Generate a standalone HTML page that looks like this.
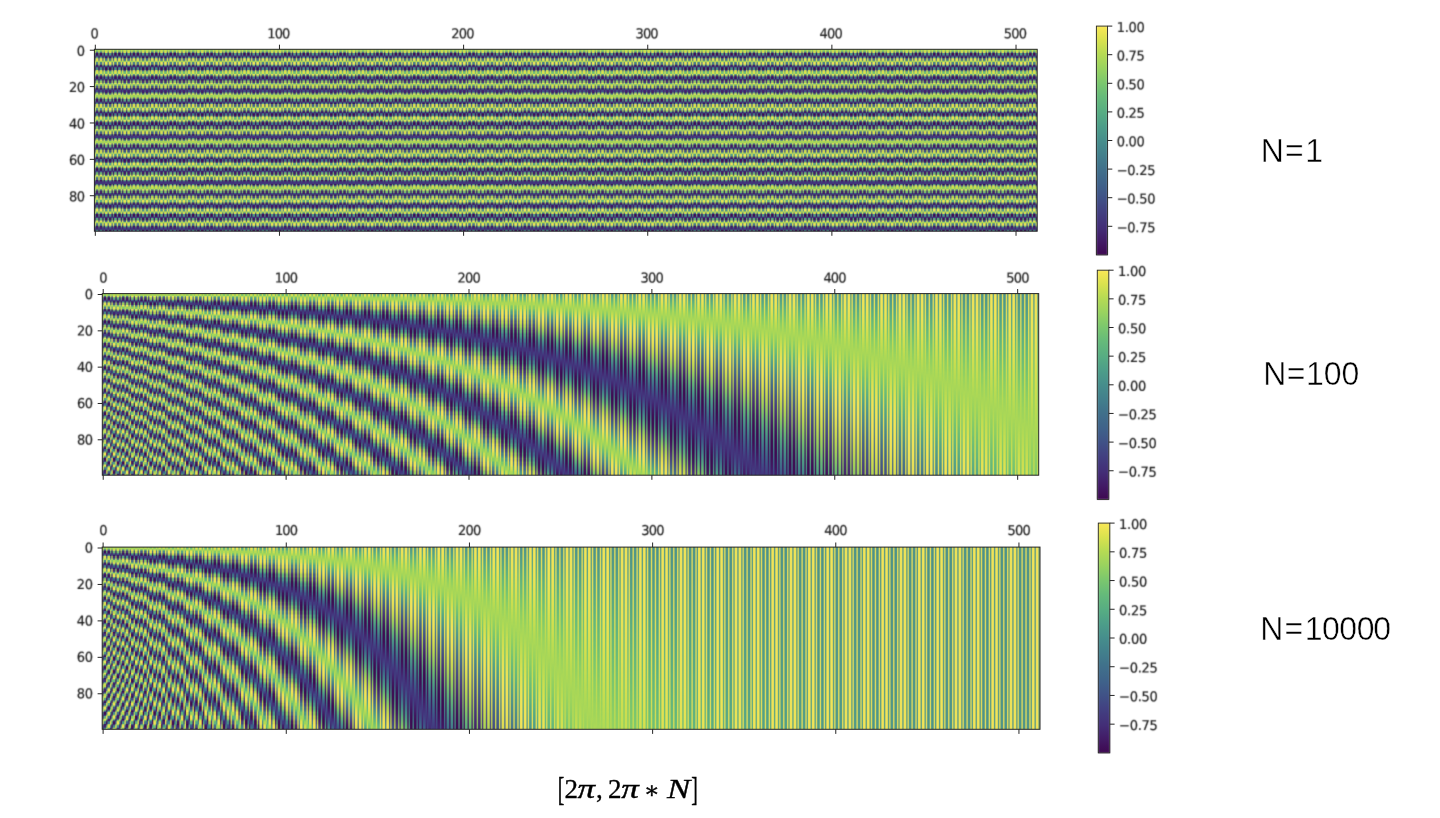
<!DOCTYPE html>
<html lang="en"><head><meta charset="utf-8"><title>Positional encoding wavelengths</title>
<style>
html,body{margin:0;padding:0;background:#fff;}
body{width:1440px;height:818px;position:relative;overflow:hidden;font-family:"Liberation Sans",sans-serif;}
svg{position:absolute;left:0;top:0;}
svg svg{position:static;}
.tk{font-family:"DejaVu Sans","Liberation Sans",sans-serif;font-size:13px;fill:#1c1c1c;stroke:#1c1c1c;stroke-width:.2px;}
.nl{font-family:"Liberation Sans",sans-serif;font-size:32px;fill:#000;stroke:#fff;stroke-width:.45px;}
.mt{font-family:"Liberation Serif","DejaVu Serif",serif;fill:#000;stroke:#000;stroke-width:.35px;}
</style></head><body>
<svg id="fig" width="1440" height="818" viewBox="0 0 1440 818">
<defs>
<filter id="soft" filterUnits="userSpaceOnUse" x="0" y="0" width="1200" height="818" color-interpolation-filters="sRGB"><feConvolveMatrix order="3" kernelMatrix="1 4 1 4 16 4 1 4 1"/></filter>
<filter id="vm0" filterUnits="userSpaceOnUse" x="93" y="48" width="946" height="185" color-interpolation-filters="sRGB"><feComponentTransfer><feFuncR type="table" tableValues=".978 .978 .978 .970 .962 .954 .938 .921 .904 .879 .853 .827 .801 .767 .733 .699 .666 .627 .596 .559 .525 .486 .457 .425 .396 .375 .353 .334 .316 .304 .293 .284 .276 .269 .263 .258 .254 .250 .247 .246 .246 .246 .248 .250 .253 .256 .259 .261 .263 .264 .264 .264 .263 .261 .259 .257 .254 .252 .249 .246 .245 .244 .242 .242 .242"/><feFuncG type="table" tableValues=".909 .909 .909 .908 .906 .905 .901 .898 .895 .891 .886 .881 .876 .870 .862 .855 .846 .835 .826 .813 .800 .782 .767 .749 .729 .712 .692 .670 .646 .624 .602 .580 .559 .533 .512 .490 .468 .443 .421 .398 .379 .356 .332 .312 .286 .265 .243 .225 .203 .185 .166 .148 .130 .116 .102 .088 .074 .065 .055 .045 .040 .034 .030 .030 .030"/><feFuncB type="table" tableValues=".334 .334 .334 .331 .328 .325 .319 .315 .311 .307 .305 .306 .308 .313 .321 .330 .342 .358 .371 .388 .406 .426 .443 .461 .478 .491 .504 .516 .527 .535 .541 .545 .548 .550 .550 .550 .549 .547 .545 .543 .540 .537 .532 .528 .521 .513 .504 .495 .482 .470 .456 .441 .424 .411 .397 .382 .367 .356 .345 .334 .328 .322 .317 .317 .317"/></feComponentTransfer></filter>
<filter id="bl0" filterUnits="userSpaceOnUse" x="93" y="48" width="946" height="185" color-interpolation-filters="sRGB"><feConvolveMatrix order="3" kernelMatrix="1 8 1 8 64 8 1 8 1" edgeMode="duplicate" preserveAlpha="true"/></filter>
<filter id="nf0" filterUnits="userSpaceOnUse" x="93" y="48" width="946" height="185" color-interpolation-filters="sRGB"><feOffset dx="0" dy="0"/></filter>
<clipPath id="cp0"><rect x="94.4" y="49.3" width="942.8" height="181.9"/></clipPath>
<filter id="vm1" filterUnits="userSpaceOnUse" x="101" y="292" width="939" height="185" color-interpolation-filters="sRGB"><feComponentTransfer><feFuncR type="table" tableValues=".978 .978 .978 .970 .962 .954 .938 .921 .904 .879 .853 .827 .801 .767 .733 .699 .666 .627 .596 .559 .525 .486 .457 .425 .396 .375 .353 .334 .316 .304 .293 .284 .276 .269 .263 .258 .254 .250 .247 .246 .246 .246 .248 .250 .253 .256 .259 .261 .263 .264 .264 .264 .263 .261 .259 .257 .254 .252 .249 .246 .245 .244 .242 .242 .242"/><feFuncG type="table" tableValues=".909 .909 .909 .908 .906 .905 .901 .898 .895 .891 .886 .881 .876 .870 .862 .855 .846 .835 .826 .813 .800 .782 .767 .749 .729 .712 .692 .670 .646 .624 .602 .580 .559 .533 .512 .490 .468 .443 .421 .398 .379 .356 .332 .312 .286 .265 .243 .225 .203 .185 .166 .148 .130 .116 .102 .088 .074 .065 .055 .045 .040 .034 .030 .030 .030"/><feFuncB type="table" tableValues=".334 .334 .334 .331 .328 .325 .319 .315 .311 .307 .305 .306 .308 .313 .321 .330 .342 .358 .371 .388 .406 .426 .443 .461 .478 .491 .504 .516 .527 .535 .541 .545 .548 .550 .550 .550 .549 .547 .545 .543 .540 .537 .532 .528 .521 .513 .504 .495 .482 .470 .456 .441 .424 .411 .397 .382 .367 .356 .345 .334 .328 .322 .317 .317 .317"/></feComponentTransfer></filter>
<filter id="bl1" filterUnits="userSpaceOnUse" x="101" y="292" width="939" height="185" color-interpolation-filters="sRGB"><feConvolveMatrix order="3" kernelMatrix="1 8 1 8 64 8 1 8 1" edgeMode="duplicate" preserveAlpha="true"/></filter>
<filter id="nf1" filterUnits="userSpaceOnUse" x="101" y="292" width="939" height="185" color-interpolation-filters="sRGB"><feOffset dx="0" dy="0"/></filter>
<clipPath id="cp1"><rect x="102.3" y="293.6" width="936.4" height="181.6"/></clipPath>
<filter id="vm2" filterUnits="userSpaceOnUse" x="101" y="546" width="940" height="185" color-interpolation-filters="sRGB"><feComponentTransfer><feFuncR type="table" tableValues=".978 .978 .978 .970 .962 .954 .938 .921 .904 .879 .853 .827 .801 .767 .733 .699 .666 .627 .596 .559 .525 .486 .457 .425 .396 .375 .353 .334 .316 .304 .293 .284 .276 .269 .263 .258 .254 .250 .247 .246 .246 .246 .248 .250 .253 .256 .259 .261 .263 .264 .264 .264 .263 .261 .259 .257 .254 .252 .249 .246 .245 .244 .242 .242 .242"/><feFuncG type="table" tableValues=".909 .909 .909 .908 .906 .905 .901 .898 .895 .891 .886 .881 .876 .870 .862 .855 .846 .835 .826 .813 .800 .782 .767 .749 .729 .712 .692 .670 .646 .624 .602 .580 .559 .533 .512 .490 .468 .443 .421 .398 .379 .356 .332 .312 .286 .265 .243 .225 .203 .185 .166 .148 .130 .116 .102 .088 .074 .065 .055 .045 .040 .034 .030 .030 .030"/><feFuncB type="table" tableValues=".334 .334 .334 .331 .328 .325 .319 .315 .311 .307 .305 .306 .308 .313 .321 .330 .342 .358 .371 .388 .406 .426 .443 .461 .478 .491 .504 .516 .527 .535 .541 .545 .548 .550 .550 .550 .549 .547 .545 .543 .540 .537 .532 .528 .521 .513 .504 .495 .482 .470 .456 .441 .424 .411 .397 .382 .367 .356 .345 .334 .328 .322 .317 .317 .317"/></feComponentTransfer></filter>
<filter id="bl2" filterUnits="userSpaceOnUse" x="101" y="546" width="940" height="185" color-interpolation-filters="sRGB"><feConvolveMatrix order="3" kernelMatrix="1 8 1 8 64 8 1 8 1" edgeMode="duplicate" preserveAlpha="true"/></filter>
<filter id="nf2" filterUnits="userSpaceOnUse" x="101" y="546" width="940" height="185" color-interpolation-filters="sRGB"><feOffset dx="0" dy="0"/></filter>
<clipPath id="cp2"><rect x="102.2" y="547.1" width="937.8" height="182.2"/></clipPath>
<linearGradient id="b" gradientUnits="userSpaceOnUse" spreadMethod="reflect" x1="0" x2="0"><stop offset="0" stop-color="#000"/><stop offset="1" stop-color="#fff"/></linearGradient>
<linearGradient id="cb" x1="0" y1="0" x2="0" y2="1"><stop offset="0" stop-color="#fae855"/><stop offset="0.06" stop-color="#dae24e"/><stop offset="0.12" stop-color="#b7db53"/><stop offset="0.19" stop-color="#96d260"/><stop offset="0.25" stop-color="#7ac76e"/><stop offset="0.31" stop-color="#65ba7a"/><stop offset="0.38" stop-color="#56ac83"/><stop offset="0.44" stop-color="#4c9d89"/><stop offset="0.5" stop-color="#468e8c"/><stop offset="0.56" stop-color="#42808c"/><stop offset="0.62" stop-color="#40718b"/><stop offset="0.69" stop-color="#3f628a"/><stop offset="0.75" stop-color="#405287"/><stop offset="0.81" stop-color="#424081"/><stop offset="0.88" stop-color="#432e77"/><stop offset="0.94" stop-color="#421b66"/><stop offset="1" stop-color="#3e0851"/></linearGradient>
<clipPath id="ce0"><path d="M94.4 43h1.32v195h-1.32zM98.35 43h1.32v195h-1.32zM102.3 43h1.32v195h-1.32zM104.93 43h2.63v195h-2.63zM108.88 43h2.63v195h-2.63zM112.83 43h1.32v195h-1.32zM116.78 43h1.32v195h-1.32zM120.73 43h1.32v195h-1.32zM123.36 43h2.63v195h-2.63zM127.31 43h2.63v195h-2.63zM131.26 43h1.32v195h-1.32zM135.21 43h1.32v195h-1.32zM139.16 43h1.32v195h-1.32zM141.79 43h2.63v195h-2.63zM145.74 43h2.63v195h-2.63zM149.69 43h1.32v195h-1.32zM153.64 43h1.32v195h-1.32zM157.59 43h1.32v195h-1.32zM160.22 43h2.63v195h-2.63zM164.17 43h2.63v195h-2.63zM168.12 43h1.32v195h-1.32zM172.07 43h1.32v195h-1.32zM176.02 43h1.32v195h-1.32zM178.65 43h2.63v195h-2.63zM182.6 43h2.63v195h-2.63zM186.55 43h1.32v195h-1.32zM190.5 43h1.32v195h-1.32zM194.45 43h1.32v195h-1.32zM197.08 43h2.63v195h-2.63zM201.03 43h2.63v195h-2.63zM204.98 43h1.32v195h-1.32zM208.93 43h1.32v195h-1.32zM212.88 43h1.32v195h-1.32zM215.51 43h2.63v195h-2.63zM219.46 43h2.63v195h-2.63zM223.41 43h1.32v195h-1.32zM227.36 43h1.32v195h-1.32zM231.31 43h1.32v195h-1.32zM233.94 43h2.63v195h-2.63zM237.89 43h2.63v195h-2.63zM241.84 43h1.32v195h-1.32zM245.79 43h1.32v195h-1.32zM249.74 43h1.32v195h-1.32zM252.37 43h2.63v195h-2.63zM256.32 43h2.63v195h-2.63zM260.27 43h1.32v195h-1.32zM264.22 43h1.32v195h-1.32zM268.17 43h1.32v195h-1.32zM270.8 43h2.63v195h-2.63zM274.75 43h2.63v195h-2.63zM278.7 43h2.63v195h-2.63zM282.65 43h1.32v195h-1.32zM286.6 43h1.32v195h-1.32zM290.55 43h1.32v195h-1.32zM293.18 43h2.63v195h-2.63zM297.13 43h2.63v195h-2.63zM301.08 43h1.32v195h-1.32zM305.03 43h1.32v195h-1.32zM308.98 43h1.32v195h-1.32zM311.61 43h2.63v195h-2.63zM315.56 43h2.63v195h-2.63zM319.51 43h1.32v195h-1.32zM323.46 43h1.32v195h-1.32zM327.41 43h1.32v195h-1.32zM330.04 43h2.63v195h-2.63zM333.99 43h2.63v195h-2.63zM337.94 43h1.32v195h-1.32zM341.89 43h1.32v195h-1.32zM345.84 43h1.32v195h-1.32zM348.47 43h2.63v195h-2.63zM352.42 43h2.63v195h-2.63zM356.37 43h1.32v195h-1.32zM360.32 43h1.32v195h-1.32zM364.27 43h1.32v195h-1.32zM366.9 43h2.63v195h-2.63zM370.85 43h2.63v195h-2.63zM374.8 43h1.32v195h-1.32zM378.75 43h1.32v195h-1.32zM382.7 43h1.32v195h-1.32zM385.33 43h2.63v195h-2.63zM389.28 43h2.63v195h-2.63zM393.23 43h1.32v195h-1.32zM397.18 43h1.32v195h-1.32zM401.13 43h1.32v195h-1.32zM403.76 43h2.63v195h-2.63zM407.71 43h2.63v195h-2.63zM411.66 43h1.32v195h-1.32zM415.61 43h1.32v195h-1.32zM419.56 43h1.32v195h-1.32zM422.19 43h2.63v195h-2.63zM426.14 43h2.63v195h-2.63zM430.09 43h1.32v195h-1.32zM434.04 43h1.32v195h-1.32zM437.99 43h1.32v195h-1.32zM440.62 43h2.63v195h-2.63zM444.57 43h2.63v195h-2.63zM448.52 43h1.32v195h-1.32zM452.47 43h1.32v195h-1.32zM456.42 43h1.32v195h-1.32zM459.05 43h2.63v195h-2.63zM463 43h2.63v195h-2.63zM466.95 43h1.32v195h-1.32zM470.9 43h1.32v195h-1.32zM474.85 43h1.32v195h-1.32zM477.48 43h2.63v195h-2.63zM481.43 43h2.63v195h-2.63zM485.38 43h1.32v195h-1.32zM489.33 43h1.32v195h-1.32zM493.28 43h1.32v195h-1.32zM495.91 43h2.63v195h-2.63zM499.86 43h2.63v195h-2.63zM503.81 43h1.32v195h-1.32zM507.76 43h1.32v195h-1.32zM511.71 43h1.32v195h-1.32zM514.35 43h2.63v195h-2.63zM518.29 43h2.63v195h-2.63zM522.24 43h1.32v195h-1.32zM526.19 43h1.32v195h-1.32zM530.14 43h1.32v195h-1.32zM532.78 43h2.63v195h-2.63zM536.72 43h2.63v195h-2.63zM540.67 43h1.32v195h-1.32zM544.62 43h1.32v195h-1.32zM548.57 43h1.32v195h-1.32zM551.21 43h2.63v195h-2.63zM555.15 43h2.63v195h-2.63zM559.1 43h1.32v195h-1.32zM563.05 43h1.32v195h-1.32zM567 43h1.32v195h-1.32zM569.64 43h2.63v195h-2.63zM573.59 43h2.63v195h-2.63zM577.53 43h1.32v195h-1.32zM581.48 43h1.32v195h-1.32zM585.43 43h1.32v195h-1.32zM588.07 43h2.63v195h-2.63zM592.02 43h2.63v195h-2.63zM595.96 43h1.32v195h-1.32zM599.91 43h1.32v195h-1.32zM603.86 43h1.32v195h-1.32zM606.5 43h2.63v195h-2.63zM610.45 43h2.63v195h-2.63zM614.39 43h1.32v195h-1.32zM618.34 43h1.32v195h-1.32zM622.29 43h1.32v195h-1.32zM624.93 43h2.63v195h-2.63zM628.88 43h2.63v195h-2.63zM632.82 43h1.32v195h-1.32zM636.77 43h1.32v195h-1.32zM640.72 43h1.32v195h-1.32zM643.36 43h2.63v195h-2.63zM647.31 43h2.63v195h-2.63zM651.26 43h2.63v195h-2.63zM655.2 43h1.32v195h-1.32zM659.15 43h1.32v195h-1.32zM663.1 43h1.32v195h-1.32zM665.74 43h2.63v195h-2.63zM669.69 43h2.63v195h-2.63zM673.63 43h1.32v195h-1.32zM677.58 43h1.32v195h-1.32zM681.53 43h1.32v195h-1.32zM684.17 43h2.63v195h-2.63zM688.12 43h2.63v195h-2.63zM692.06 43h1.32v195h-1.32zM696.01 43h1.32v195h-1.32zM699.96 43h1.32v195h-1.32zM702.6 43h2.63v195h-2.63zM706.55 43h2.63v195h-2.63zM710.5 43h1.32v195h-1.32zM714.44 43h1.32v195h-1.32zM718.39 43h1.32v195h-1.32zM721.03 43h2.63v195h-2.63zM724.98 43h2.63v195h-2.63zM728.93 43h1.32v195h-1.32zM732.87 43h1.32v195h-1.32zM736.82 43h1.32v195h-1.32zM739.46 43h2.63v195h-2.63zM743.41 43h2.63v195h-2.63zM747.36 43h1.32v195h-1.32zM751.3 43h1.32v195h-1.32zM755.25 43h1.32v195h-1.32zM757.89 43h2.63v195h-2.63zM761.84 43h2.63v195h-2.63zM765.79 43h1.32v195h-1.32zM769.74 43h1.32v195h-1.32zM773.68 43h1.32v195h-1.32zM776.32 43h2.63v195h-2.63zM780.27 43h2.63v195h-2.63zM784.22 43h1.32v195h-1.32zM788.17 43h1.32v195h-1.32zM792.11 43h1.32v195h-1.32zM794.75 43h2.63v195h-2.63zM798.7 43h2.63v195h-2.63zM802.65 43h1.32v195h-1.32zM806.6 43h1.32v195h-1.32zM810.54 43h1.32v195h-1.32zM813.18 43h2.63v195h-2.63zM817.13 43h2.63v195h-2.63zM821.08 43h1.32v195h-1.32zM825.03 43h1.32v195h-1.32zM828.97 43h1.32v195h-1.32zM831.61 43h2.63v195h-2.63zM835.56 43h2.63v195h-2.63zM839.51 43h1.32v195h-1.32zM843.46 43h1.32v195h-1.32zM847.41 43h1.32v195h-1.32zM850.04 43h2.63v195h-2.63zM853.99 43h2.63v195h-2.63zM857.94 43h1.32v195h-1.32zM861.89 43h1.32v195h-1.32zM865.84 43h1.32v195h-1.32zM868.47 43h2.63v195h-2.63zM872.42 43h2.63v195h-2.63zM876.37 43h1.32v195h-1.32zM880.32 43h1.32v195h-1.32zM884.27 43h1.32v195h-1.32zM886.9 43h2.63v195h-2.63zM890.85 43h2.63v195h-2.63zM894.8 43h1.32v195h-1.32zM898.75 43h1.32v195h-1.32zM902.7 43h1.32v195h-1.32zM905.33 43h2.63v195h-2.63zM909.28 43h2.63v195h-2.63zM913.23 43h1.32v195h-1.32zM917.18 43h1.32v195h-1.32zM921.13 43h1.32v195h-1.32zM923.76 43h2.63v195h-2.63zM927.71 43h2.63v195h-2.63zM931.66 43h1.32v195h-1.32zM935.61 43h1.32v195h-1.32zM939.56 43h1.32v195h-1.32zM942.19 43h2.63v195h-2.63zM946.14 43h2.63v195h-2.63zM950.09 43h1.32v195h-1.32zM954.04 43h1.32v195h-1.32zM957.99 43h1.32v195h-1.32zM960.62 43h2.63v195h-2.63zM964.57 43h2.63v195h-2.63zM968.52 43h1.32v195h-1.32zM972.47 43h1.32v195h-1.32zM976.42 43h1.32v195h-1.32zM979.05 43h2.63v195h-2.63zM983 43h2.63v195h-2.63zM986.95 43h1.32v195h-1.32zM990.9 43h1.32v195h-1.32zM994.85 43h1.32v195h-1.32zM997.48 43h2.63v195h-2.63zM1001.43 43h2.63v195h-2.63zM1005.38 43h1.32v195h-1.32zM1009.33 43h1.32v195h-1.32zM1013.28 43h1.32v195h-1.32zM1015.91 43h2.63v195h-2.63zM1019.86 43h2.63v195h-2.63zM1023.81 43h2.63v195h-2.63zM1027.76 43h1.32v195h-1.32zM1031.71 43h1.32v195h-1.32zM1035.66 43h1.32v195h-1.32z"/></clipPath>
<clipPath id="cr0"><path d="M93 47.7h946v1.31h-946zM93 51.63h946v1.31h-946zM93 55.56h946v1.31h-946zM93 58.18h946v2.62h-946zM93 62.11h946v2.62h-946zM93 66.04h946v1.31h-946zM93 69.97h946v1.31h-946zM93 73.9h946v1.31h-946zM93 76.52h946v2.62h-946zM93 80.44h946v2.62h-946zM93 84.37h946v1.31h-946zM93 88.3h946v1.31h-946zM93 92.23h946v1.31h-946zM93 94.85h946v2.62h-946zM93 98.78h946v2.62h-946zM93 102.71h946v1.31h-946zM93 106.64h946v1.31h-946zM93 110.57h946v1.31h-946zM93 113.19h946v2.62h-946zM93 117.12h946v2.62h-946zM93 121.05h946v1.31h-946zM93 124.98h946v1.31h-946zM93 128.91h946v1.31h-946zM93 131.53h946v2.62h-946zM93 135.46h946v2.62h-946zM93 139.38h946v1.31h-946zM93 143.31h946v1.31h-946zM93 147.24h946v1.31h-946zM93 149.86h946v2.62h-946zM93 153.79h946v2.62h-946zM93 157.72h946v1.31h-946zM93 161.65h946v1.31h-946zM93 165.58h946v1.31h-946zM93 168.2h946v2.62h-946zM93 172.13h946v2.62h-946zM93 176.06h946v1.31h-946zM93 179.99h946v1.31h-946zM93 183.92h946v1.31h-946zM93 186.54h946v2.62h-946zM93 190.47h946v2.62h-946zM93 194.4h946v1.31h-946zM93 198.32h946v1.31h-946zM93 202.25h946v1.31h-946zM93 204.87h946v2.62h-946zM93 208.8h946v2.62h-946zM93 212.73h946v1.31h-946zM93 216.66h946v1.31h-946zM93 220.59h946v1.31h-946zM93 223.21h946v2.62h-946zM93 227.14h946v2.62h-946z"/></clipPath>
<linearGradient id="p0s" href="#b" y1="51.5" y2="57.265"/>
<linearGradient id="p0c" href="#b" y1="48.617" y2="54.382"/>
<g id="c00" shape-rendering="crispEdges"><rect x="93" y="43" width="946" height="195" fill="url(#p0s)"/></g>
<g id="c01" shape-rendering="crispEdges"><rect x="93" y="43" width="946" height="195" fill="url(#p0c)"/></g>
<clipPath id="ce1"><path d="M102.3 287h1.31v195h-1.31zM106.22 287h1.31v195h-1.31zM110.15 287h1.31v195h-1.31zM112.76 287h2.62v195h-2.62zM116.68 287h2.62v195h-2.62zM120.61 287h1.31v195h-1.31zM124.53 287h1.31v195h-1.31zM128.45 287h1.31v195h-1.31zM131.07 287h2.62v195h-2.62zM134.99 287h2.62v195h-2.62zM138.91 287h1.31v195h-1.31zM142.83 287h1.31v195h-1.31zM146.76 287h1.31v195h-1.31zM149.37 287h2.62v195h-2.62zM153.29 287h2.62v195h-2.62zM157.22 287h1.31v195h-1.31zM161.14 287h1.31v195h-1.31zM165.06 287h1.31v195h-1.31zM167.68 287h2.62v195h-2.62zM171.6 287h2.62v195h-2.62zM175.52 287h1.31v195h-1.31zM179.44 287h1.31v195h-1.31zM183.37 287h1.31v195h-1.31zM185.98 287h2.62v195h-2.62zM189.9 287h2.62v195h-2.62zM193.83 287h1.31v195h-1.31zM197.75 287h1.31v195h-1.31zM201.67 287h1.31v195h-1.31zM204.29 287h2.62v195h-2.62zM208.21 287h2.62v195h-2.62zM212.13 287h1.31v195h-1.31zM216.05 287h1.31v195h-1.31zM219.98 287h1.31v195h-1.31zM222.59 287h2.62v195h-2.62zM226.51 287h2.62v195h-2.62zM230.44 287h1.31v195h-1.31zM234.36 287h1.31v195h-1.31zM238.28 287h1.31v195h-1.31zM240.9 287h2.62v195h-2.62zM244.82 287h2.62v195h-2.62zM248.74 287h1.31v195h-1.31zM252.66 287h1.31v195h-1.31zM256.59 287h1.31v195h-1.31zM259.2 287h2.62v195h-2.62zM263.12 287h2.62v195h-2.62zM267.05 287h1.31v195h-1.31zM270.97 287h1.31v195h-1.31zM274.89 287h1.31v195h-1.31zM277.51 287h2.62v195h-2.62zM281.43 287h2.62v195h-2.62zM285.35 287h2.62v195h-2.62zM289.28 287h1.31v195h-1.31zM293.2 287h1.31v195h-1.31zM297.12 287h1.31v195h-1.31zM299.74 287h2.62v195h-2.62zM303.66 287h2.62v195h-2.62zM307.58 287h1.31v195h-1.31zM311.5 287h1.31v195h-1.31zM315.43 287h1.31v195h-1.31zM318.04 287h2.62v195h-2.62zM321.96 287h2.62v195h-2.62zM325.89 287h1.31v195h-1.31zM329.81 287h1.31v195h-1.31zM333.73 287h1.31v195h-1.31zM336.35 287h2.62v195h-2.62zM340.27 287h2.62v195h-2.62zM344.19 287h1.31v195h-1.31zM348.11 287h1.31v195h-1.31zM352.04 287h1.31v195h-1.31zM354.65 287h2.62v195h-2.62zM358.57 287h2.62v195h-2.62zM362.5 287h1.31v195h-1.31zM366.42 287h1.31v195h-1.31zM370.34 287h1.31v195h-1.31zM372.96 287h2.62v195h-2.62zM376.88 287h2.62v195h-2.62zM380.8 287h1.31v195h-1.31zM384.72 287h1.31v195h-1.31zM388.65 287h1.31v195h-1.31zM391.26 287h2.62v195h-2.62zM395.18 287h2.62v195h-2.62zM399.11 287h1.31v195h-1.31zM403.03 287h1.31v195h-1.31zM406.95 287h1.31v195h-1.31zM409.57 287h2.62v195h-2.62zM413.49 287h2.62v195h-2.62zM417.41 287h1.31v195h-1.31zM421.33 287h1.31v195h-1.31zM425.26 287h1.31v195h-1.31zM427.87 287h2.62v195h-2.62zM431.8 287h2.62v195h-2.62zM435.72 287h1.31v195h-1.31zM439.64 287h1.31v195h-1.31zM443.56 287h1.31v195h-1.31zM446.18 287h2.62v195h-2.62zM450.1 287h2.62v195h-2.62zM454.02 287h1.31v195h-1.31zM457.95 287h1.31v195h-1.31zM461.87 287h1.31v195h-1.31zM464.48 287h2.62v195h-2.62zM468.41 287h2.62v195h-2.62zM472.33 287h1.31v195h-1.31zM476.25 287h1.31v195h-1.31zM480.17 287h1.31v195h-1.31zM482.79 287h2.62v195h-2.62zM486.71 287h2.62v195h-2.62zM490.63 287h1.31v195h-1.31zM494.56 287h1.31v195h-1.31zM498.48 287h1.31v195h-1.31zM501.09 287h2.62v195h-2.62zM505.02 287h2.62v195h-2.62zM508.94 287h1.31v195h-1.31zM512.86 287h1.31v195h-1.31zM516.78 287h1.31v195h-1.31zM519.4 287h2.62v195h-2.62zM523.32 287h2.62v195h-2.62zM527.24 287h1.31v195h-1.31zM531.17 287h1.31v195h-1.31zM535.09 287h1.31v195h-1.31zM537.7 287h2.62v195h-2.62zM541.63 287h2.62v195h-2.62zM545.55 287h1.31v195h-1.31zM549.47 287h1.31v195h-1.31zM553.39 287h1.31v195h-1.31zM556.01 287h2.62v195h-2.62zM559.93 287h2.62v195h-2.62zM563.85 287h1.31v195h-1.31zM567.78 287h1.31v195h-1.31zM571.7 287h1.31v195h-1.31zM574.31 287h2.62v195h-2.62zM578.24 287h2.62v195h-2.62zM582.16 287h1.31v195h-1.31zM586.08 287h1.31v195h-1.31zM590.01 287h1.31v195h-1.31zM592.62 287h2.62v195h-2.62zM596.54 287h2.62v195h-2.62zM600.47 287h1.31v195h-1.31zM604.39 287h1.31v195h-1.31zM608.31 287h1.31v195h-1.31zM610.93 287h2.62v195h-2.62zM614.85 287h2.62v195h-2.62zM618.77 287h1.31v195h-1.31zM622.69 287h1.31v195h-1.31zM626.62 287h1.31v195h-1.31zM629.23 287h2.62v195h-2.62zM633.15 287h2.62v195h-2.62zM637.08 287h1.31v195h-1.31zM641 287h1.31v195h-1.31zM644.92 287h1.31v195h-1.31zM647.54 287h2.62v195h-2.62zM651.46 287h2.62v195h-2.62zM655.38 287h2.62v195h-2.62zM659.3 287h1.31v195h-1.31zM663.23 287h1.31v195h-1.31zM667.15 287h1.31v195h-1.31zM669.76 287h2.62v195h-2.62zM673.69 287h2.62v195h-2.62zM677.61 287h1.31v195h-1.31zM681.53 287h1.31v195h-1.31zM685.45 287h1.31v195h-1.31zM688.07 287h2.62v195h-2.62zM691.99 287h2.62v195h-2.62zM695.91 287h1.31v195h-1.31zM699.84 287h1.31v195h-1.31zM703.76 287h1.31v195h-1.31zM706.37 287h2.62v195h-2.62zM710.3 287h2.62v195h-2.62zM714.22 287h1.31v195h-1.31zM718.14 287h1.31v195h-1.31zM722.06 287h1.31v195h-1.31zM724.68 287h2.62v195h-2.62zM728.6 287h2.62v195h-2.62zM732.52 287h1.31v195h-1.31zM736.45 287h1.31v195h-1.31zM740.37 287h1.31v195h-1.31zM742.98 287h2.62v195h-2.62zM746.91 287h2.62v195h-2.62zM750.83 287h1.31v195h-1.31zM754.75 287h1.31v195h-1.31zM758.68 287h1.31v195h-1.31zM761.29 287h2.62v195h-2.62zM765.21 287h2.62v195h-2.62zM769.14 287h1.31v195h-1.31zM773.06 287h1.31v195h-1.31zM776.98 287h1.31v195h-1.31zM779.6 287h2.62v195h-2.62zM783.52 287h2.62v195h-2.62zM787.44 287h1.31v195h-1.31zM791.36 287h1.31v195h-1.31zM795.29 287h1.31v195h-1.31zM797.9 287h2.62v195h-2.62zM801.82 287h2.62v195h-2.62zM805.75 287h1.31v195h-1.31zM809.67 287h1.31v195h-1.31zM813.59 287h1.31v195h-1.31zM816.21 287h2.62v195h-2.62zM820.13 287h2.62v195h-2.62zM824.05 287h1.31v195h-1.31zM827.97 287h1.31v195h-1.31zM831.9 287h1.31v195h-1.31zM834.51 287h2.62v195h-2.62zM838.43 287h2.62v195h-2.62zM842.36 287h1.31v195h-1.31zM846.28 287h1.31v195h-1.31zM850.2 287h1.31v195h-1.31zM852.82 287h2.62v195h-2.62zM856.74 287h2.62v195h-2.62zM860.66 287h1.31v195h-1.31zM864.58 287h1.31v195h-1.31zM868.51 287h1.31v195h-1.31zM871.12 287h2.62v195h-2.62zM875.04 287h2.62v195h-2.62zM878.97 287h1.31v195h-1.31zM882.89 287h1.31v195h-1.31zM886.81 287h1.31v195h-1.31zM889.43 287h2.62v195h-2.62zM893.35 287h2.62v195h-2.62zM897.27 287h1.31v195h-1.31zM901.19 287h1.31v195h-1.31zM905.12 287h1.31v195h-1.31zM907.73 287h2.62v195h-2.62zM911.66 287h2.62v195h-2.62zM915.58 287h1.31v195h-1.31zM919.5 287h1.31v195h-1.31zM923.42 287h1.31v195h-1.31zM926.04 287h2.62v195h-2.62zM929.96 287h2.62v195h-2.62zM933.88 287h1.31v195h-1.31zM937.81 287h1.31v195h-1.31zM941.73 287h1.31v195h-1.31zM944.34 287h2.62v195h-2.62zM948.27 287h2.62v195h-2.62zM952.19 287h1.31v195h-1.31zM956.11 287h1.31v195h-1.31zM960.03 287h1.31v195h-1.31zM962.65 287h2.62v195h-2.62zM966.57 287h2.62v195h-2.62zM970.49 287h1.31v195h-1.31zM974.42 287h1.31v195h-1.31zM978.34 287h1.31v195h-1.31zM980.95 287h2.62v195h-2.62zM984.88 287h2.62v195h-2.62zM988.8 287h1.31v195h-1.31zM992.72 287h1.31v195h-1.31zM996.64 287h1.31v195h-1.31zM999.26 287h2.62v195h-2.62zM1003.18 287h2.62v195h-2.62zM1007.1 287h1.31v195h-1.31zM1011.03 287h1.31v195h-1.31zM1014.95 287h1.31v195h-1.31zM1017.56 287h2.62v195h-2.62zM1021.49 287h2.62v195h-2.62zM1025.41 287h2.62v195h-2.62zM1029.33 287h1.31v195h-1.31zM1033.25 287h1.31v195h-1.31zM1037.18 287h1.31v195h-1.31z"/></clipPath>
<clipPath id="cr1"><path d="M101 292h939v1.31h-939zM101 295.92h939v1.31h-939zM101 299.85h939v1.31h-939zM101 302.46h939v2.62h-939zM101 306.38h939v2.62h-939zM101 310.31h939v1.31h-939zM101 314.23h939v1.31h-939zM101 318.15h939v1.31h-939zM101 320.77h939v2.62h-939zM101 324.69h939v2.62h-939zM101 328.61h939v1.31h-939zM101 332.54h939v1.31h-939zM101 336.46h939v1.31h-939zM101 339.07h939v2.62h-939zM101 343h939v2.62h-939zM101 346.92h939v1.31h-939zM101 350.84h939v1.31h-939zM101 354.77h939v1.31h-939zM101 357.38h939v2.62h-939zM101 361.3h939v2.62h-939zM101 365.23h939v1.31h-939zM101 369.15h939v1.31h-939zM101 373.07h939v1.31h-939zM101 375.69h939v2.62h-939zM101 379.61h939v2.62h-939zM101 383.53h939v1.31h-939zM101 387.46h939v1.31h-939zM101 391.38h939v1.31h-939zM101 394h939v2.62h-939zM101 397.92h939v2.62h-939zM101 401.84h939v1.31h-939zM101 405.76h939v1.31h-939zM101 409.69h939v1.31h-939zM101 412.3h939v2.62h-939zM101 416.23h939v2.62h-939zM101 420.15h939v1.31h-939zM101 424.07h939v1.31h-939zM101 427.99h939v1.31h-939zM101 430.61h939v2.62h-939zM101 434.53h939v2.62h-939zM101 438.46h939v1.31h-939zM101 442.38h939v1.31h-939zM101 446.3h939v1.31h-939zM101 448.92h939v2.62h-939zM101 452.84h939v2.62h-939zM101 456.76h939v1.31h-939zM101 460.69h939v1.31h-939zM101 464.61h939v1.31h-939zM101 467.22h939v2.62h-939zM101 471.15h939v2.62h-939z"/></clipPath>
<linearGradient id="g1_0" href="#b" y1="295.794" y2="301.549"/>
<linearGradient id="g1_1" href="#b" y1="292.916" y2="298.671"/>
<linearGradient id="g1_2" href="#b" y1="295.846" y2="301.706"/>
<linearGradient id="g1_3" href="#b" y1="292.916" y2="298.776"/>
<linearGradient id="g1_4" href="#b" y1="295.899" y2="301.865"/>
<linearGradient id="g1_5" href="#b" y1="292.916" y2="298.882"/>
<linearGradient id="g1_6" href="#b" y1="295.953" y2="302.028"/>
<linearGradient id="g1_7" href="#b" y1="292.916" y2="298.991"/>
<linearGradient id="g1_8" href="#b" y1="296.008" y2="302.193"/>
<linearGradient id="g1_9" href="#b" y1="292.916" y2="299.101"/>
<linearGradient id="g1_10" href="#b" y1="296.065" y2="302.362"/>
<linearGradient id="g1_11" href="#b" y1="292.916" y2="299.213"/>
<linearGradient id="g1_12" href="#b" y1="296.122" y2="302.533"/>
<linearGradient id="g1_13" href="#b" y1="292.916" y2="299.327"/>
<linearGradient id="g1_14" href="#b" y1="296.18" y2="302.708"/>
<linearGradient id="g1_15" href="#b" y1="292.916" y2="299.444"/>
<linearGradient id="g1_16" href="#b" y1="296.239" y2="302.885"/>
<linearGradient id="g1_17" href="#b" y1="292.916" y2="299.562"/>
<linearGradient id="g1_18" href="#b" y1="296.299" y2="303.066"/>
<linearGradient id="g1_19" href="#b" y1="292.916" y2="299.683"/>
<linearGradient id="g1_20" href="#b" y1="296.361" y2="303.251"/>
<linearGradient id="g1_21" href="#b" y1="292.916" y2="299.806"/>
<linearGradient id="g1_22" href="#b" y1="296.423" y2="303.438"/>
<linearGradient id="g1_23" href="#b" y1="292.916" y2="299.931"/>
<linearGradient id="g1_24" href="#b" y1="296.487" y2="303.629"/>
<linearGradient id="g1_25" href="#b" y1="292.916" y2="300.058"/>
<linearGradient id="g1_26" href="#b" y1="296.552" y2="303.824"/>
<linearGradient id="g1_27" href="#b" y1="292.916" y2="300.188"/>
<linearGradient id="g1_28" href="#b" y1="296.618" y2="304.022"/>
<linearGradient id="g1_29" href="#b" y1="292.916" y2="300.32"/>
<linearGradient id="g1_30" href="#b" y1="296.685" y2="304.223"/>
<linearGradient id="g1_31" href="#b" y1="292.916" y2="300.454"/>
<linearGradient id="g1_32" href="#b" y1="296.753" y2="304.428"/>
<linearGradient id="g1_33" href="#b" y1="292.916" y2="300.591"/>
<linearGradient id="g1_34" href="#b" y1="296.823" y2="304.637"/>
<linearGradient id="g1_35" href="#b" y1="292.916" y2="300.73"/>
<linearGradient id="g1_36" href="#b" y1="296.894" y2="304.85"/>
<linearGradient id="g1_37" href="#b" y1="292.916" y2="300.872"/>
<linearGradient id="g1_38" href="#b" y1="296.966" y2="305.067"/>
<linearGradient id="g1_39" href="#b" y1="292.916" y2="301.017"/>
<linearGradient id="g1_40" href="#b" y1="297.04" y2="305.287"/>
<linearGradient id="g1_41" href="#b" y1="292.916" y2="301.164"/>
<linearGradient id="g1_42" href="#b" y1="297.115" y2="305.512"/>
<linearGradient id="g1_43" href="#b" y1="292.916" y2="301.313"/>
<linearGradient id="g1_44" href="#b" y1="297.191" y2="305.741"/>
<linearGradient id="g1_45" href="#b" y1="292.916" y2="301.466"/>
<linearGradient id="g1_46" href="#b" y1="297.268" y2="305.973"/>
<linearGradient id="g1_47" href="#b" y1="292.916" y2="301.621"/>
<linearGradient id="g1_48" href="#b" y1="297.347" y2="306.21"/>
<linearGradient id="g1_49" href="#b" y1="292.916" y2="301.779"/>
<linearGradient id="g1_50" href="#b" y1="297.428" y2="306.452"/>
<linearGradient id="g1_51" href="#b" y1="292.916" y2="301.94"/>
<linearGradient id="g1_52" href="#b" y1="297.51" y2="306.697"/>
<linearGradient id="g1_53" href="#b" y1="292.916" y2="302.104"/>
<linearGradient id="g1_54" href="#b" y1="297.593" y2="306.948"/>
<linearGradient id="g1_55" href="#b" y1="292.916" y2="302.27"/>
<linearGradient id="g1_56" href="#b" y1="297.678" y2="307.202"/>
<linearGradient id="g1_57" href="#b" y1="292.916" y2="302.44"/>
<linearGradient id="g1_58" href="#b" y1="297.765" y2="307.462"/>
<linearGradient id="g1_59" href="#b" y1="292.916" y2="302.613"/>
<linearGradient id="g1_60" href="#b" y1="297.853" y2="307.726"/>
<linearGradient id="g1_61" href="#b" y1="292.916" y2="302.789"/>
<linearGradient id="g1_62" href="#b" y1="297.942" y2="307.994"/>
<linearGradient id="g1_63" href="#b" y1="292.916" y2="302.968"/>
<linearGradient id="g1_64" href="#b" y1="298.033" y2="308.268"/>
<linearGradient id="g1_65" href="#b" y1="292.916" y2="303.151"/>
<linearGradient id="g1_66" href="#b" y1="298.126" y2="308.547"/>
<linearGradient id="g1_67" href="#b" y1="292.916" y2="303.336"/>
<linearGradient id="g1_68" href="#b" y1="298.221" y2="308.83"/>
<linearGradient id="g1_69" href="#b" y1="292.916" y2="303.526"/>
<linearGradient id="g1_70" href="#b" y1="298.317" y2="309.119"/>
<linearGradient id="g1_71" href="#b" y1="292.916" y2="303.718"/>
<linearGradient id="g1_72" href="#b" y1="298.415" y2="309.413"/>
<linearGradient id="g1_73" href="#b" y1="292.916" y2="303.914"/>
<linearGradient id="g1_74" href="#b" y1="298.515" y2="309.713"/>
<linearGradient id="g1_75" href="#b" y1="292.916" y2="304.114"/>
<linearGradient id="g1_76" href="#b" y1="298.617" y2="310.018"/>
<linearGradient id="g1_77" href="#b" y1="292.916" y2="304.317"/>
<linearGradient id="g1_78" href="#b" y1="298.72" y2="310.328"/>
<linearGradient id="g1_79" href="#b" y1="292.916" y2="304.524"/>
<linearGradient id="g1_80" href="#b" y1="298.825" y2="310.644"/>
<linearGradient id="g1_81" href="#b" y1="292.916" y2="304.735"/>
<linearGradient id="g1_82" href="#b" y1="298.933" y2="310.966"/>
<linearGradient id="g1_83" href="#b" y1="292.916" y2="304.949"/>
<linearGradient id="g1_84" href="#b" y1="299.042" y2="311.294"/>
<linearGradient id="g1_85" href="#b" y1="292.916" y2="305.168"/>
<linearGradient id="g1_86" href="#b" y1="299.153" y2="311.627"/>
<linearGradient id="g1_87" href="#b" y1="292.916" y2="305.39"/>
<linearGradient id="g1_88" href="#b" y1="299.266" y2="311.967"/>
<linearGradient id="g1_89" href="#b" y1="292.916" y2="305.617"/>
<linearGradient id="g1_90" href="#b" y1="299.382" y2="312.313"/>
<linearGradient id="g1_91" href="#b" y1="292.916" y2="305.847"/>
<linearGradient id="g1_92" href="#b" y1="299.499" y2="312.665"/>
<linearGradient id="g1_93" href="#b" y1="292.916" y2="306.082"/>
<linearGradient id="g1_94" href="#b" y1="299.618" y2="313.023"/>
<linearGradient id="g1_95" href="#b" y1="292.916" y2="306.321"/>
<linearGradient id="g1_96" href="#b" y1="299.74" y2="313.388"/>
<linearGradient id="g1_97" href="#b" y1="292.916" y2="306.564"/>
<linearGradient id="g1_98" href="#b" y1="299.864" y2="313.76"/>
<linearGradient id="g1_99" href="#b" y1="292.916" y2="306.812"/>
<linearGradient id="g1_100" href="#b" y1="299.99" y2="314.138"/>
<linearGradient id="g1_101" href="#b" y1="292.916" y2="307.064"/>
<linearGradient id="g1_102" href="#b" y1="300.118" y2="314.523"/>
<linearGradient id="g1_103" href="#b" y1="292.916" y2="307.321"/>
<linearGradient id="g1_104" href="#b" y1="300.249" y2="314.916"/>
<linearGradient id="g1_105" href="#b" y1="292.916" y2="307.582"/>
<linearGradient id="g1_106" href="#b" y1="300.382" y2="315.315"/>
<linearGradient id="g1_107" href="#b" y1="292.916" y2="307.849"/>
<linearGradient id="g1_108" href="#b" y1="300.518" y2="315.722"/>
<linearGradient id="g1_109" href="#b" y1="292.916" y2="308.12"/>
<linearGradient id="g1_110" href="#b" y1="300.656" y2="316.136"/>
<linearGradient id="g1_111" href="#b" y1="292.916" y2="308.396"/>
<linearGradient id="g1_112" href="#b" y1="300.796" y2="316.557"/>
<linearGradient id="g1_113" href="#b" y1="292.916" y2="308.677"/>
<linearGradient id="g1_114" href="#b" y1="300.939" y2="316.986"/>
<linearGradient id="g1_115" href="#b" y1="292.916" y2="308.963"/>
<linearGradient id="g1_116" href="#b" y1="301.085" y2="317.423"/>
<linearGradient id="g1_117" href="#b" y1="292.916" y2="309.254"/>
<linearGradient id="g1_118" href="#b" y1="301.233" y2="317.868"/>
<linearGradient id="g1_119" href="#b" y1="292.916" y2="309.551"/>
<linearGradient id="g1_120" href="#b" y1="301.384" y2="318.321"/>
<linearGradient id="g1_121" href="#b" y1="292.916" y2="309.853"/>
<linearGradient id="g1_122" href="#b" y1="301.538" y2="318.782"/>
<linearGradient id="g1_123" href="#b" y1="292.916" y2="310.16"/>
<linearGradient id="g1_124" href="#b" y1="301.695" y2="319.252"/>
<linearGradient id="g1_125" href="#b" y1="292.916" y2="310.473"/>
<linearGradient id="g1_126" href="#b" y1="301.854" y2="319.73"/>
<linearGradient id="g1_127" href="#b" y1="292.916" y2="310.792"/>
<linearGradient id="g1_128" href="#b" y1="302.016" y2="320.216"/>
<linearGradient id="g1_129" href="#b" y1="292.916" y2="311.116"/>
<linearGradient id="g1_130" href="#b" y1="302.181" y2="320.712"/>
<linearGradient id="g1_131" href="#b" y1="292.916" y2="311.447"/>
<linearGradient id="g1_132" href="#b" y1="302.349" y2="321.216"/>
<linearGradient id="g1_133" href="#b" y1="292.916" y2="311.783"/>
<linearGradient id="g1_134" href="#b" y1="302.521" y2="321.73"/>
<linearGradient id="g1_135" href="#b" y1="292.916" y2="312.125"/>
<linearGradient id="g1_136" href="#b" y1="302.695" y2="322.253"/>
<linearGradient id="g1_137" href="#b" y1="292.916" y2="312.474"/>
<linearGradient id="g1_138" href="#b" y1="302.873" y2="322.786"/>
<linearGradient id="g1_139" href="#b" y1="292.916" y2="312.829"/>
<linearGradient id="g1_140" href="#b" y1="303.053" y2="323.328"/>
<linearGradient id="g1_141" href="#b" y1="292.916" y2="313.191"/>
<linearGradient id="g1_142" href="#b" y1="303.237" y2="323.88"/>
<linearGradient id="g1_143" href="#b" y1="292.916" y2="313.559"/>
<linearGradient id="g1_144" href="#b" y1="303.425" y2="324.442"/>
<linearGradient id="g1_145" href="#b" y1="292.916" y2="313.933"/>
<linearGradient id="g1_146" href="#b" y1="303.615" y2="325.014"/>
<linearGradient id="g1_147" href="#b" y1="292.916" y2="314.315"/>
<linearGradient id="g1_148" href="#b" y1="303.81" y2="325.597"/>
<linearGradient id="g1_149" href="#b" y1="292.916" y2="314.703"/>
<linearGradient id="g1_150" href="#b" y1="304.007" y2="326.19"/>
<linearGradient id="g1_151" href="#b" y1="292.916" y2="315.099"/>
<linearGradient id="g1_152" href="#b" y1="304.209" y2="326.794"/>
<linearGradient id="g1_153" href="#b" y1="292.916" y2="315.501"/>
<linearGradient id="g1_154" href="#b" y1="304.414" y2="327.409"/>
<linearGradient id="g1_155" href="#b" y1="292.916" y2="315.911"/>
<linearGradient id="g1_156" href="#b" y1="304.622" y2="328.035"/>
<linearGradient id="g1_157" href="#b" y1="292.916" y2="316.329"/>
<linearGradient id="g1_158" href="#b" y1="304.835" y2="328.672"/>
<linearGradient id="g1_159" href="#b" y1="292.916" y2="316.754"/>
<linearGradient id="g1_160" href="#b" y1="305.051" y2="329.321"/>
<linearGradient id="g1_161" href="#b" y1="292.916" y2="317.186"/>
<linearGradient id="g1_162" href="#b" y1="305.271" y2="329.982"/>
<linearGradient id="g1_163" href="#b" y1="292.916" y2="317.627"/>
<linearGradient id="g1_164" href="#b" y1="305.496" y2="330.655"/>
<linearGradient id="g1_165" href="#b" y1="292.916" y2="318.075"/>
<linearGradient id="g1_166" href="#b" y1="305.724" y2="331.34"/>
<linearGradient id="g1_167" href="#b" y1="292.916" y2="318.532"/>
<linearGradient id="g1_168" href="#b" y1="305.957" y2="332.038"/>
<linearGradient id="g1_169" href="#b" y1="292.916" y2="318.997"/>
<linearGradient id="g1_170" href="#b" y1="306.193" y2="332.748"/>
<linearGradient id="g1_171" href="#b" y1="292.916" y2="319.47"/>
<linearGradient id="g1_172" href="#b" y1="306.434" y2="333.471"/>
<linearGradient id="g1_173" href="#b" y1="292.916" y2="319.952"/>
<linearGradient id="g1_174" href="#b" y1="306.68" y2="334.207"/>
<linearGradient id="g1_175" href="#b" y1="292.916" y2="320.443"/>
<linearGradient id="g1_176" href="#b" y1="306.929" y2="334.956"/>
<linearGradient id="g1_177" href="#b" y1="292.916" y2="320.943"/>
<linearGradient id="g1_178" href="#b" y1="307.184" y2="335.719"/>
<linearGradient id="g1_179" href="#b" y1="292.916" y2="321.452"/>
<linearGradient id="g1_180" href="#b" y1="307.443" y2="336.496"/>
<linearGradient id="g1_181" href="#b" y1="292.916" y2="321.97"/>
<linearGradient id="g1_182" href="#b" y1="307.706" y2="337.287"/>
<linearGradient id="g1_183" href="#b" y1="292.916" y2="322.497"/>
<linearGradient id="g1_184" href="#b" y1="307.975" y2="338.093"/>
<linearGradient id="g1_185" href="#b" y1="292.916" y2="323.034"/>
<linearGradient id="g1_186" href="#b" y1="308.248" y2="338.913"/>
<linearGradient id="g1_187" href="#b" y1="292.916" y2="323.581"/>
<linearGradient id="g1_188" href="#b" y1="308.527" y2="339.748"/>
<linearGradient id="g1_189" href="#b" y1="292.916" y2="324.137"/>
<linearGradient id="g1_190" href="#b" y1="308.81" y2="340.598"/>
<linearGradient id="g1_191" href="#b" y1="292.916" y2="324.704"/>
<linearGradient id="g1_192" href="#b" y1="309.098" y2="341.463"/>
<linearGradient id="g1_193" href="#b" y1="292.916" y2="325.281"/>
<linearGradient id="g1_194" href="#b" y1="309.392" y2="342.345"/>
<linearGradient id="g1_195" href="#b" y1="292.916" y2="325.868"/>
<linearGradient id="g1_196" href="#b" y1="309.691" y2="343.242"/>
<linearGradient id="g1_197" href="#b" y1="292.916" y2="326.467"/>
<linearGradient id="g1_198" href="#b" y1="309.996" y2="344.155"/>
<linearGradient id="g1_199" href="#b" y1="292.916" y2="327.076"/>
<linearGradient id="g1_200" href="#b" y1="310.306" y2="345.085"/>
<linearGradient id="g1_201" href="#b" y1="292.916" y2="327.696"/>
<linearGradient id="g1_202" href="#b" y1="310.621" y2="346.032"/>
<linearGradient id="g1_203" href="#b" y1="292.916" y2="328.327"/>
<linearGradient id="g1_204" href="#b" y1="310.943" y2="346.997"/>
<linearGradient id="g1_205" href="#b" y1="292.916" y2="328.97"/>
<linearGradient id="g1_206" href="#b" y1="311.27" y2="347.978"/>
<linearGradient id="g1_207" href="#b" y1="292.916" y2="329.624"/>
<linearGradient id="g1_208" href="#b" y1="311.603" y2="348.978"/>
<linearGradient id="g1_209" href="#b" y1="292.916" y2="330.29"/>
<linearGradient id="g1_210" href="#b" y1="311.942" y2="349.995"/>
<linearGradient id="g1_211" href="#b" y1="292.916" y2="330.969"/>
<linearGradient id="g1_212" href="#b" y1="312.288" y2="351.031"/>
<linearGradient id="g1_213" href="#b" y1="292.916" y2="331.66"/>
<linearGradient id="g1_214" href="#b" y1="312.639" y2="352.086"/>
<linearGradient id="g1_215" href="#b" y1="292.916" y2="332.363"/>
<linearGradient id="g1_216" href="#b" y1="312.997" y2="353.16"/>
<linearGradient id="g1_217" href="#b" y1="292.916" y2="333.079"/>
<linearGradient id="g1_218" href="#b" y1="313.362" y2="354.254"/>
<linearGradient id="g1_219" href="#b" y1="292.916" y2="333.808"/>
<linearGradient id="g1_220" href="#b" y1="313.733" y2="355.367"/>
<linearGradient id="g1_221" href="#b" y1="292.916" y2="334.55"/>
<linearGradient id="g1_222" href="#b" y1="314.111" y2="356.501"/>
<linearGradient id="g1_223" href="#b" y1="292.916" y2="335.306"/>
<linearGradient id="g1_224" href="#b" y1="314.496" y2="357.655"/>
<linearGradient id="g1_225" href="#b" y1="292.916" y2="336.075"/>
<linearGradient id="g1_226" href="#b" y1="314.887" y2="358.83"/>
<linearGradient id="g1_227" href="#b" y1="292.916" y2="336.859"/>
<linearGradient id="g1_228" href="#b" y1="315.286" y2="360.027"/>
<linearGradient id="g1_229" href="#b" y1="292.916" y2="337.656"/>
<linearGradient id="g1_230" href="#b" y1="315.692" y2="361.245"/>
<linearGradient id="g1_231" href="#b" y1="292.916" y2="338.469"/>
<linearGradient id="g1_232" href="#b" y1="316.106" y2="362.485"/>
<linearGradient id="g1_233" href="#b" y1="292.916" y2="339.295"/>
<linearGradient id="g1_234" href="#b" y1="316.527" y2="363.748"/>
<linearGradient id="g1_235" href="#b" y1="292.916" y2="340.137"/>
<linearGradient id="g1_236" href="#b" y1="316.955" y2="365.034"/>
<linearGradient id="g1_237" href="#b" y1="292.916" y2="340.994"/>
<linearGradient id="g1_238" href="#b" y1="317.392" y2="366.343"/>
<linearGradient id="g1_239" href="#b" y1="292.916" y2="341.867"/>
<linearGradient id="g1_240" href="#b" y1="317.836" y2="367.676"/>
<linearGradient id="g1_241" href="#b" y1="292.916" y2="342.756"/>
<linearGradient id="g1_242" href="#b" y1="318.288" y2="369.033"/>
<linearGradient id="g1_243" href="#b" y1="292.916" y2="343.66"/>
<linearGradient id="g1_244" href="#b" y1="318.749" y2="370.414"/>
<linearGradient id="g1_245" href="#b" y1="292.916" y2="344.581"/>
<linearGradient id="g1_246" href="#b" y1="319.218" y2="371.821"/>
<linearGradient id="g1_247" href="#b" y1="292.916" y2="345.519"/>
<linearGradient id="g1_248" href="#b" y1="319.695" y2="373.253"/>
<linearGradient id="g1_249" href="#b" y1="292.916" y2="346.474"/>
<linearGradient id="g1_250" href="#b" y1="320.181" y2="374.711"/>
<linearGradient id="g1_251" href="#b" y1="292.916" y2="347.446"/>
<linearGradient id="g1_252" href="#b" y1="320.676" y2="376.196"/>
<linearGradient id="g1_253" href="#b" y1="292.916" y2="348.436"/>
<linearGradient id="g1_254" href="#b" y1="321.18" y2="377.708"/>
<linearGradient id="g1_255" href="#b" y1="292.916" y2="349.444"/>
<linearGradient id="g1_256" href="#b" y1="321.693" y2="379.247"/>
<linearGradient id="g1_257" href="#b" y1="292.916" y2="350.47"/>
<linearGradient id="g1_258" href="#b" y1="322.215" y2="380.814"/>
<linearGradient id="g1_259" href="#b" y1="292.916" y2="351.515"/>
<linearGradient id="g1_260" href="#b" y1="322.747" y2="382.41"/>
<linearGradient id="g1_261" href="#b" y1="292.916" y2="352.578"/>
<linearGradient id="g1_262" href="#b" y1="323.289" y2="384.034"/>
<linearGradient id="g1_263" href="#b" y1="292.916" y2="353.661"/>
<linearGradient id="g1_264" href="#b" y1="323.84" y2="385.688"/>
<linearGradient id="g1_265" href="#b" y1="292.916" y2="354.764"/>
<linearGradient id="g1_266" href="#b" y1="324.401" y2="387.372"/>
<linearGradient id="g1_267" href="#b" y1="292.916" y2="355.887"/>
<linearGradient id="g1_268" href="#b" y1="324.973" y2="389.086"/>
<linearGradient id="g1_269" href="#b" y1="292.916" y2="357.03"/>
<linearGradient id="g1_270" href="#b" y1="325.555" y2="390.832"/>
<linearGradient id="g1_271" href="#b" y1="292.916" y2="358.193"/>
<linearGradient id="g1_272" href="#b" y1="326.147" y2="392.609"/>
<linearGradient id="g1_273" href="#b" y1="292.916" y2="359.378"/>
<linearGradient id="g1_274" href="#b" y1="326.75" y2="394.419"/>
<linearGradient id="g1_275" href="#b" y1="292.916" y2="360.585"/>
<linearGradient id="g1_276" href="#b" y1="327.365" y2="396.262"/>
<linearGradient id="g1_277" href="#b" y1="292.916" y2="361.813"/>
<linearGradient id="g1_278" href="#b" y1="327.99" y2="398.137"/>
<linearGradient id="g1_279" href="#b" y1="292.916" y2="363.064"/>
<linearGradient id="g1_280" href="#b" y1="328.626" y2="400.047"/>
<linearGradient id="g1_281" href="#b" y1="292.916" y2="364.337"/>
<linearGradient id="g1_282" href="#b" y1="329.275" y2="401.992"/>
<linearGradient id="g1_283" href="#b" y1="292.916" y2="365.633"/>
<linearGradient id="g1_284" href="#b" y1="329.935" y2="403.972"/>
<linearGradient id="g1_285" href="#b" y1="292.916" y2="366.953"/>
<linearGradient id="g1_286" href="#b" y1="330.607" y2="405.988"/>
<linearGradient id="g1_287" href="#b" y1="292.916" y2="368.297"/>
<linearGradient id="g1_288" href="#b" y1="331.291" y2="408.04"/>
<linearGradient id="g1_289" href="#b" y1="292.916" y2="369.665"/>
<linearGradient id="g1_290" href="#b" y1="331.987" y2="410.13"/>
<linearGradient id="g1_291" href="#b" y1="292.916" y2="371.059"/>
<linearGradient id="g1_292" href="#b" y1="332.697" y2="412.258"/>
<linearGradient id="g1_293" href="#b" y1="292.916" y2="372.477"/>
<linearGradient id="g1_294" href="#b" y1="333.419" y2="414.424"/>
<linearGradient id="g1_295" href="#b" y1="292.916" y2="373.921"/>
<linearGradient id="g1_296" href="#b" y1="334.154" y2="416.629"/>
<linearGradient id="g1_297" href="#b" y1="292.916" y2="375.392"/>
<linearGradient id="g1_298" href="#b" y1="334.902" y2="418.875"/>
<linearGradient id="g1_299" href="#b" y1="292.916" y2="376.889"/>
<linearGradient id="g1_300" href="#b" y1="335.664" y2="421.161"/>
<linearGradient id="g1_301" href="#b" y1="292.916" y2="378.413"/>
<linearGradient id="g1_302" href="#b" y1="336.44" y2="423.489"/>
<linearGradient id="g1_303" href="#b" y1="292.916" y2="379.965"/>
<linearGradient id="g1_304" href="#b" y1="337.23" y2="425.859"/>
<linearGradient id="g1_305" href="#b" y1="292.916" y2="381.545"/>
<linearGradient id="g1_306" href="#b" y1="338.035" y2="428.272"/>
<linearGradient id="g1_307" href="#b" y1="292.916" y2="383.154"/>
<linearGradient id="g1_308" href="#b" y1="338.854" y2="430.729"/>
<linearGradient id="g1_309" href="#b" y1="292.916" y2="384.792"/>
<linearGradient id="g1_310" href="#b" y1="339.688" y2="433.231"/>
<linearGradient id="g1_311" href="#b" y1="292.916" y2="386.459"/>
<linearGradient id="g1_312" href="#b" y1="340.537" y2="435.778"/>
<linearGradient id="g1_313" href="#b" y1="292.916" y2="388.157"/>
<linearGradient id="g1_314" href="#b" y1="341.401" y2="438.371"/>
<linearGradient id="g1_315" href="#b" y1="292.916" y2="389.886"/>
<linearGradient id="g1_316" href="#b" y1="342.281" y2="441.011"/>
<linearGradient id="g1_317" href="#b" y1="292.916" y2="391.646"/>
<linearGradient id="g1_318" href="#b" y1="343.177" y2="443.7"/>
<linearGradient id="g1_319" href="#b" y1="292.916" y2="393.438"/>
<linearGradient id="g1_320" href="#b" y1="344.09" y2="446.437"/>
<linearGradient id="g1_321" href="#b" y1="292.916" y2="395.263"/>
<linearGradient id="g1_322" href="#b" y1="345.018" y2="449.223"/>
<linearGradient id="g1_323" href="#b" y1="292.916" y2="397.121"/>
<linearGradient id="g1_324" href="#b" y1="345.964" y2="452.06"/>
<linearGradient id="g1_325" href="#b" y1="292.916" y2="399.012"/>
<linearGradient id="g1_326" href="#b" y1="346.927" y2="454.949"/>
<linearGradient id="g1_327" href="#b" y1="292.916" y2="400.938"/>
<linearGradient id="g1_328" href="#b" y1="347.907" y2="457.89"/>
<linearGradient id="g1_329" href="#b" y1="292.916" y2="402.899"/>
<linearGradient id="g1_330" href="#b" y1="348.906" y2="460.885"/>
<linearGradient id="g1_331" href="#b" y1="292.916" y2="404.895"/>
<linearGradient id="g1_332" href="#b" y1="349.922" y2="463.934"/>
<linearGradient id="g1_333" href="#b" y1="292.916" y2="406.928"/>
<linearGradient id="g1_334" href="#b" y1="350.957" y2="467.038"/>
<linearGradient id="g1_335" href="#b" y1="292.916" y2="408.997"/>
<linearGradient id="g1_336" href="#b" y1="352.01" y2="470.199"/>
<linearGradient id="g1_337" href="#b" y1="292.916" y2="411.105"/>
<linearGradient id="g1_338" href="#b" y1="353.083" y2="473.417"/>
<linearGradient id="g1_339" href="#b" y1="292.916" y2="413.25"/>
<linearGradient id="g1_340" href="#b" y1="354.175" y2="476.693"/>
<linearGradient id="g1_341" href="#b" y1="292.916" y2="415.434"/>
<linearGradient id="g1_342" href="#b" y1="355.287" y2="480.029"/>
<linearGradient id="g1_343" href="#b" y1="292.916" y2="417.658"/>
<linearGradient id="g1_344" href="#b" y1="356.419" y2="483.425"/>
<linearGradient id="g1_345" href="#b" y1="292.916" y2="419.922"/>
<linearGradient id="g1_346" href="#b" y1="357.572" y2="486.884"/>
<linearGradient id="g1_347" href="#b" y1="292.916" y2="422.228"/>
<linearGradient id="g1_348" href="#b" y1="358.745" y2="490.404"/>
<linearGradient id="g1_349" href="#b" y1="292.916" y2="424.575"/>
<linearGradient id="g1_350" href="#b" y1="359.94" y2="493.989"/>
<linearGradient id="g1_351" href="#b" y1="292.916" y2="426.965"/>
<linearGradient id="g1_352" href="#b" y1="361.157" y2="497.639"/>
<linearGradient id="g1_353" href="#b" y1="292.916" y2="429.398"/>
<linearGradient id="g1_354" href="#b" y1="362.396" y2="501.355"/>
<linearGradient id="g1_355" href="#b" y1="292.916" y2="431.875"/>
<linearGradient id="g1_356" href="#b" y1="363.657" y2="505.139"/>
<linearGradient id="g1_357" href="#b" y1="292.916" y2="434.398"/>
<linearGradient id="g1_358" href="#b" y1="364.941" y2="508.991"/>
<linearGradient id="g1_359" href="#b" y1="292.916" y2="436.966"/>
<linearGradient id="g1_360" href="#b" y1="366.248" y2="512.913"/>
<linearGradient id="g1_361" href="#b" y1="292.916" y2="439.581"/>
<linearGradient id="g1_362" href="#b" y1="367.579" y2="516.906"/>
<linearGradient id="g1_363" href="#b" y1="292.916" y2="442.243"/>
<linearGradient id="g1_364" href="#b" y1="368.935" y2="520.972"/>
<linearGradient id="g1_365" href="#b" y1="292.916" y2="444.953"/>
<linearGradient id="g1_366" href="#b" y1="370.315" y2="525.112"/>
<linearGradient id="g1_367" href="#b" y1="292.916" y2="447.713"/>
<linearGradient id="g1_368" href="#b" y1="371.719" y2="529.326"/>
<linearGradient id="g1_369" href="#b" y1="292.916" y2="450.523"/>
<linearGradient id="g1_370" href="#b" y1="373.15" y2="533.618"/>
<linearGradient id="g1_371" href="#b" y1="292.916" y2="453.384"/>
<linearGradient id="g1_372" href="#b" y1="374.606" y2="537.987"/>
<linearGradient id="g1_373" href="#b" y1="292.916" y2="456.297"/>
<linearGradient id="g1_374" href="#b" y1="376.089" y2="542.435"/>
<linearGradient id="g1_375" href="#b" y1="292.916" y2="459.262"/>
<linearGradient id="g1_376" href="#b" y1="377.599" y2="546.964"/>
<linearGradient id="g1_377" href="#b" y1="292.916" y2="462.282"/>
<linearGradient id="g1_378" href="#b" y1="379.136" y2="551.576"/>
<linearGradient id="g1_379" href="#b" y1="292.916" y2="465.356"/>
<linearGradient id="g1_380" href="#b" y1="380.701" y2="556.271"/>
<linearGradient id="g1_381" href="#b" y1="292.916" y2="468.486"/>
<linearGradient id="g1_382" href="#b" y1="382.294" y2="561.051"/>
<linearGradient id="g1_383" href="#b" y1="292.916" y2="471.673"/>
<linearGradient id="g1_384" href="#b" y1="383.917" y2="565.918"/>
<linearGradient id="g1_385" href="#b" y1="292.916" y2="474.918"/>
<linearGradient id="g1_386" href="#b" y1="385.569" y2="570.874"/>
<linearGradient id="g1_387" href="#b" y1="292.916" y2="478.221"/>
<linearGradient id="g1_388" href="#b" y1="387.25" y2="575.919"/>
<linearGradient id="g1_389" href="#b" y1="292.916" y2="481.585"/>
<linearGradient id="g1_390" href="#b" y1="388.963" y2="581.056"/>
<linearGradient id="g1_391" href="#b" y1="292.916" y2="485.01"/>
<linearGradient id="g1_392" href="#b" y1="390.706" y2="586.287"/>
<linearGradient id="g1_393" href="#b" y1="292.916" y2="488.496"/>
<linearGradient id="g1_394" href="#b" y1="392.481" y2="591.612"/>
<linearGradient id="g1_395" href="#b" y1="292.916" y2="492.047"/>
<linearGradient id="g1_396" href="#b" y1="394.289" y2="597.034"/>
<linearGradient id="g1_397" href="#b" y1="292.916" y2="495.661"/>
<linearGradient id="g1_398" href="#b" y1="396.129" y2="602.554"/>
<linearGradient id="g1_399" href="#b" y1="292.916" y2="499.341"/>
<linearGradient id="g1_400" href="#b" y1="398.002" y2="608.174"/>
<linearGradient id="g1_401" href="#b" y1="292.916" y2="503.088"/>
<linearGradient id="g1_402" href="#b" y1="399.91" y2="613.897"/>
<linearGradient id="g1_403" href="#b" y1="292.916" y2="506.903"/>
<linearGradient id="g1_404" href="#b" y1="401.852" y2="619.723"/>
<linearGradient id="g1_405" href="#b" y1="292.916" y2="510.787"/>
<linearGradient id="g1_406" href="#b" y1="403.829" y2="625.655"/>
<linearGradient id="g1_407" href="#b" y1="292.916" y2="514.742"/>
<linearGradient id="g1_408" href="#b" y1="405.842" y2="631.695"/>
<linearGradient id="g1_409" href="#b" y1="292.916" y2="518.769"/>
<linearGradient id="g1_410" href="#b" y1="407.892" y2="637.845"/>
<linearGradient id="g1_411" href="#b" y1="292.916" y2="522.868"/>
<linearGradient id="g1_412" href="#b" y1="409.979" y2="644.106"/>
<linearGradient id="g1_413" href="#b" y1="292.916" y2="527.042"/>
<linearGradient id="g1_414" href="#b" y1="412.104" y2="650.48"/>
<linearGradient id="g1_415" href="#b" y1="292.916" y2="531.292"/>
<linearGradient id="g1_416" href="#b" y1="414.268" y2="656.971"/>
<linearGradient id="g1_417" href="#b" y1="292.916" y2="535.619"/>
<linearGradient id="g1_418" href="#b" y1="416.47" y2="663.579"/>
<linearGradient id="g1_419" href="#b" y1="292.916" y2="540.025"/>
<linearGradient id="g1_420" href="#b" y1="418.713" y2="670.307"/>
<linearGradient id="g1_421" href="#b" y1="292.916" y2="544.51"/>
<linearGradient id="g1_422" href="#b" y1="420.996" y2="677.157"/>
<linearGradient id="g1_423" href="#b" y1="292.916" y2="549.077"/>
<linearGradient id="g1_424" href="#b" y1="423.321" y2="684.132"/>
<linearGradient id="g1_425" href="#b" y1="292.916" y2="553.727"/>
<linearGradient id="g1_426" href="#b" y1="425.688" y2="691.233"/>
<linearGradient id="g1_427" href="#b" y1="292.916" y2="558.461"/>
<linearGradient id="g1_428" href="#b" y1="428.098" y2="698.463"/>
<linearGradient id="g1_429" href="#b" y1="292.916" y2="563.281"/>
<linearGradient id="g1_430" href="#b" y1="430.552" y2="705.825"/>
<linearGradient id="g1_431" href="#b" y1="292.916" y2="568.189"/>
<linearGradient id="g1_432" href="#b" y1="433.051" y2="713.32"/>
<linearGradient id="g1_433" href="#b" y1="292.916" y2="573.185"/>
<linearGradient id="g1_434" href="#b" y1="435.594" y2="720.951"/>
<linearGradient id="g1_435" href="#b" y1="292.916" y2="578.273"/>
<linearGradient id="g1_436" href="#b" y1="438.184" y2="728.72"/>
<linearGradient id="g1_437" href="#b" y1="292.916" y2="583.452"/>
<linearGradient id="g1_438" href="#b" y1="440.821" y2="736.631"/>
<linearGradient id="g1_439" href="#b" y1="292.916" y2="588.726"/>
<linearGradient id="g1_440" href="#b" y1="443.506" y2="744.685"/>
<linearGradient id="g1_441" href="#b" y1="292.916" y2="594.095"/>
<linearGradient id="g1_442" href="#b" y1="446.239" y2="752.886"/>
<linearGradient id="g1_443" href="#b" y1="292.916" y2="599.562"/>
<linearGradient id="g1_444" href="#b" y1="449.022" y2="761.235"/>
<linearGradient id="g1_445" href="#b" y1="292.916" y2="605.129"/>
<linearGradient id="g1_446" href="#b" y1="451.856" y2="769.736"/>
<linearGradient id="g1_447" href="#b" y1="292.916" y2="610.796"/>
<linearGradient id="g1_448" href="#b" y1="454.741" y2="778.391"/>
<linearGradient id="g1_449" href="#b" y1="292.916" y2="616.566"/>
<linearGradient id="g1_450" href="#b" y1="457.678" y2="787.203"/>
<linearGradient id="g1_451" href="#b" y1="292.916" y2="622.441"/>
<linearGradient id="g1_452" href="#b" y1="460.669" y2="796.175"/>
<linearGradient id="g1_453" href="#b" y1="292.916" y2="628.422"/>
<linearGradient id="g1_454" href="#b" y1="463.714" y2="805.31"/>
<linearGradient id="g1_455" href="#b" y1="292.916" y2="634.512"/>
<linearGradient id="g1_456" href="#b" y1="466.814" y2="814.611"/>
<linearGradient id="g1_457" href="#b" y1="292.916" y2="640.713"/>
<linearGradient id="g1_458" href="#b" y1="469.971" y2="824.081"/>
<linearGradient id="g1_459" href="#b" y1="292.916" y2="647.026"/>
<linearGradient id="g1_460" href="#b" y1="473.185" y2="833.722"/>
<linearGradient id="g1_461" href="#b" y1="292.916" y2="653.453"/>
<linearGradient id="g1_462" href="#b" y1="476.457" y2="843.539"/>
<linearGradient id="g1_463" href="#b" y1="292.916" y2="659.998"/>
<linearGradient id="g1_464" href="#b" y1="479.788" y2="853.533"/>
<linearGradient id="g1_465" href="#b" y1="292.916" y2="666.661"/>
<linearGradient id="g1_466" href="#b" y1="483.181" y2="863.71"/>
<linearGradient id="g1_467" href="#b" y1="292.916" y2="673.445"/>
<linearGradient id="g1_468" href="#b" y1="486.634" y2="874.07"/>
<linearGradient id="g1_469" href="#b" y1="292.916" y2="680.352"/>
<linearGradient id="g1_470" href="#b" y1="490.15" y2="884.619"/>
<linearGradient id="g1_471" href="#b" y1="292.916" y2="687.385"/>
<linearGradient id="g1_472" href="#b" y1="493.731" y2="895.36"/>
<linearGradient id="g1_473" href="#b" y1="292.916" y2="694.545"/>
<linearGradient id="g1_474" href="#b" y1="497.376" y2="906.295"/>
<linearGradient id="g1_475" href="#b" y1="292.916" y2="701.836"/>
<linearGradient id="g1_476" href="#b" y1="501.087" y2="917.429"/>
<linearGradient id="g1_477" href="#b" y1="292.916" y2="709.258"/>
<linearGradient id="g1_478" href="#b" y1="504.866" y2="928.765"/>
<linearGradient id="g1_479" href="#b" y1="292.916" y2="716.815"/>
<linearGradient id="g1_480" href="#b" y1="508.713" y2="940.307"/>
<linearGradient id="g1_481" href="#b" y1="292.916" y2="724.51"/>
<linearGradient id="g1_482" href="#b" y1="512.63" y2="952.058"/>
<linearGradient id="g1_483" href="#b" y1="292.916" y2="732.344"/>
<linearGradient id="g1_484" href="#b" y1="516.618" y2="964.023"/>
<linearGradient id="g1_485" href="#b" y1="292.916" y2="740.32"/>
<linearGradient id="g1_486" href="#b" y1="520.679" y2="976.204"/>
<linearGradient id="g1_487" href="#b" y1="292.916" y2="748.442"/>
<linearGradient id="g1_488" href="#b" y1="524.813" y2="988.607"/>
<linearGradient id="g1_489" href="#b" y1="292.916" y2="756.71"/>
<linearGradient id="g1_490" href="#b" y1="529.022" y2="1001.235"/>
<linearGradient id="g1_491" href="#b" y1="292.916" y2="765.129"/>
<linearGradient id="g1_492" href="#b" y1="533.308" y2="1014.093"/>
<linearGradient id="g1_493" href="#b" y1="292.916" y2="773.7"/>
<linearGradient id="g1_494" href="#b" y1="537.672" y2="1027.183"/>
<linearGradient id="g1_495" href="#b" y1="292.916" y2="782.427"/>
<linearGradient id="g1_496" href="#b" y1="542.114" y2="1040.511"/>
<linearGradient id="g1_497" href="#b" y1="292.916" y2="791.313"/>
<linearGradient id="g1_498" href="#b" y1="546.638" y2="1054.082"/>
<linearGradient id="g1_499" href="#b" y1="292.916" y2="800.36"/>
<linearGradient id="g1_500" href="#b" y1="551.243" y2="1067.898"/>
<linearGradient id="g1_501" href="#b" y1="292.916" y2="809.571"/>
<linearGradient id="g1_502" href="#b" y1="555.932" y2="1081.965"/>
<linearGradient id="g1_503" href="#b" y1="292.916" y2="818.949"/>
<linearGradient id="g1_504" href="#b" y1="560.707" y2="1096.288"/>
<linearGradient id="g1_505" href="#b" y1="292.916" y2="828.497"/>
<linearGradient id="g1_506" href="#b" y1="565.567" y2="1110.87"/>
<linearGradient id="g1_507" href="#b" y1="292.916" y2="838.219"/>
<linearGradient id="g1_508" href="#b" y1="570.517" y2="1125.718"/>
<linearGradient id="g1_509" href="#b" y1="292.916" y2="848.117"/>
<linearGradient id="g1_510" href="#b" y1="575.555" y2="1140.834"/>
<linearGradient id="g1_511" href="#b" y1="292.916" y2="858.195"/>
<g id="c10" shape-rendering="crispEdges"><rect x="99" y="287" width="5.92" height="195" fill="url(#g1_0)"/><rect x="104.92" y="287" width="3.92" height="195" fill="url(#g1_2)"/><rect x="108.84" y="287" width="3.27" height="195" fill="url(#g1_4)"/><rect x="112.11" y="287" width="3.92" height="195" fill="url(#g1_6)"/><rect x="116.03" y="287" width="3.92" height="195" fill="url(#g1_8)"/><rect x="119.95" y="287" width="3.27" height="195" fill="url(#g1_10)"/><rect x="123.22" y="287" width="3.92" height="195" fill="url(#g1_12)"/><rect x="127.14" y="287" width="3.27" height="195" fill="url(#g1_14)"/><rect x="130.41" y="287" width="3.92" height="195" fill="url(#g1_16)"/><rect x="134.33" y="287" width="3.92" height="195" fill="url(#g1_18)"/><rect x="138.26" y="287" width="3.27" height="195" fill="url(#g1_20)"/><rect x="141.53" y="287" width="3.92" height="195" fill="url(#g1_22)"/><rect x="145.45" y="287" width="3.27" height="195" fill="url(#g1_24)"/><rect x="148.72" y="287" width="3.92" height="195" fill="url(#g1_26)"/><rect x="152.64" y="287" width="3.92" height="195" fill="url(#g1_28)"/><rect x="156.56" y="287" width="3.27" height="195" fill="url(#g1_30)"/><rect x="159.83" y="287" width="3.92" height="195" fill="url(#g1_32)"/><rect x="163.75" y="287" width="3.27" height="195" fill="url(#g1_34)"/><rect x="167.02" y="287" width="3.92" height="195" fill="url(#g1_36)"/><rect x="170.94" y="287" width="3.92" height="195" fill="url(#g1_38)"/><rect x="174.87" y="287" width="3.27" height="195" fill="url(#g1_40)"/><rect x="178.14" y="287" width="3.92" height="195" fill="url(#g1_42)"/><rect x="182.06" y="287" width="3.27" height="195" fill="url(#g1_44)"/><rect x="185.33" y="287" width="3.92" height="195" fill="url(#g1_46)"/><rect x="189.25" y="287" width="3.92" height="195" fill="url(#g1_48)"/><rect x="193.17" y="287" width="3.27" height="195" fill="url(#g1_50)"/><rect x="196.44" y="287" width="3.92" height="195" fill="url(#g1_52)"/><rect x="200.36" y="287" width="3.27" height="195" fill="url(#g1_54)"/><rect x="203.63" y="287" width="3.92" height="195" fill="url(#g1_56)"/><rect x="207.56" y="287" width="3.92" height="195" fill="url(#g1_58)"/><rect x="211.48" y="287" width="3.27" height="195" fill="url(#g1_60)"/><rect x="214.75" y="287" width="3.92" height="195" fill="url(#g1_62)"/><rect x="218.67" y="287" width="3.27" height="195" fill="url(#g1_64)"/><rect x="221.94" y="287" width="3.92" height="195" fill="url(#g1_66)"/><rect x="225.86" y="287" width="3.92" height="195" fill="url(#g1_68)"/><rect x="229.78" y="287" width="3.27" height="195" fill="url(#g1_70)"/><rect x="233.05" y="287" width="3.92" height="195" fill="url(#g1_72)"/><rect x="236.97" y="287" width="3.27" height="195" fill="url(#g1_74)"/><rect x="240.24" y="287" width="3.92" height="195" fill="url(#g1_76)"/><rect x="244.17" y="287" width="3.92" height="195" fill="url(#g1_78)"/><rect x="248.09" y="287" width="3.27" height="195" fill="url(#g1_80)"/><rect x="251.36" y="287" width="3.92" height="195" fill="url(#g1_82)"/><rect x="255.28" y="287" width="3.27" height="195" fill="url(#g1_84)"/><rect x="258.55" y="287" width="3.92" height="195" fill="url(#g1_86)"/><rect x="262.47" y="287" width="3.92" height="195" fill="url(#g1_88)"/><rect x="266.39" y="287" width="3.27" height="195" fill="url(#g1_90)"/><rect x="269.66" y="287" width="3.92" height="195" fill="url(#g1_92)"/><rect x="273.59" y="287" width="3.27" height="195" fill="url(#g1_94)"/><rect x="276.85" y="287" width="3.92" height="195" fill="url(#g1_96)"/><rect x="280.78" y="287" width="3.92" height="195" fill="url(#g1_98)"/><rect x="284.7" y="287" width="3.92" height="195" fill="url(#g1_100)"/><rect x="288.62" y="287" width="3.27" height="195" fill="url(#g1_102)"/><rect x="291.89" y="287" width="3.92" height="195" fill="url(#g1_104)"/><rect x="295.81" y="287" width="3.27" height="195" fill="url(#g1_106)"/><rect x="299.08" y="287" width="3.92" height="195" fill="url(#g1_108)"/><rect x="303" y="287" width="3.92" height="195" fill="url(#g1_110)"/><rect x="306.93" y="287" width="3.27" height="195" fill="url(#g1_112)"/><rect x="310.2" y="287" width="3.92" height="195" fill="url(#g1_114)"/><rect x="314.12" y="287" width="3.27" height="195" fill="url(#g1_116)"/><rect x="317.39" y="287" width="3.92" height="195" fill="url(#g1_118)"/><rect x="321.31" y="287" width="3.92" height="195" fill="url(#g1_120)"/><rect x="325.23" y="287" width="3.27" height="195" fill="url(#g1_122)"/><rect x="328.5" y="287" width="3.92" height="195" fill="url(#g1_124)"/><rect x="332.42" y="287" width="3.27" height="195" fill="url(#g1_126)"/><rect x="335.69" y="287" width="3.92" height="195" fill="url(#g1_128)"/><rect x="339.61" y="287" width="3.92" height="195" fill="url(#g1_130)"/><rect x="343.54" y="287" width="3.27" height="195" fill="url(#g1_132)"/><rect x="346.81" y="287" width="3.92" height="195" fill="url(#g1_134)"/><rect x="350.73" y="287" width="3.27" height="195" fill="url(#g1_136)"/><rect x="354" y="287" width="3.92" height="195" fill="url(#g1_138)"/><rect x="357.92" y="287" width="3.92" height="195" fill="url(#g1_140)"/><rect x="361.84" y="287" width="3.27" height="195" fill="url(#g1_142)"/><rect x="365.11" y="287" width="3.92" height="195" fill="url(#g1_144)"/><rect x="369.03" y="287" width="3.27" height="195" fill="url(#g1_146)"/><rect x="372.3" y="287" width="3.92" height="195" fill="url(#g1_148)"/><rect x="376.23" y="287" width="3.92" height="195" fill="url(#g1_150)"/><rect x="380.15" y="287" width="3.27" height="195" fill="url(#g1_152)"/><rect x="383.42" y="287" width="3.92" height="195" fill="url(#g1_154)"/><rect x="387.34" y="287" width="3.27" height="195" fill="url(#g1_156)"/><rect x="390.61" y="287" width="3.92" height="195" fill="url(#g1_158)"/><rect x="394.53" y="287" width="3.92" height="195" fill="url(#g1_160)"/><rect x="398.45" y="287" width="3.27" height="195" fill="url(#g1_162)"/><rect x="401.72" y="287" width="3.92" height="195" fill="url(#g1_164)"/><rect x="405.64" y="287" width="3.27" height="195" fill="url(#g1_166)"/><rect x="408.91" y="287" width="3.92" height="195" fill="url(#g1_168)"/><rect x="412.84" y="287" width="3.92" height="195" fill="url(#g1_170)"/><rect x="416.76" y="287" width="3.27" height="195" fill="url(#g1_172)"/><rect x="420.03" y="287" width="3.92" height="195" fill="url(#g1_174)"/><rect x="423.95" y="287" width="3.27" height="195" fill="url(#g1_176)"/><rect x="427.22" y="287" width="3.92" height="195" fill="url(#g1_178)"/><rect x="431.14" y="287" width="3.92" height="195" fill="url(#g1_180)"/><rect x="435.06" y="287" width="3.27" height="195" fill="url(#g1_182)"/><rect x="438.33" y="287" width="3.92" height="195" fill="url(#g1_184)"/><rect x="442.26" y="287" width="3.27" height="195" fill="url(#g1_186)"/><rect x="445.52" y="287" width="3.92" height="195" fill="url(#g1_188)"/><rect x="449.45" y="287" width="3.92" height="195" fill="url(#g1_190)"/><rect x="453.37" y="287" width="3.27" height="195" fill="url(#g1_192)"/><rect x="456.64" y="287" width="3.92" height="195" fill="url(#g1_194)"/><rect x="460.56" y="287" width="3.27" height="195" fill="url(#g1_196)"/><rect x="463.83" y="287" width="3.92" height="195" fill="url(#g1_198)"/><rect x="467.75" y="287" width="3.92" height="195" fill="url(#g1_200)"/><rect x="471.67" y="287" width="3.27" height="195" fill="url(#g1_202)"/><rect x="474.94" y="287" width="3.92" height="195" fill="url(#g1_204)"/><rect x="478.87" y="287" width="3.27" height="195" fill="url(#g1_206)"/><rect x="482.13" y="287" width="3.92" height="195" fill="url(#g1_208)"/><rect x="486.06" y="287" width="3.92" height="195" fill="url(#g1_210)"/><rect x="489.98" y="287" width="3.27" height="195" fill="url(#g1_212)"/><rect x="493.25" y="287" width="3.92" height="195" fill="url(#g1_214)"/><rect x="497.17" y="287" width="3.27" height="195" fill="url(#g1_216)"/><rect x="500.44" y="287" width="3.92" height="195" fill="url(#g1_218)"/><rect x="504.36" y="287" width="3.92" height="195" fill="url(#g1_220)"/><rect x="508.29" y="287" width="3.27" height="195" fill="url(#g1_222)"/><rect x="511.55" y="287" width="3.92" height="195" fill="url(#g1_224)"/><rect x="515.48" y="287" width="3.27" height="195" fill="url(#g1_226)"/><rect x="518.75" y="287" width="3.92" height="195" fill="url(#g1_228)"/><rect x="522.67" y="287" width="3.92" height="195" fill="url(#g1_230)"/><rect x="526.59" y="287" width="3.27" height="195" fill="url(#g1_232)"/><rect x="529.86" y="287" width="3.92" height="195" fill="url(#g1_234)"/></g>
<g id="s10" shape-rendering="crispEdges"><rect x="533.78" y="287" width="3.27" height="195" fill="url(#g1_236)"/><rect x="537.05" y="287" width="3.92" height="195" fill="url(#g1_238)"/><rect x="540.97" y="287" width="3.92" height="195" fill="url(#g1_240)"/><rect x="544.9" y="287" width="3.27" height="195" fill="url(#g1_242)"/><rect x="548.16" y="287" width="3.92" height="195" fill="url(#g1_244)"/><rect x="552.09" y="287" width="3.27" height="195" fill="url(#g1_246)"/><rect x="555.36" y="287" width="3.92" height="195" fill="url(#g1_248)"/><rect x="559.28" y="287" width="3.92" height="195" fill="url(#g1_250)"/><rect x="563.2" y="287" width="3.27" height="195" fill="url(#g1_252)"/><rect x="566.47" y="287" width="3.92" height="195" fill="url(#g1_254)"/><rect x="570.39" y="287" width="3.27" height="195" fill="url(#g1_256)"/><rect x="573.66" y="287" width="3.92" height="195" fill="url(#g1_258)"/><rect x="577.58" y="287" width="3.92" height="195" fill="url(#g1_260)"/><rect x="581.51" y="287" width="3.27" height="195" fill="url(#g1_262)"/><rect x="584.77" y="287" width="3.92" height="195" fill="url(#g1_264)"/><rect x="588.7" y="287" width="3.27" height="195" fill="url(#g1_266)"/><rect x="591.97" y="287" width="3.92" height="195" fill="url(#g1_268)"/><rect x="595.89" y="287" width="3.92" height="195" fill="url(#g1_270)"/><rect x="599.81" y="287" width="3.27" height="195" fill="url(#g1_272)"/><rect x="603.08" y="287" width="3.92" height="195" fill="url(#g1_274)"/><rect x="607" y="287" width="3.27" height="195" fill="url(#g1_276)"/><rect x="610.27" y="287" width="3.92" height="195" fill="url(#g1_278)"/><rect x="614.19" y="287" width="3.92" height="195" fill="url(#g1_280)"/><rect x="618.12" y="287" width="3.27" height="195" fill="url(#g1_282)"/><rect x="621.39" y="287" width="3.92" height="195" fill="url(#g1_284)"/><rect x="625.31" y="287" width="3.27" height="195" fill="url(#g1_286)"/><rect x="628.58" y="287" width="3.92" height="195" fill="url(#g1_288)"/><rect x="632.5" y="287" width="3.92" height="195" fill="url(#g1_290)"/><rect x="636.42" y="287" width="3.27" height="195" fill="url(#g1_292)"/><rect x="639.69" y="287" width="3.92" height="195" fill="url(#g1_294)"/><rect x="643.61" y="287" width="3.27" height="195" fill="url(#g1_296)"/><rect x="646.88" y="287" width="3.92" height="195" fill="url(#g1_298)"/><rect x="650.8" y="287" width="3.92" height="195" fill="url(#g1_300)"/><rect x="654.73" y="287" width="3.92" height="195" fill="url(#g1_302)"/><rect x="658.65" y="287" width="3.27" height="195" fill="url(#g1_304)"/><rect x="661.92" y="287" width="3.92" height="195" fill="url(#g1_306)"/><rect x="665.84" y="287" width="3.27" height="195" fill="url(#g1_308)"/><rect x="669.11" y="287" width="3.92" height="195" fill="url(#g1_310)"/><rect x="673.03" y="287" width="3.92" height="195" fill="url(#g1_312)"/><rect x="676.96" y="287" width="3.27" height="195" fill="url(#g1_314)"/><rect x="680.22" y="287" width="3.92" height="195" fill="url(#g1_316)"/><rect x="684.15" y="287" width="3.27" height="195" fill="url(#g1_318)"/><rect x="687.42" y="287" width="3.92" height="195" fill="url(#g1_320)"/><rect x="691.34" y="287" width="3.92" height="195" fill="url(#g1_322)"/><rect x="695.26" y="287" width="3.27" height="195" fill="url(#g1_324)"/><rect x="698.53" y="287" width="3.92" height="195" fill="url(#g1_326)"/><rect x="702.45" y="287" width="3.27" height="195" fill="url(#g1_328)"/><rect x="705.72" y="287" width="3.92" height="195" fill="url(#g1_330)"/><rect x="709.64" y="287" width="3.92" height="195" fill="url(#g1_332)"/><rect x="713.57" y="287" width="3.27" height="195" fill="url(#g1_334)"/><rect x="716.83" y="287" width="3.92" height="195" fill="url(#g1_336)"/><rect x="720.76" y="287" width="3.27" height="195" fill="url(#g1_338)"/><rect x="724.03" y="287" width="3.92" height="195" fill="url(#g1_340)"/><rect x="727.95" y="287" width="3.92" height="195" fill="url(#g1_342)"/><rect x="731.87" y="287" width="3.27" height="195" fill="url(#g1_344)"/><rect x="735.14" y="287" width="3.92" height="195" fill="url(#g1_346)"/><rect x="739.06" y="287" width="3.27" height="195" fill="url(#g1_348)"/><rect x="742.33" y="287" width="3.92" height="195" fill="url(#g1_350)"/><rect x="746.25" y="287" width="3.92" height="195" fill="url(#g1_352)"/><rect x="750.18" y="287" width="3.27" height="195" fill="url(#g1_354)"/><rect x="753.45" y="287" width="3.92" height="195" fill="url(#g1_356)"/><rect x="757.37" y="287" width="3.27" height="195" fill="url(#g1_358)"/><rect x="760.64" y="287" width="3.92" height="195" fill="url(#g1_360)"/><rect x="764.56" y="287" width="3.92" height="195" fill="url(#g1_362)"/><rect x="768.48" y="287" width="3.27" height="195" fill="url(#g1_364)"/><rect x="771.75" y="287" width="3.92" height="195" fill="url(#g1_366)"/><rect x="775.67" y="287" width="3.27" height="195" fill="url(#g1_368)"/><rect x="778.94" y="287" width="3.92" height="195" fill="url(#g1_370)"/><rect x="782.86" y="287" width="3.92" height="195" fill="url(#g1_372)"/><rect x="786.79" y="287" width="3.27" height="195" fill="url(#g1_374)"/><rect x="790.06" y="287" width="3.92" height="195" fill="url(#g1_376)"/><rect x="793.98" y="287" width="3.27" height="195" fill="url(#g1_378)"/><rect x="797.25" y="287" width="3.92" height="195" fill="url(#g1_380)"/><rect x="801.17" y="287" width="3.92" height="195" fill="url(#g1_382)"/><rect x="805.09" y="287" width="3.27" height="195" fill="url(#g1_384)"/><rect x="808.36" y="287" width="3.92" height="195" fill="url(#g1_386)"/><rect x="812.28" y="287" width="3.27" height="195" fill="url(#g1_388)"/><rect x="815.55" y="287" width="3.92" height="195" fill="url(#g1_390)"/><rect x="819.47" y="287" width="3.92" height="195" fill="url(#g1_392)"/><rect x="823.4" y="287" width="3.27" height="195" fill="url(#g1_394)"/><rect x="826.67" y="287" width="3.92" height="195" fill="url(#g1_396)"/><rect x="830.59" y="287" width="3.27" height="195" fill="url(#g1_398)"/><rect x="833.86" y="287" width="3.92" height="195" fill="url(#g1_400)"/><rect x="837.78" y="287" width="3.92" height="195" fill="url(#g1_402)"/><rect x="841.7" y="287" width="3.27" height="195" fill="url(#g1_404)"/><rect x="844.97" y="287" width="3.92" height="195" fill="url(#g1_406)"/><rect x="848.89" y="287" width="3.27" height="195" fill="url(#g1_408)"/><rect x="852.16" y="287" width="3.92" height="195" fill="url(#g1_410)"/><rect x="856.09" y="287" width="3.92" height="195" fill="url(#g1_412)"/><rect x="860.01" y="287" width="3.27" height="195" fill="url(#g1_414)"/><rect x="863.28" y="287" width="3.92" height="195" fill="url(#g1_416)"/><rect x="867.2" y="287" width="3.27" height="195" fill="url(#g1_418)"/><rect x="870.47" y="287" width="3.92" height="195" fill="url(#g1_420)"/><rect x="874.39" y="287" width="3.92" height="195" fill="url(#g1_422)"/><rect x="878.31" y="287" width="3.27" height="195" fill="url(#g1_424)"/><rect x="881.58" y="287" width="3.92" height="195" fill="url(#g1_426)"/><rect x="885.5" y="287" width="3.27" height="195" fill="url(#g1_428)"/><rect x="888.77" y="287" width="3.92" height="195" fill="url(#g1_430)"/><rect x="892.7" y="287" width="3.92" height="195" fill="url(#g1_432)"/><rect x="896.62" y="287" width="3.27" height="195" fill="url(#g1_434)"/><rect x="899.89" y="287" width="3.92" height="195" fill="url(#g1_436)"/><rect x="903.81" y="287" width="3.27" height="195" fill="url(#g1_438)"/><rect x="907.08" y="287" width="3.92" height="195" fill="url(#g1_440)"/><rect x="911" y="287" width="3.92" height="195" fill="url(#g1_442)"/><rect x="914.92" y="287" width="3.27" height="195" fill="url(#g1_444)"/><rect x="918.19" y="287" width="3.92" height="195" fill="url(#g1_446)"/><rect x="922.12" y="287" width="3.27" height="195" fill="url(#g1_448)"/><rect x="925.38" y="287" width="3.92" height="195" fill="url(#g1_450)"/><rect x="929.31" y="287" width="3.92" height="195" fill="url(#g1_452)"/><rect x="933.23" y="287" width="3.27" height="195" fill="url(#g1_454)"/><rect x="936.5" y="287" width="3.92" height="195" fill="url(#g1_456)"/><rect x="940.42" y="287" width="3.27" height="195" fill="url(#g1_458)"/><rect x="943.69" y="287" width="3.92" height="195" fill="url(#g1_460)"/><rect x="947.61" y="287" width="3.92" height="195" fill="url(#g1_462)"/><rect x="951.53" y="287" width="3.27" height="195" fill="url(#g1_464)"/><rect x="954.8" y="287" width="3.92" height="195" fill="url(#g1_466)"/><rect x="958.73" y="287" width="3.27" height="195" fill="url(#g1_468)"/><rect x="961.99" y="287" width="3.92" height="195" fill="url(#g1_470)"/><rect x="965.92" y="287" width="3.92" height="195" fill="url(#g1_472)"/><rect x="969.84" y="287" width="3.27" height="195" fill="url(#g1_474)"/><rect x="973.11" y="287" width="3.92" height="195" fill="url(#g1_476)"/><rect x="977.03" y="287" width="3.27" height="195" fill="url(#g1_478)"/><rect x="980.3" y="287" width="3.92" height="195" fill="url(#g1_480)"/><rect x="984.22" y="287" width="3.92" height="195" fill="url(#g1_482)"/><rect x="988.15" y="287" width="3.27" height="195" fill="url(#g1_484)"/><rect x="991.41" y="287" width="3.92" height="195" fill="url(#g1_486)"/><rect x="995.34" y="287" width="3.27" height="195" fill="url(#g1_488)"/><rect x="998.61" y="287" width="3.92" height="195" fill="url(#g1_490)"/><rect x="1002.53" y="287" width="3.92" height="195" fill="url(#g1_492)"/><rect x="1006.45" y="287" width="3.27" height="195" fill="url(#g1_494)"/><rect x="1009.72" y="287" width="3.92" height="195" fill="url(#g1_496)"/><rect x="1013.64" y="287" width="3.27" height="195" fill="url(#g1_498)"/><rect x="1016.91" y="287" width="3.92" height="195" fill="url(#g1_500)"/><rect x="1020.83" y="287" width="3.92" height="195" fill="url(#g1_502)"/><rect x="1024.76" y="287" width="3.92" height="195" fill="url(#g1_504)"/><rect x="1028.68" y="287" width="3.27" height="195" fill="url(#g1_506)"/><rect x="1031.95" y="287" width="3.92" height="195" fill="url(#g1_508)"/><rect x="1035.87" y="287" width="6.13" height="195" fill="url(#g1_510)"/></g>
<g id="c11" shape-rendering="crispEdges"><rect x="99" y="287" width="7.88" height="195" fill="url(#g1_1)"/><rect x="106.88" y="287" width="3.92" height="195" fill="url(#g1_3)"/><rect x="110.8" y="287" width="3.27" height="195" fill="url(#g1_5)"/><rect x="114.07" y="287" width="3.92" height="195" fill="url(#g1_7)"/><rect x="117.99" y="287" width="3.27" height="195" fill="url(#g1_9)"/><rect x="121.26" y="287" width="3.92" height="195" fill="url(#g1_11)"/><rect x="125.18" y="287" width="3.92" height="195" fill="url(#g1_13)"/><rect x="129.1" y="287" width="3.27" height="195" fill="url(#g1_15)"/><rect x="132.37" y="287" width="3.92" height="195" fill="url(#g1_17)"/><rect x="136.3" y="287" width="3.27" height="195" fill="url(#g1_19)"/><rect x="139.56" y="287" width="3.92" height="195" fill="url(#g1_21)"/><rect x="143.49" y="287" width="3.92" height="195" fill="url(#g1_23)"/><rect x="147.41" y="287" width="3.27" height="195" fill="url(#g1_25)"/><rect x="150.68" y="287" width="3.92" height="195" fill="url(#g1_27)"/><rect x="154.6" y="287" width="3.27" height="195" fill="url(#g1_29)"/><rect x="157.87" y="287" width="3.92" height="195" fill="url(#g1_31)"/><rect x="161.79" y="287" width="3.92" height="195" fill="url(#g1_33)"/><rect x="165.71" y="287" width="3.27" height="195" fill="url(#g1_35)"/><rect x="168.98" y="287" width="3.92" height="195" fill="url(#g1_37)"/><rect x="172.91" y="287" width="3.27" height="195" fill="url(#g1_39)"/><rect x="176.17" y="287" width="3.92" height="195" fill="url(#g1_41)"/><rect x="180.1" y="287" width="3.92" height="195" fill="url(#g1_43)"/><rect x="184.02" y="287" width="3.27" height="195" fill="url(#g1_45)"/><rect x="187.29" y="287" width="3.92" height="195" fill="url(#g1_47)"/><rect x="191.21" y="287" width="3.27" height="195" fill="url(#g1_49)"/><rect x="194.48" y="287" width="3.92" height="195" fill="url(#g1_51)"/><rect x="198.4" y="287" width="3.92" height="195" fill="url(#g1_53)"/><rect x="202.33" y="287" width="3.27" height="195" fill="url(#g1_55)"/><rect x="205.59" y="287" width="3.92" height="195" fill="url(#g1_57)"/><rect x="209.52" y="287" width="3.27" height="195" fill="url(#g1_59)"/><rect x="212.79" y="287" width="3.92" height="195" fill="url(#g1_61)"/><rect x="216.71" y="287" width="3.92" height="195" fill="url(#g1_63)"/><rect x="220.63" y="287" width="3.27" height="195" fill="url(#g1_65)"/><rect x="223.9" y="287" width="3.92" height="195" fill="url(#g1_67)"/><rect x="227.82" y="287" width="3.27" height="195" fill="url(#g1_69)"/><rect x="231.09" y="287" width="3.92" height="195" fill="url(#g1_71)"/><rect x="235.01" y="287" width="3.92" height="195" fill="url(#g1_73)"/><rect x="238.94" y="287" width="3.27" height="195" fill="url(#g1_75)"/><rect x="242.2" y="287" width="3.92" height="195" fill="url(#g1_77)"/><rect x="246.13" y="287" width="3.27" height="195" fill="url(#g1_79)"/><rect x="249.4" y="287" width="3.92" height="195" fill="url(#g1_81)"/><rect x="253.32" y="287" width="3.92" height="195" fill="url(#g1_83)"/><rect x="257.24" y="287" width="3.27" height="195" fill="url(#g1_85)"/><rect x="260.51" y="287" width="3.92" height="195" fill="url(#g1_87)"/><rect x="264.43" y="287" width="3.27" height="195" fill="url(#g1_89)"/><rect x="267.7" y="287" width="3.92" height="195" fill="url(#g1_91)"/><rect x="271.62" y="287" width="3.92" height="195" fill="url(#g1_93)"/><rect x="275.55" y="287" width="3.27" height="195" fill="url(#g1_95)"/><rect x="278.82" y="287" width="3.92" height="195" fill="url(#g1_97)"/><rect x="282.74" y="287" width="3.92" height="195" fill="url(#g1_99)"/><rect x="286.66" y="287" width="3.27" height="195" fill="url(#g1_101)"/><rect x="289.93" y="287" width="3.92" height="195" fill="url(#g1_103)"/><rect x="293.85" y="287" width="3.92" height="195" fill="url(#g1_105)"/><rect x="297.77" y="287" width="3.27" height="195" fill="url(#g1_107)"/><rect x="301.04" y="287" width="3.92" height="195" fill="url(#g1_109)"/><rect x="304.97" y="287" width="3.27" height="195" fill="url(#g1_111)"/><rect x="308.23" y="287" width="3.92" height="195" fill="url(#g1_113)"/><rect x="312.16" y="287" width="3.92" height="195" fill="url(#g1_115)"/><rect x="316.08" y="287" width="3.27" height="195" fill="url(#g1_117)"/><rect x="319.35" y="287" width="3.92" height="195" fill="url(#g1_119)"/><rect x="323.27" y="287" width="3.27" height="195" fill="url(#g1_121)"/><rect x="326.54" y="287" width="3.92" height="195" fill="url(#g1_123)"/><rect x="330.46" y="287" width="3.92" height="195" fill="url(#g1_125)"/><rect x="334.38" y="287" width="3.27" height="195" fill="url(#g1_127)"/><rect x="337.65" y="287" width="3.92" height="195" fill="url(#g1_129)"/><rect x="341.58" y="287" width="3.27" height="195" fill="url(#g1_131)"/><rect x="344.85" y="287" width="3.92" height="195" fill="url(#g1_133)"/><rect x="348.77" y="287" width="3.92" height="195" fill="url(#g1_135)"/><rect x="352.69" y="287" width="3.27" height="195" fill="url(#g1_137)"/><rect x="355.96" y="287" width="3.92" height="195" fill="url(#g1_139)"/><rect x="359.88" y="287" width="3.27" height="195" fill="url(#g1_141)"/><rect x="363.15" y="287" width="3.92" height="195" fill="url(#g1_143)"/><rect x="367.07" y="287" width="3.92" height="195" fill="url(#g1_145)"/><rect x="371" y="287" width="3.27" height="195" fill="url(#g1_147)"/><rect x="374.26" y="287" width="3.92" height="195" fill="url(#g1_149)"/><rect x="378.19" y="287" width="3.27" height="195" fill="url(#g1_151)"/><rect x="381.46" y="287" width="3.92" height="195" fill="url(#g1_153)"/><rect x="385.38" y="287" width="3.92" height="195" fill="url(#g1_155)"/><rect x="389.3" y="287" width="3.27" height="195" fill="url(#g1_157)"/><rect x="392.57" y="287" width="3.92" height="195" fill="url(#g1_159)"/><rect x="396.49" y="287" width="3.27" height="195" fill="url(#g1_161)"/><rect x="399.76" y="287" width="3.92" height="195" fill="url(#g1_163)"/><rect x="403.68" y="287" width="3.92" height="195" fill="url(#g1_165)"/><rect x="407.61" y="287" width="3.27" height="195" fill="url(#g1_167)"/><rect x="410.87" y="287" width="3.92" height="195" fill="url(#g1_169)"/><rect x="414.8" y="287" width="3.27" height="195" fill="url(#g1_171)"/><rect x="418.07" y="287" width="3.92" height="195" fill="url(#g1_173)"/><rect x="421.99" y="287" width="3.92" height="195" fill="url(#g1_175)"/><rect x="425.91" y="287" width="3.27" height="195" fill="url(#g1_177)"/><rect x="429.18" y="287" width="3.92" height="195" fill="url(#g1_179)"/><rect x="433.1" y="287" width="3.27" height="195" fill="url(#g1_181)"/><rect x="436.37" y="287" width="3.92" height="195" fill="url(#g1_183)"/><rect x="440.29" y="287" width="3.92" height="195" fill="url(#g1_185)"/><rect x="444.22" y="287" width="3.27" height="195" fill="url(#g1_187)"/><rect x="447.49" y="287" width="3.92" height="195" fill="url(#g1_189)"/><rect x="451.41" y="287" width="3.27" height="195" fill="url(#g1_191)"/><rect x="454.68" y="287" width="3.92" height="195" fill="url(#g1_193)"/><rect x="458.6" y="287" width="3.92" height="195" fill="url(#g1_195)"/><rect x="462.52" y="287" width="3.27" height="195" fill="url(#g1_197)"/><rect x="465.79" y="287" width="3.92" height="195" fill="url(#g1_199)"/><rect x="469.71" y="287" width="3.27" height="195" fill="url(#g1_201)"/><rect x="472.98" y="287" width="3.92" height="195" fill="url(#g1_203)"/><rect x="476.9" y="287" width="3.92" height="195" fill="url(#g1_205)"/><rect x="480.83" y="287" width="3.27" height="195" fill="url(#g1_207)"/><rect x="484.1" y="287" width="3.92" height="195" fill="url(#g1_209)"/><rect x="488.02" y="287" width="3.27" height="195" fill="url(#g1_211)"/><rect x="491.29" y="287" width="3.92" height="195" fill="url(#g1_213)"/><rect x="495.21" y="287" width="3.92" height="195" fill="url(#g1_215)"/><rect x="499.13" y="287" width="3.27" height="195" fill="url(#g1_217)"/><rect x="502.4" y="287" width="3.92" height="195" fill="url(#g1_219)"/><rect x="506.32" y="287" width="3.27" height="195" fill="url(#g1_221)"/><rect x="509.59" y="287" width="3.92" height="195" fill="url(#g1_223)"/><rect x="513.52" y="287" width="3.92" height="195" fill="url(#g1_225)"/><rect x="517.44" y="287" width="3.27" height="195" fill="url(#g1_227)"/><rect x="520.71" y="287" width="3.92" height="195" fill="url(#g1_229)"/><rect x="524.63" y="287" width="3.27" height="195" fill="url(#g1_231)"/><rect x="527.9" y="287" width="3.92" height="195" fill="url(#g1_233)"/><rect x="531.82" y="287" width="3.92" height="195" fill="url(#g1_235)"/></g>
<g id="s11" shape-rendering="crispEdges"><rect x="535.74" y="287" width="3.27" height="195" fill="url(#g1_237)"/><rect x="539.01" y="287" width="3.92" height="195" fill="url(#g1_239)"/><rect x="542.93" y="287" width="3.27" height="195" fill="url(#g1_241)"/><rect x="546.2" y="287" width="3.92" height="195" fill="url(#g1_243)"/><rect x="550.13" y="287" width="3.92" height="195" fill="url(#g1_245)"/><rect x="554.05" y="287" width="3.27" height="195" fill="url(#g1_247)"/><rect x="557.32" y="287" width="3.92" height="195" fill="url(#g1_249)"/><rect x="561.24" y="287" width="3.27" height="195" fill="url(#g1_251)"/><rect x="564.51" y="287" width="3.92" height="195" fill="url(#g1_253)"/><rect x="568.43" y="287" width="3.92" height="195" fill="url(#g1_255)"/><rect x="572.35" y="287" width="3.27" height="195" fill="url(#g1_257)"/><rect x="575.62" y="287" width="3.92" height="195" fill="url(#g1_259)"/><rect x="579.54" y="287" width="3.27" height="195" fill="url(#g1_261)"/><rect x="582.81" y="287" width="3.92" height="195" fill="url(#g1_263)"/><rect x="586.74" y="287" width="3.92" height="195" fill="url(#g1_265)"/><rect x="590.66" y="287" width="3.27" height="195" fill="url(#g1_267)"/><rect x="593.93" y="287" width="3.92" height="195" fill="url(#g1_269)"/><rect x="597.85" y="287" width="3.27" height="195" fill="url(#g1_271)"/><rect x="601.12" y="287" width="3.92" height="195" fill="url(#g1_273)"/><rect x="605.04" y="287" width="3.92" height="195" fill="url(#g1_275)"/><rect x="608.96" y="287" width="3.27" height="195" fill="url(#g1_277)"/><rect x="612.23" y="287" width="3.92" height="195" fill="url(#g1_279)"/><rect x="616.16" y="287" width="3.27" height="195" fill="url(#g1_281)"/><rect x="619.42" y="287" width="3.92" height="195" fill="url(#g1_283)"/><rect x="623.35" y="287" width="3.92" height="195" fill="url(#g1_285)"/><rect x="627.27" y="287" width="3.27" height="195" fill="url(#g1_287)"/><rect x="630.54" y="287" width="3.92" height="195" fill="url(#g1_289)"/><rect x="634.46" y="287" width="3.27" height="195" fill="url(#g1_291)"/><rect x="637.73" y="287" width="3.92" height="195" fill="url(#g1_293)"/><rect x="641.65" y="287" width="3.92" height="195" fill="url(#g1_295)"/><rect x="645.57" y="287" width="3.27" height="195" fill="url(#g1_297)"/><rect x="648.84" y="287" width="3.92" height="195" fill="url(#g1_299)"/><rect x="652.77" y="287" width="3.92" height="195" fill="url(#g1_301)"/><rect x="656.69" y="287" width="3.27" height="195" fill="url(#g1_303)"/><rect x="659.96" y="287" width="3.92" height="195" fill="url(#g1_305)"/><rect x="663.88" y="287" width="3.92" height="195" fill="url(#g1_307)"/><rect x="667.8" y="287" width="3.27" height="195" fill="url(#g1_309)"/><rect x="671.07" y="287" width="3.92" height="195" fill="url(#g1_311)"/><rect x="674.99" y="287" width="3.27" height="195" fill="url(#g1_313)"/><rect x="678.26" y="287" width="3.92" height="195" fill="url(#g1_315)"/><rect x="682.19" y="287" width="3.92" height="195" fill="url(#g1_317)"/><rect x="686.11" y="287" width="3.27" height="195" fill="url(#g1_319)"/><rect x="689.38" y="287" width="3.92" height="195" fill="url(#g1_321)"/><rect x="693.3" y="287" width="3.27" height="195" fill="url(#g1_323)"/><rect x="696.57" y="287" width="3.92" height="195" fill="url(#g1_325)"/><rect x="700.49" y="287" width="3.92" height="195" fill="url(#g1_327)"/><rect x="704.41" y="287" width="3.27" height="195" fill="url(#g1_329)"/><rect x="707.68" y="287" width="3.92" height="195" fill="url(#g1_331)"/><rect x="711.6" y="287" width="3.27" height="195" fill="url(#g1_333)"/><rect x="714.87" y="287" width="3.92" height="195" fill="url(#g1_335)"/><rect x="718.8" y="287" width="3.92" height="195" fill="url(#g1_337)"/><rect x="722.72" y="287" width="3.27" height="195" fill="url(#g1_339)"/><rect x="725.99" y="287" width="3.92" height="195" fill="url(#g1_341)"/><rect x="729.91" y="287" width="3.27" height="195" fill="url(#g1_343)"/><rect x="733.18" y="287" width="3.92" height="195" fill="url(#g1_345)"/><rect x="737.1" y="287" width="3.92" height="195" fill="url(#g1_347)"/><rect x="741.02" y="287" width="3.27" height="195" fill="url(#g1_349)"/><rect x="744.29" y="287" width="3.92" height="195" fill="url(#g1_351)"/><rect x="748.22" y="287" width="3.27" height="195" fill="url(#g1_353)"/><rect x="751.48" y="287" width="3.92" height="195" fill="url(#g1_355)"/><rect x="755.41" y="287" width="3.92" height="195" fill="url(#g1_357)"/><rect x="759.33" y="287" width="3.27" height="195" fill="url(#g1_359)"/><rect x="762.6" y="287" width="3.92" height="195" fill="url(#g1_361)"/><rect x="766.52" y="287" width="3.27" height="195" fill="url(#g1_363)"/><rect x="769.79" y="287" width="3.92" height="195" fill="url(#g1_365)"/><rect x="773.71" y="287" width="3.92" height="195" fill="url(#g1_367)"/><rect x="777.63" y="287" width="3.27" height="195" fill="url(#g1_369)"/><rect x="780.9" y="287" width="3.92" height="195" fill="url(#g1_371)"/><rect x="784.83" y="287" width="3.27" height="195" fill="url(#g1_373)"/><rect x="788.09" y="287" width="3.92" height="195" fill="url(#g1_375)"/><rect x="792.02" y="287" width="3.92" height="195" fill="url(#g1_377)"/><rect x="795.94" y="287" width="3.27" height="195" fill="url(#g1_379)"/><rect x="799.21" y="287" width="3.92" height="195" fill="url(#g1_381)"/><rect x="803.13" y="287" width="3.27" height="195" fill="url(#g1_383)"/><rect x="806.4" y="287" width="3.92" height="195" fill="url(#g1_385)"/><rect x="810.32" y="287" width="3.92" height="195" fill="url(#g1_387)"/><rect x="814.24" y="287" width="3.27" height="195" fill="url(#g1_389)"/><rect x="817.51" y="287" width="3.92" height="195" fill="url(#g1_391)"/><rect x="821.44" y="287" width="3.27" height="195" fill="url(#g1_393)"/><rect x="824.7" y="287" width="3.92" height="195" fill="url(#g1_395)"/><rect x="828.63" y="287" width="3.92" height="195" fill="url(#g1_397)"/><rect x="832.55" y="287" width="3.27" height="195" fill="url(#g1_399)"/><rect x="835.82" y="287" width="3.92" height="195" fill="url(#g1_401)"/><rect x="839.74" y="287" width="3.27" height="195" fill="url(#g1_403)"/><rect x="843.01" y="287" width="3.92" height="195" fill="url(#g1_405)"/><rect x="846.93" y="287" width="3.92" height="195" fill="url(#g1_407)"/><rect x="850.86" y="287" width="3.27" height="195" fill="url(#g1_409)"/><rect x="854.12" y="287" width="3.92" height="195" fill="url(#g1_411)"/><rect x="858.05" y="287" width="3.27" height="195" fill="url(#g1_413)"/><rect x="861.32" y="287" width="3.92" height="195" fill="url(#g1_415)"/><rect x="865.24" y="287" width="3.92" height="195" fill="url(#g1_417)"/><rect x="869.16" y="287" width="3.27" height="195" fill="url(#g1_419)"/><rect x="872.43" y="287" width="3.92" height="195" fill="url(#g1_421)"/><rect x="876.35" y="287" width="3.27" height="195" fill="url(#g1_423)"/><rect x="879.62" y="287" width="3.92" height="195" fill="url(#g1_425)"/><rect x="883.54" y="287" width="3.92" height="195" fill="url(#g1_427)"/><rect x="887.47" y="287" width="3.27" height="195" fill="url(#g1_429)"/><rect x="890.73" y="287" width="3.92" height="195" fill="url(#g1_431)"/><rect x="894.66" y="287" width="3.27" height="195" fill="url(#g1_433)"/><rect x="897.93" y="287" width="3.92" height="195" fill="url(#g1_435)"/><rect x="901.85" y="287" width="3.92" height="195" fill="url(#g1_437)"/><rect x="905.77" y="287" width="3.27" height="195" fill="url(#g1_439)"/><rect x="909.04" y="287" width="3.92" height="195" fill="url(#g1_441)"/><rect x="912.96" y="287" width="3.27" height="195" fill="url(#g1_443)"/><rect x="916.23" y="287" width="3.92" height="195" fill="url(#g1_445)"/><rect x="920.15" y="287" width="3.92" height="195" fill="url(#g1_447)"/><rect x="924.08" y="287" width="3.27" height="195" fill="url(#g1_449)"/><rect x="927.35" y="287" width="3.92" height="195" fill="url(#g1_451)"/><rect x="931.27" y="287" width="3.27" height="195" fill="url(#g1_453)"/><rect x="934.54" y="287" width="3.92" height="195" fill="url(#g1_455)"/><rect x="938.46" y="287" width="3.92" height="195" fill="url(#g1_457)"/><rect x="942.38" y="287" width="3.27" height="195" fill="url(#g1_459)"/><rect x="945.65" y="287" width="3.92" height="195" fill="url(#g1_461)"/><rect x="949.57" y="287" width="3.27" height="195" fill="url(#g1_463)"/><rect x="952.84" y="287" width="3.92" height="195" fill="url(#g1_465)"/><rect x="956.76" y="287" width="3.92" height="195" fill="url(#g1_467)"/><rect x="960.69" y="287" width="3.27" height="195" fill="url(#g1_469)"/><rect x="963.96" y="287" width="3.92" height="195" fill="url(#g1_471)"/><rect x="967.88" y="287" width="3.27" height="195" fill="url(#g1_473)"/><rect x="971.15" y="287" width="3.92" height="195" fill="url(#g1_475)"/><rect x="975.07" y="287" width="3.92" height="195" fill="url(#g1_477)"/><rect x="978.99" y="287" width="3.27" height="195" fill="url(#g1_479)"/><rect x="982.26" y="287" width="3.92" height="195" fill="url(#g1_481)"/><rect x="986.18" y="287" width="3.27" height="195" fill="url(#g1_483)"/><rect x="989.45" y="287" width="3.92" height="195" fill="url(#g1_485)"/><rect x="993.38" y="287" width="3.92" height="195" fill="url(#g1_487)"/><rect x="997.3" y="287" width="3.27" height="195" fill="url(#g1_489)"/><rect x="1000.57" y="287" width="3.92" height="195" fill="url(#g1_491)"/><rect x="1004.49" y="287" width="3.27" height="195" fill="url(#g1_493)"/><rect x="1007.76" y="287" width="3.92" height="195" fill="url(#g1_495)"/><rect x="1011.68" y="287" width="3.92" height="195" fill="url(#g1_497)"/><rect x="1015.6" y="287" width="3.27" height="195" fill="url(#g1_499)"/><rect x="1018.87" y="287" width="3.92" height="195" fill="url(#g1_501)"/><rect x="1022.79" y="287" width="3.92" height="195" fill="url(#g1_503)"/><rect x="1026.72" y="287" width="3.27" height="195" fill="url(#g1_505)"/><rect x="1029.99" y="287" width="3.92" height="195" fill="url(#g1_507)"/><rect x="1033.91" y="287" width="3.92" height="195" fill="url(#g1_509)"/><rect x="1037.83" y="287" width="4.17" height="195" fill="url(#g1_511)"/></g>
<clipPath id="ce2"><path d="M102.2 541h1.31v195h-1.31zM106.13 541h1.31v195h-1.31zM110.06 541h1.31v195h-1.31zM112.68 541h2.62v195h-2.62zM116.6 541h2.62v195h-2.62zM120.53 541h1.31v195h-1.31zM124.46 541h1.31v195h-1.31zM128.39 541h1.31v195h-1.31zM131.01 541h2.62v195h-2.62zM134.94 541h2.62v195h-2.62zM138.87 541h1.31v195h-1.31zM142.79 541h1.31v195h-1.31zM146.72 541h1.31v195h-1.31zM149.34 541h2.62v195h-2.62zM153.27 541h2.62v195h-2.62zM157.2 541h1.31v195h-1.31zM161.13 541h1.31v195h-1.31zM165.05 541h1.31v195h-1.31zM167.67 541h2.62v195h-2.62zM171.6 541h2.62v195h-2.62zM175.53 541h1.31v195h-1.31zM179.46 541h1.31v195h-1.31zM183.39 541h1.31v195h-1.31zM186.01 541h2.62v195h-2.62zM189.93 541h2.62v195h-2.62zM193.86 541h1.31v195h-1.31zM197.79 541h1.31v195h-1.31zM201.72 541h1.31v195h-1.31zM204.34 541h2.62v195h-2.62zM208.27 541h2.62v195h-2.62zM212.2 541h1.31v195h-1.31zM216.12 541h1.31v195h-1.31zM220.05 541h1.31v195h-1.31zM222.67 541h2.62v195h-2.62zM226.6 541h2.62v195h-2.62zM230.53 541h1.31v195h-1.31zM234.46 541h1.31v195h-1.31zM238.39 541h1.31v195h-1.31zM241 541h2.62v195h-2.62zM244.93 541h2.62v195h-2.62zM248.86 541h1.31v195h-1.31zM252.79 541h1.31v195h-1.31zM256.72 541h1.31v195h-1.31zM259.34 541h2.62v195h-2.62zM263.27 541h2.62v195h-2.62zM267.19 541h1.31v195h-1.31zM271.12 541h1.31v195h-1.31zM275.05 541h1.31v195h-1.31zM277.67 541h2.62v195h-2.62zM281.6 541h2.62v195h-2.62zM285.53 541h2.62v195h-2.62zM289.45 541h1.31v195h-1.31zM293.38 541h1.31v195h-1.31zM297.31 541h1.31v195h-1.31zM299.93 541h2.62v195h-2.62zM303.86 541h2.62v195h-2.62zM307.79 541h1.31v195h-1.31zM311.72 541h1.31v195h-1.31zM315.64 541h1.31v195h-1.31zM318.26 541h2.62v195h-2.62zM322.19 541h2.62v195h-2.62zM326.12 541h1.31v195h-1.31zM330.05 541h1.31v195h-1.31zM333.98 541h1.31v195h-1.31zM336.6 541h2.62v195h-2.62zM340.52 541h2.62v195h-2.62zM344.45 541h1.31v195h-1.31zM348.38 541h1.31v195h-1.31zM352.31 541h1.31v195h-1.31zM354.93 541h2.62v195h-2.62zM358.86 541h2.62v195h-2.62zM362.78 541h1.31v195h-1.31zM366.71 541h1.31v195h-1.31zM370.64 541h1.31v195h-1.31zM373.26 541h2.62v195h-2.62zM377.19 541h2.62v195h-2.62zM381.12 541h1.31v195h-1.31zM385.05 541h1.31v195h-1.31zM388.97 541h1.31v195h-1.31zM391.59 541h2.62v195h-2.62zM395.52 541h2.62v195h-2.62zM399.45 541h1.31v195h-1.31zM403.38 541h1.31v195h-1.31zM407.31 541h1.31v195h-1.31zM409.93 541h2.62v195h-2.62zM413.85 541h2.62v195h-2.62zM417.78 541h1.31v195h-1.31zM421.71 541h1.31v195h-1.31zM425.64 541h1.31v195h-1.31zM428.26 541h2.62v195h-2.62zM432.19 541h2.62v195h-2.62zM436.12 541h1.31v195h-1.31zM440.04 541h1.31v195h-1.31zM443.97 541h1.31v195h-1.31zM446.59 541h2.62v195h-2.62zM450.52 541h2.62v195h-2.62zM454.45 541h1.31v195h-1.31zM458.38 541h1.31v195h-1.31zM462.3 541h1.31v195h-1.31zM464.92 541h2.62v195h-2.62zM468.85 541h2.62v195h-2.62zM472.78 541h1.31v195h-1.31zM476.71 541h1.31v195h-1.31zM480.64 541h1.31v195h-1.31zM483.26 541h2.62v195h-2.62zM487.18 541h2.62v195h-2.62zM491.11 541h1.31v195h-1.31zM495.04 541h1.31v195h-1.31zM498.97 541h1.31v195h-1.31zM501.59 541h2.62v195h-2.62zM505.52 541h2.62v195h-2.62zM509.45 541h1.31v195h-1.31zM513.37 541h1.31v195h-1.31zM517.3 541h1.31v195h-1.31zM519.92 541h2.62v195h-2.62zM523.85 541h2.62v195h-2.62zM527.78 541h1.31v195h-1.31zM531.71 541h1.31v195h-1.31zM535.64 541h1.31v195h-1.31zM538.25 541h2.62v195h-2.62zM542.18 541h2.62v195h-2.62zM546.11 541h1.31v195h-1.31zM550.04 541h1.31v195h-1.31zM553.97 541h1.31v195h-1.31zM556.59 541h2.62v195h-2.62zM560.52 541h2.62v195h-2.62zM564.44 541h1.31v195h-1.31zM568.37 541h1.31v195h-1.31zM572.3 541h1.31v195h-1.31zM574.92 541h2.62v195h-2.62zM578.85 541h2.62v195h-2.62zM582.78 541h1.31v195h-1.31zM586.7 541h1.31v195h-1.31zM590.63 541h1.31v195h-1.31zM593.25 541h2.62v195h-2.62zM597.18 541h2.62v195h-2.62zM601.11 541h1.31v195h-1.31zM605.04 541h1.31v195h-1.31zM608.97 541h1.31v195h-1.31zM611.58 541h2.62v195h-2.62zM615.51 541h2.62v195h-2.62zM619.44 541h1.31v195h-1.31zM623.37 541h1.31v195h-1.31zM627.3 541h1.31v195h-1.31zM629.92 541h2.62v195h-2.62zM633.85 541h2.62v195h-2.62zM637.77 541h1.31v195h-1.31zM641.7 541h1.31v195h-1.31zM645.63 541h1.31v195h-1.31zM648.25 541h2.62v195h-2.62zM652.18 541h2.62v195h-2.62zM656.11 541h2.62v195h-2.62zM660.04 541h1.31v195h-1.31zM663.96 541h1.31v195h-1.31zM667.89 541h1.31v195h-1.31zM670.51 541h2.62v195h-2.62zM674.44 541h2.62v195h-2.62zM678.37 541h1.31v195h-1.31zM682.3 541h1.31v195h-1.31zM686.22 541h1.31v195h-1.31zM688.84 541h2.62v195h-2.62zM692.77 541h2.62v195h-2.62zM696.7 541h1.31v195h-1.31zM700.63 541h1.31v195h-1.31zM704.56 541h1.31v195h-1.31zM707.18 541h2.62v195h-2.62zM711.1 541h2.62v195h-2.62zM715.03 541h1.31v195h-1.31zM718.96 541h1.31v195h-1.31zM722.89 541h1.31v195h-1.31zM725.51 541h2.62v195h-2.62zM729.44 541h2.62v195h-2.62zM733.37 541h1.31v195h-1.31zM737.29 541h1.31v195h-1.31zM741.22 541h1.31v195h-1.31zM743.84 541h2.62v195h-2.62zM747.77 541h2.62v195h-2.62zM751.7 541h1.31v195h-1.31zM755.63 541h1.31v195h-1.31zM759.55 541h1.31v195h-1.31zM762.17 541h2.62v195h-2.62zM766.1 541h2.62v195h-2.62zM770.03 541h1.31v195h-1.31zM773.96 541h1.31v195h-1.31zM777.89 541h1.31v195h-1.31zM780.51 541h2.62v195h-2.62zM784.43 541h2.62v195h-2.62zM788.36 541h1.31v195h-1.31zM792.29 541h1.31v195h-1.31zM796.22 541h1.31v195h-1.31zM798.84 541h2.62v195h-2.62zM802.77 541h2.62v195h-2.62zM806.7 541h1.31v195h-1.31zM810.62 541h1.31v195h-1.31zM814.55 541h1.31v195h-1.31zM817.17 541h2.62v195h-2.62zM821.1 541h2.62v195h-2.62zM825.03 541h1.31v195h-1.31zM828.96 541h1.31v195h-1.31zM832.89 541h1.31v195h-1.31zM835.5 541h2.62v195h-2.62zM839.43 541h2.62v195h-2.62zM843.36 541h1.31v195h-1.31zM847.29 541h1.31v195h-1.31zM851.22 541h1.31v195h-1.31zM853.84 541h2.62v195h-2.62zM857.77 541h2.62v195h-2.62zM861.69 541h1.31v195h-1.31zM865.62 541h1.31v195h-1.31zM869.55 541h1.31v195h-1.31zM872.17 541h2.62v195h-2.62zM876.1 541h2.62v195h-2.62zM880.03 541h1.31v195h-1.31zM883.95 541h1.31v195h-1.31zM887.88 541h1.31v195h-1.31zM890.5 541h2.62v195h-2.62zM894.43 541h2.62v195h-2.62zM898.36 541h1.31v195h-1.31zM902.29 541h1.31v195h-1.31zM906.22 541h1.31v195h-1.31zM908.83 541h2.62v195h-2.62zM912.76 541h2.62v195h-2.62zM916.69 541h1.31v195h-1.31zM920.62 541h1.31v195h-1.31zM924.55 541h1.31v195h-1.31zM927.17 541h2.62v195h-2.62zM931.1 541h2.62v195h-2.62zM935.02 541h1.31v195h-1.31zM938.95 541h1.31v195h-1.31zM942.88 541h1.31v195h-1.31zM945.5 541h2.62v195h-2.62zM949.43 541h2.62v195h-2.62zM953.36 541h1.31v195h-1.31zM957.29 541h1.31v195h-1.31zM961.21 541h1.31v195h-1.31zM963.83 541h2.62v195h-2.62zM967.76 541h2.62v195h-2.62zM971.69 541h1.31v195h-1.31zM975.62 541h1.31v195h-1.31zM979.55 541h1.31v195h-1.31zM982.17 541h2.62v195h-2.62zM986.09 541h2.62v195h-2.62zM990.02 541h1.31v195h-1.31zM993.95 541h1.31v195h-1.31zM997.88 541h1.31v195h-1.31zM1000.5 541h2.62v195h-2.62zM1004.43 541h2.62v195h-2.62zM1008.35 541h1.31v195h-1.31zM1012.28 541h1.31v195h-1.31zM1016.21 541h1.31v195h-1.31zM1018.83 541h2.62v195h-2.62zM1022.76 541h2.62v195h-2.62zM1026.69 541h2.62v195h-2.62zM1030.62 541h1.31v195h-1.31zM1034.54 541h1.31v195h-1.31zM1038.47 541h1.31v195h-1.31z"/></clipPath>
<clipPath id="cr2"><path d="M101 545.5h940v1.31h-940zM101 549.44h940v1.31h-940zM101 553.37h940v1.31h-940zM101 556h940v2.62h-940zM101 559.93h940v2.62h-940zM101 563.87h940v1.31h-940zM101 567.8h940v1.31h-940zM101 571.74h940v1.31h-940zM101 574.36h940v2.62h-940zM101 578.3h940v2.62h-940zM101 582.23h940v1.31h-940zM101 586.17h940v1.31h-940zM101 590.11h940v1.31h-940zM101 592.73h940v2.62h-940zM101 596.66h940v2.62h-940zM101 600.6h940v1.31h-940zM101 604.54h940v1.31h-940zM101 608.47h940v1.31h-940zM101 611.1h940v2.62h-940zM101 615.03h940v2.62h-940zM101 618.97h940v1.31h-940zM101 622.9h940v1.31h-940zM101 626.84h940v1.31h-940zM101 629.46h940v2.62h-940zM101 633.4h940v2.62h-940zM101 637.33h940v1.31h-940zM101 641.27h940v1.31h-940zM101 645.21h940v1.31h-940zM101 647.83h940v2.62h-940zM101 651.77h940v2.62h-940zM101 655.7h940v1.31h-940zM101 659.64h940v1.31h-940zM101 663.57h940v1.31h-940zM101 666.2h940v2.62h-940zM101 670.13h940v2.62h-940zM101 674.07h940v1.31h-940zM101 678h940v1.31h-940zM101 681.94h940v1.31h-940zM101 684.56h940v2.62h-940zM101 688.5h940v2.62h-940zM101 692.44h940v1.31h-940zM101 696.37h940v1.31h-940zM101 700.31h940v1.31h-940zM101 702.93h940v2.62h-940zM101 706.87h940v2.62h-940zM101 710.8h940v1.31h-940zM101 714.74h940v1.31h-940zM101 718.67h940v1.31h-940zM101 721.3h940v2.62h-940zM101 725.23h940v2.62h-940z"/></clipPath>
<linearGradient id="g2_0" href="#b" y1="549.306" y2="555.08"/>
<linearGradient id="g2_1" href="#b" y1="546.419" y2="552.193"/>
<linearGradient id="g2_2" href="#b" y1="549.412" y2="555.398"/>
<linearGradient id="g2_3" href="#b" y1="546.419" y2="552.405"/>
<linearGradient id="g2_4" href="#b" y1="549.522" y2="555.727"/>
<linearGradient id="g2_5" href="#b" y1="546.419" y2="552.624"/>
<linearGradient id="g2_6" href="#b" y1="549.635" y2="556.068"/>
<linearGradient id="g2_7" href="#b" y1="546.419" y2="552.851"/>
<linearGradient id="g2_8" href="#b" y1="549.753" y2="556.421"/>
<linearGradient id="g2_9" href="#b" y1="546.419" y2="553.087"/>
<linearGradient id="g2_10" href="#b" y1="549.875" y2="556.787"/>
<linearGradient id="g2_11" href="#b" y1="546.419" y2="553.331"/>
<linearGradient id="g2_12" href="#b" y1="550.002" y2="557.167"/>
<linearGradient id="g2_13" href="#b" y1="546.419" y2="553.584"/>
<linearGradient id="g2_14" href="#b" y1="550.133" y2="557.561"/>
<linearGradient id="g2_15" href="#b" y1="546.419" y2="553.847"/>
<linearGradient id="g2_16" href="#b" y1="550.269" y2="557.969"/>
<linearGradient id="g2_17" href="#b" y1="546.419" y2="554.119"/>
<linearGradient id="g2_18" href="#b" y1="550.41" y2="558.392"/>
<linearGradient id="g2_19" href="#b" y1="546.419" y2="554.401"/>
<linearGradient id="g2_20" href="#b" y1="550.556" y2="558.831"/>
<linearGradient id="g2_21" href="#b" y1="546.419" y2="554.694"/>
<linearGradient id="g2_22" href="#b" y1="550.708" y2="559.286"/>
<linearGradient id="g2_23" href="#b" y1="546.419" y2="554.997"/>
<linearGradient id="g2_24" href="#b" y1="550.865" y2="559.757"/>
<linearGradient id="g2_25" href="#b" y1="546.419" y2="555.311"/>
<linearGradient id="g2_26" href="#b" y1="551.028" y2="560.245"/>
<linearGradient id="g2_27" href="#b" y1="546.419" y2="555.637"/>
<linearGradient id="g2_28" href="#b" y1="551.197" y2="560.752"/>
<linearGradient id="g2_29" href="#b" y1="546.419" y2="555.974"/>
<linearGradient id="g2_30" href="#b" y1="551.372" y2="561.277"/>
<linearGradient id="g2_31" href="#b" y1="546.419" y2="556.324"/>
<linearGradient id="g2_32" href="#b" y1="551.553" y2="561.821"/>
<linearGradient id="g2_33" href="#b" y1="546.419" y2="556.687"/>
<linearGradient id="g2_34" href="#b" y1="551.741" y2="562.386"/>
<linearGradient id="g2_35" href="#b" y1="546.419" y2="557.063"/>
<linearGradient id="g2_36" href="#b" y1="551.936" y2="562.97"/>
<linearGradient id="g2_37" href="#b" y1="546.419" y2="557.453"/>
<linearGradient id="g2_38" href="#b" y1="552.138" y2="563.577"/>
<linearGradient id="g2_39" href="#b" y1="546.419" y2="557.858"/>
<linearGradient id="g2_40" href="#b" y1="552.348" y2="564.205"/>
<linearGradient id="g2_41" href="#b" y1="546.419" y2="558.277"/>
<linearGradient id="g2_42" href="#b" y1="552.565" y2="564.857"/>
<linearGradient id="g2_43" href="#b" y1="546.419" y2="558.711"/>
<linearGradient id="g2_44" href="#b" y1="552.79" y2="565.532"/>
<linearGradient id="g2_45" href="#b" y1="546.419" y2="559.161"/>
<linearGradient id="g2_46" href="#b" y1="553.024" y2="566.233"/>
<linearGradient id="g2_47" href="#b" y1="546.419" y2="559.628"/>
<linearGradient id="g2_48" href="#b" y1="553.265" y2="566.958"/>
<linearGradient id="g2_49" href="#b" y1="546.419" y2="560.112"/>
<linearGradient id="g2_50" href="#b" y1="553.516" y2="567.711"/>
<linearGradient id="g2_51" href="#b" y1="546.419" y2="560.614"/>
<linearGradient id="g2_52" href="#b" y1="553.776" y2="568.491"/>
<linearGradient id="g2_53" href="#b" y1="546.419" y2="561.133"/>
<linearGradient id="g2_54" href="#b" y1="554.046" y2="569.299"/>
<linearGradient id="g2_55" href="#b" y1="546.419" y2="561.673"/>
<linearGradient id="g2_56" href="#b" y1="554.325" y2="570.137"/>
<linearGradient id="g2_57" href="#b" y1="546.419" y2="562.231"/>
<linearGradient id="g2_58" href="#b" y1="554.615" y2="571.006"/>
<linearGradient id="g2_59" href="#b" y1="546.419" y2="562.811"/>
<linearGradient id="g2_60" href="#b" y1="554.915" y2="571.907"/>
<linearGradient id="g2_61" href="#b" y1="546.419" y2="563.411"/>
<linearGradient id="g2_62" href="#b" y1="555.226" y2="572.841"/>
<linearGradient id="g2_63" href="#b" y1="546.419" y2="564.034"/>
<linearGradient id="g2_64" href="#b" y1="555.549" y2="573.809"/>
<linearGradient id="g2_65" href="#b" y1="546.419" y2="564.679"/>
<linearGradient id="g2_66" href="#b" y1="555.883" y2="574.812"/>
<linearGradient id="g2_67" href="#b" y1="546.419" y2="565.348"/>
<linearGradient id="g2_68" href="#b" y1="556.23" y2="575.852"/>
<linearGradient id="g2_69" href="#b" y1="546.419" y2="566.041"/>
<linearGradient id="g2_70" href="#b" y1="556.589" y2="576.93"/>
<linearGradient id="g2_71" href="#b" y1="546.419" y2="566.76"/>
<linearGradient id="g2_72" href="#b" y1="556.962" y2="578.048"/>
<linearGradient id="g2_73" href="#b" y1="546.419" y2="567.505"/>
<linearGradient id="g2_74" href="#b" y1="557.348" y2="579.207"/>
<linearGradient id="g2_75" href="#b" y1="546.419" y2="568.278"/>
<linearGradient id="g2_76" href="#b" y1="557.749" y2="580.408"/>
<linearGradient id="g2_77" href="#b" y1="546.419" y2="569.078"/>
<linearGradient id="g2_78" href="#b" y1="558.164" y2="581.653"/>
<linearGradient id="g2_79" href="#b" y1="546.419" y2="569.908"/>
<linearGradient id="g2_80" href="#b" y1="558.594" y2="582.944"/>
<linearGradient id="g2_81" href="#b" y1="546.419" y2="570.769"/>
<linearGradient id="g2_82" href="#b" y1="559.04" y2="584.282"/>
<linearGradient id="g2_83" href="#b" y1="546.419" y2="571.661"/>
<linearGradient id="g2_84" href="#b" y1="559.502" y2="585.669"/>
<linearGradient id="g2_85" href="#b" y1="546.419" y2="572.585"/>
<linearGradient id="g2_86" href="#b" y1="559.982" y2="587.107"/>
<linearGradient id="g2_87" href="#b" y1="546.419" y2="573.544"/>
<linearGradient id="g2_88" href="#b" y1="560.478" y2="588.597"/>
<linearGradient id="g2_89" href="#b" y1="546.419" y2="574.538"/>
<linearGradient id="g2_90" href="#b" y1="560.993" y2="590.142"/>
<linearGradient id="g2_91" href="#b" y1="546.419" y2="575.568"/>
<linearGradient id="g2_92" href="#b" y1="561.527" y2="591.744"/>
<linearGradient id="g2_93" href="#b" y1="546.419" y2="576.636"/>
<linearGradient id="g2_94" href="#b" y1="562.081" y2="593.404"/>
<linearGradient id="g2_95" href="#b" y1="546.419" y2="577.743"/>
<linearGradient id="g2_96" href="#b" y1="562.654" y2="595.125"/>
<linearGradient id="g2_97" href="#b" y1="546.419" y2="578.89"/>
<linearGradient id="g2_98" href="#b" y1="563.249" y2="596.91"/>
<linearGradient id="g2_99" href="#b" y1="546.419" y2="580.079"/>
<linearGradient id="g2_100" href="#b" y1="563.866" y2="598.759"/>
<linearGradient id="g2_101" href="#b" y1="546.419" y2="581.313"/>
<linearGradient id="g2_102" href="#b" y1="564.505" y2="600.677"/>
<linearGradient id="g2_103" href="#b" y1="546.419" y2="582.591"/>
<linearGradient id="g2_104" href="#b" y1="565.167" y2="602.664"/>
<linearGradient id="g2_105" href="#b" y1="546.419" y2="583.916"/>
<linearGradient id="g2_106" href="#b" y1="565.854" y2="604.725"/>
<linearGradient id="g2_107" href="#b" y1="546.419" y2="585.29"/>
<linearGradient id="g2_108" href="#b" y1="566.566" y2="606.861"/>
<linearGradient id="g2_109" href="#b" y1="546.419" y2="586.713"/>
<linearGradient id="g2_110" href="#b" y1="567.304" y2="609.075"/>
<linearGradient id="g2_111" href="#b" y1="546.419" y2="588.19"/>
<linearGradient id="g2_112" href="#b" y1="568.069" y2="611.37"/>
<linearGradient id="g2_113" href="#b" y1="546.419" y2="589.72"/>
<linearGradient id="g2_114" href="#b" y1="568.862" y2="613.749"/>
<linearGradient id="g2_115" href="#b" y1="546.419" y2="591.306"/>
<linearGradient id="g2_116" href="#b" y1="569.685" y2="616.216"/>
<linearGradient id="g2_117" href="#b" y1="546.419" y2="592.95"/>
<linearGradient id="g2_118" href="#b" y1="570.537" y2="618.773"/>
<linearGradient id="g2_119" href="#b" y1="546.419" y2="594.655"/>
<linearGradient id="g2_120" href="#b" y1="571.42" y2="621.423"/>
<linearGradient id="g2_121" href="#b" y1="546.419" y2="596.422"/>
<linearGradient id="g2_122" href="#b" y1="572.336" y2="624.171"/>
<linearGradient id="g2_123" href="#b" y1="546.419" y2="598.254"/>
<linearGradient id="g2_124" href="#b" y1="573.286" y2="627.019"/>
<linearGradient id="g2_125" href="#b" y1="546.419" y2="600.153"/>
<linearGradient id="g2_126" href="#b" y1="574.27" y2="629.972"/>
<linearGradient id="g2_127" href="#b" y1="546.419" y2="602.121"/>
<linearGradient id="g2_128" href="#b" y1="575.29" y2="633.033"/>
<linearGradient id="g2_129" href="#b" y1="546.419" y2="604.161"/>
<linearGradient id="g2_130" href="#b" y1="576.348" y2="636.206"/>
<linearGradient id="g2_131" href="#b" y1="546.419" y2="606.277"/>
<linearGradient id="g2_132" href="#b" y1="577.444" y2="639.495"/>
<linearGradient id="g2_133" href="#b" y1="546.419" y2="608.47"/>
<linearGradient id="g2_134" href="#b" y1="578.581" y2="642.904"/>
<linearGradient id="g2_135" href="#b" y1="546.419" y2="610.743"/>
<linearGradient id="g2_136" href="#b" y1="579.759" y2="646.439"/>
<linearGradient id="g2_137" href="#b" y1="546.419" y2="613.099"/>
<linearGradient id="g2_138" href="#b" y1="580.98" y2="650.103"/>
<linearGradient id="g2_139" href="#b" y1="546.419" y2="615.542"/>
<linearGradient id="g2_140" href="#b" y1="582.246" y2="653.901"/>
<linearGradient id="g2_141" href="#b" y1="546.419" y2="618.074"/>
<linearGradient id="g2_142" href="#b" y1="583.559" y2="657.839"/>
<linearGradient id="g2_143" href="#b" y1="546.419" y2="620.699"/>
<linearGradient id="g2_144" href="#b" y1="584.919" y2="661.92"/>
<linearGradient id="g2_145" href="#b" y1="546.419" y2="623.42"/>
<linearGradient id="g2_146" href="#b" y1="586.33" y2="666.151"/>
<linearGradient id="g2_147" href="#b" y1="546.419" y2="626.241"/>
<linearGradient id="g2_148" href="#b" y1="587.792" y2="670.538"/>
<linearGradient id="g2_149" href="#b" y1="546.419" y2="629.165"/>
<linearGradient id="g2_150" href="#b" y1="589.307" y2="675.084"/>
<linearGradient id="g2_151" href="#b" y1="546.419" y2="632.196"/>
<linearGradient id="g2_152" href="#b" y1="590.879" y2="679.798"/>
<linearGradient id="g2_153" href="#b" y1="546.419" y2="635.338"/>
<linearGradient id="g2_154" href="#b" y1="592.507" y2="684.684"/>
<linearGradient id="g2_155" href="#b" y1="546.419" y2="638.596"/>
<linearGradient id="g2_156" href="#b" y1="594.196" y2="689.749"/>
<linearGradient id="g2_157" href="#b" y1="546.419" y2="641.972"/>
<linearGradient id="g2_158" href="#b" y1="595.946" y2="694.999"/>
<linearGradient id="g2_159" href="#b" y1="546.419" y2="645.473"/>
<linearGradient id="g2_160" href="#b" y1="597.76" y2="700.442"/>
<linearGradient id="g2_161" href="#b" y1="546.419" y2="649.101"/>
<linearGradient id="g2_162" href="#b" y1="599.641" y2="706.085"/>
<linearGradient id="g2_163" href="#b" y1="546.419" y2="652.863"/>
<linearGradient id="g2_164" href="#b" y1="601.591" y2="711.934"/>
<linearGradient id="g2_165" href="#b" y1="546.419" y2="656.762"/>
<linearGradient id="g2_166" href="#b" y1="603.612" y2="717.997"/>
<linearGradient id="g2_167" href="#b" y1="546.419" y2="660.804"/>
<linearGradient id="g2_168" href="#b" y1="605.707" y2="724.282"/>
<linearGradient id="g2_169" href="#b" y1="546.419" y2="664.995"/>
<linearGradient id="g2_170" href="#b" y1="607.879" y2="730.798"/>
<linearGradient id="g2_171" href="#b" y1="546.419" y2="669.338"/>
<linearGradient id="g2_172" href="#b" y1="610.13" y2="737.552"/>
<linearGradient id="g2_173" href="#b" y1="546.419" y2="673.841"/>
<linearGradient id="g2_174" href="#b" y1="612.464" y2="744.554"/>
<linearGradient id="g2_175" href="#b" y1="546.419" y2="678.509"/>
<linearGradient id="g2_176" href="#b" y1="614.883" y2="751.812"/>
<linearGradient id="g2_177" href="#b" y1="546.419" y2="683.348"/>
<linearGradient id="g2_178" href="#b" y1="617.392" y2="759.337"/>
<linearGradient id="g2_179" href="#b" y1="546.419" y2="688.364"/>
<linearGradient id="g2_180" href="#b" y1="619.991" y2="767.136"/>
<linearGradient id="g2_181" href="#b" y1="546.419" y2="693.564"/>
<linearGradient id="g2_182" href="#b" y1="622.687" y2="775.222"/>
<linearGradient id="g2_183" href="#b" y1="546.419" y2="698.954"/>
<linearGradient id="g2_184" href="#b" y1="625.481" y2="783.604"/>
<linearGradient id="g2_185" href="#b" y1="546.419" y2="704.542"/>
<linearGradient id="g2_186" href="#b" y1="628.377" y2="792.292"/>
<linearGradient id="g2_187" href="#b" y1="546.419" y2="710.335"/>
<linearGradient id="g2_188" href="#b" y1="631.379" y2="801.3"/>
<linearGradient id="g2_189" href="#b" y1="546.419" y2="716.339"/>
<linearGradient id="g2_190" href="#b" y1="634.492" y2="810.637"/>
<linearGradient id="g2_191" href="#b" y1="546.419" y2="722.564"/>
<linearGradient id="g2_192" href="#b" y1="637.718" y2="820.316"/>
<linearGradient id="g2_193" href="#b" y1="546.419" y2="729.017"/>
<linearGradient id="g2_194" href="#b" y1="641.062" y2="830.349"/>
<linearGradient id="g2_195" href="#b" y1="546.419" y2="735.706"/>
<linearGradient id="g2_196" href="#b" y1="644.529" y2="840.75"/>
<linearGradient id="g2_197" href="#b" y1="546.419" y2="742.64"/>
<linearGradient id="g2_198" href="#b" y1="648.124" y2="851.533"/>
<linearGradient id="g2_199" href="#b" y1="546.419" y2="749.828"/>
<linearGradient id="g2_200" href="#b" y1="651.849" y2="862.71"/>
<linearGradient id="g2_201" href="#b" y1="546.419" y2="757.28"/>
<linearGradient id="g2_202" href="#b" y1="655.712" y2="874.297"/>
<linearGradient id="g2_203" href="#b" y1="546.419" y2="765.004"/>
<linearGradient id="g2_204" href="#b" y1="659.715" y2="886.308"/>
<linearGradient id="g2_205" href="#b" y1="546.419" y2="773.011"/>
<linearGradient id="g2_206" href="#b" y1="663.866" y2="898.759"/>
<linearGradient id="g2_207" href="#b" y1="546.419" y2="781.312"/>
<linearGradient id="g2_208" href="#b" y1="668.168" y2="911.666"/>
<linearGradient id="g2_209" href="#b" y1="546.419" y2="789.917"/>
<linearGradient id="g2_210" href="#b" y1="672.628" y2="925.046"/>
<linearGradient id="g2_211" href="#b" y1="546.419" y2="798.837"/>
<linearGradient id="g2_212" href="#b" y1="677.251" y2="938.916"/>
<linearGradient id="g2_213" href="#b" y1="546.419" y2="808.084"/>
<linearGradient id="g2_214" href="#b" y1="682.044" y2="953.295"/>
<linearGradient id="g2_215" href="#b" y1="546.419" y2="817.669"/>
<linearGradient id="g2_216" href="#b" y1="687.013" y2="968.2"/>
<linearGradient id="g2_217" href="#b" y1="546.419" y2="827.606"/>
<linearGradient id="g2_218" href="#b" y1="692.163" y2="983.651"/>
<linearGradient id="g2_219" href="#b" y1="546.419" y2="837.907"/>
<linearGradient id="g2_220" href="#b" y1="697.502" y2="999.668"/>
<linearGradient id="g2_221" href="#b" y1="546.419" y2="848.585"/>
<linearGradient id="g2_222" href="#b" y1="703.037" y2="1016.272"/>
<linearGradient id="g2_223" href="#b" y1="546.419" y2="859.654"/>
<linearGradient id="g2_224" href="#b" y1="708.774" y2="1033.484"/>
<linearGradient id="g2_225" href="#b" y1="546.419" y2="871.129"/>
<linearGradient id="g2_226" href="#b" y1="714.721" y2="1051.326"/>
<linearGradient id="g2_227" href="#b" y1="546.419" y2="883.024"/>
<linearGradient id="g2_228" href="#b" y1="720.887" y2="1069.823"/>
<linearGradient id="g2_229" href="#b" y1="546.419" y2="895.355"/>
<linearGradient id="g2_230" href="#b" y1="727.278" y2="1088.996"/>
<linearGradient id="g2_231" href="#b" y1="546.419" y2="908.137"/>
<linearGradient id="g2_232" href="#b" y1="733.904" y2="1108.873"/>
<linearGradient id="g2_233" href="#b" y1="546.419" y2="921.388"/>
<linearGradient id="g2_234" href="#b" y1="740.772" y2="1129.477"/>
<linearGradient id="g2_235" href="#b" y1="546.419" y2="935.124"/>
<linearGradient id="g2_236" href="#b" y1="747.891" y2="1150.836"/>
<linearGradient id="g2_237" href="#b" y1="546.419" y2="949.364"/>
<linearGradient id="g2_238" href="#b" y1="755.272" y2="1172.978"/>
<linearGradient id="g2_239" href="#b" y1="546.419" y2="964.125"/>
<linearGradient id="g2_240" href="#b" y1="762.923" y2="1195.93"/>
<linearGradient id="g2_241" href="#b" y1="546.419" y2="979.426"/>
<linearGradient id="g2_242" href="#b" y1="770.854" y2="1219.724"/>
<linearGradient id="g2_243" href="#b" y1="546.419" y2="995.289"/>
<linearGradient id="g2_244" href="#b" y1="779.076" y2="1244.389"/>
<linearGradient id="g2_245" href="#b" y1="546.419" y2="1011.732"/>
<linearGradient id="g2_246" href="#b" y1="787.598" y2="1269.957"/>
<linearGradient id="g2_247" href="#b" y1="546.419" y2="1028.778"/>
<linearGradient id="g2_248" href="#b" y1="796.434" y2="1296.463"/>
<linearGradient id="g2_249" href="#b" y1="546.419" y2="1046.448"/>
<linearGradient id="g2_250" href="#b" y1="805.592" y2="1323.939"/>
<linearGradient id="g2_251" href="#b" y1="546.419" y2="1064.766"/>
<linearGradient id="g2_252" href="#b" y1="815.087" y2="1352.422"/>
<linearGradient id="g2_253" href="#b" y1="546.419" y2="1083.754"/>
<linearGradient id="g2_254" href="#b" y1="824.929" y2="1381.948"/>
<linearGradient id="g2_255" href="#b" y1="546.419" y2="1103.438"/>
<linearGradient id="g2_256" href="#b" y1="835.131" y2="1412.556"/>
<linearGradient id="g2_257" href="#b" y1="546.419" y2="1123.844"/>
<linearGradient id="g2_258" href="#b" y1="845.708" y2="1444.285"/>
<linearGradient id="g2_259" href="#b" y1="546.419" y2="1144.996"/>
<linearGradient id="g2_260" href="#b" y1="856.672" y2="1477.177"/>
<linearGradient id="g2_261" href="#b" y1="546.419" y2="1166.924"/>
<linearGradient id="g2_262" href="#b" y1="868.037" y2="1511.273"/>
<linearGradient id="g2_263" href="#b" y1="546.419" y2="1189.655"/>
<linearGradient id="g2_264" href="#b" y1="879.819" y2="1546.619"/>
<linearGradient id="g2_265" href="#b" y1="546.419" y2="1213.219"/>
<linearGradient id="g2_266" href="#b" y1="892.032" y2="1583.259"/>
<linearGradient id="g2_267" href="#b" y1="546.419" y2="1237.646"/>
<linearGradient id="g2_268" href="#b" y1="904.693" y2="1621.241"/>
<linearGradient id="g2_269" href="#b" y1="546.419" y2="1262.967"/>
<linearGradient id="g2_270" href="#b" y1="917.818" y2="1660.615"/>
<linearGradient id="g2_271" href="#b" y1="546.419" y2="1289.216"/>
<linearGradient id="g2_272" href="#b" y1="931.423" y2="1701.431"/>
<linearGradient id="g2_273" href="#b" y1="546.419" y2="1316.427"/>
<linearGradient id="g2_274" href="#b" y1="945.527" y2="1743.743"/>
<linearGradient id="g2_275" href="#b" y1="546.419" y2="1344.635"/>
<linearGradient id="g2_276" href="#b" y1="960.147" y2="1787.604"/>
<linearGradient id="g2_277" href="#b" y1="546.419" y2="1373.876"/>
<linearGradient id="g2_278" href="#b" y1="975.304" y2="1833.073"/>
<linearGradient id="g2_279" href="#b" y1="546.419" y2="1404.188"/>
<linearGradient id="g2_280" href="#b" y1="991.015" y2="1880.206"/>
<linearGradient id="g2_281" href="#b" y1="546.419" y2="1435.611"/>
<linearGradient id="g2_282" href="#b" y1="1007.302" y2="1929.067"/>
<linearGradient id="g2_283" href="#b" y1="546.419" y2="1468.184"/>
<linearGradient id="g2_284" href="#b" y1="1024.185" y2="1979.717"/>
<linearGradient id="g2_285" href="#b" y1="546.419" y2="1501.951"/>
<linearGradient id="g2_286" href="#b" y1="1041.687" y2="2032.223"/>
<linearGradient id="g2_287" href="#b" y1="546.419" y2="1536.955"/>
<linearGradient id="g2_288" href="#b" y1="1059.83" y2="2086.653"/>
<linearGradient id="g2_289" href="#b" y1="546.419" y2="1573.242"/>
<linearGradient id="g2_290" href="#b" y1="1078.638" y2="2143.076"/>
<linearGradient id="g2_291" href="#b" y1="546.419" y2="1610.857"/>
<linearGradient id="g2_292" href="#b" y1="1098.135" y2="2201.566"/>
<linearGradient id="g2_293" href="#b" y1="546.419" y2="1649.851"/>
<linearGradient id="g2_294" href="#b" y1="1118.346" y2="2262.199"/>
<linearGradient id="g2_295" href="#b" y1="546.419" y2="1690.272"/>
<linearGradient id="g2_296" href="#b" y1="1139.297" y2="2325.053"/>
<linearGradient id="g2_297" href="#b" y1="546.419" y2="1732.175"/>
<linearGradient id="g2_298" href="#b" y1="1161.016" y2="2390.21"/>
<linearGradient id="g2_299" href="#b" y1="546.419" y2="1775.613"/>
<linearGradient id="g2_300" href="#b" y1="1183.53" y2="2457.753"/>
<linearGradient id="g2_301" href="#b" y1="546.419" y2="1820.642"/>
<linearGradient id="g2_302" href="#b" y1="1206.87" y2="2527.771"/>
<linearGradient id="g2_303" href="#b" y1="546.419" y2="1867.32"/>
<linearGradient id="g2_304" href="#b" y1="1231.064" y2="2600.354"/>
<linearGradient id="g2_305" href="#b" y1="546.419" y2="1915.709"/>
<linearGradient id="g2_306" href="#b" y1="1256.144" y2="2675.595"/>
<linearGradient id="g2_307" href="#b" y1="546.419" y2="1965.87"/>
<linearGradient id="g2_308" href="#b" y1="1282.144" y2="2753.593"/>
<linearGradient id="g2_309" href="#b" y1="546.419" y2="2017.869"/>
<linearGradient id="g2_310" href="#b" y1="1309.096" y2="2834.449"/>
<linearGradient id="g2_311" href="#b" y1="546.419" y2="2071.772"/>
<linearGradient id="g2_312" href="#b" y1="1337.035" y2="2918.266"/>
<linearGradient id="g2_313" href="#b" y1="546.419" y2="2127.65"/>
<linearGradient id="g2_314" href="#b" y1="1365.997" y2="3005.154"/>
<linearGradient id="g2_315" href="#b" y1="546.419" y2="2185.575"/>
<linearGradient id="g2_316" href="#b" y1="1396.021" y2="3095.224"/>
<linearGradient id="g2_317" href="#b" y1="546.419" y2="2245.622"/>
<linearGradient id="g2_318" href="#b" y1="1427.144" y2="3188.594"/>
<linearGradient id="g2_319" href="#b" y1="546.419" y2="2307.869"/>
<linearGradient id="g2_320" href="#b" y1="1459.408" y2="3285.385"/>
<linearGradient id="g2_321" href="#b" y1="546.419" y2="2372.396"/>
<linearGradient id="g2_322" href="#b" y1="1492.853" y2="3385.721"/>
<linearGradient id="g2_323" href="#b" y1="546.419" y2="2439.287"/>
<linearGradient id="g2_324" href="#b" y1="1527.524" y2="3489.733"/>
<linearGradient id="g2_325" href="#b" y1="546.419" y2="2508.629"/>
<linearGradient id="g2_326" href="#b" y1="1563.465" y2="3597.556"/>
<linearGradient id="g2_327" href="#b" y1="546.419" y2="2580.51"/>
<linearGradient id="g2_328" href="#b" y1="1600.722" y2="3709.328"/>
<linearGradient id="g2_329" href="#b" y1="546.419" y2="2655.025"/>
<linearGradient id="g2_330" href="#b" y1="1639.344" y2="3825.194"/>
<linearGradient id="g2_331" href="#b" y1="546.419" y2="2732.269"/>
<linearGradient id="g2_332" href="#b" y1="1679.381" y2="3945.305"/>
<linearGradient id="g2_333" href="#b" y1="546.419" y2="2812.343"/>
<linearGradient id="g2_334" href="#b" y1="1720.885" y2="4069.816"/>
<linearGradient id="g2_335" href="#b" y1="546.419" y2="2895.351"/>
<linearGradient id="g2_336" href="#b" y1="1763.909" y2="4198.889"/>
<linearGradient id="g2_337" href="#b" y1="546.419" y2="2981.399"/>
<linearGradient id="g2_338" href="#b" y1="1808.509" y2="4332.69"/>
<linearGradient id="g2_339" href="#b" y1="546.419" y2="3070.599"/>
<linearGradient id="g2_340" href="#b" y1="1854.743" y2="4471.392"/>
<linearGradient id="g2_341" href="#b" y1="546.419" y2="3163.067"/>
<linearGradient id="g2_342" href="#b" y1="1902.671" y2="4615.175"/>
<linearGradient id="g2_343" href="#b" y1="546.419" y2="3258.923"/>
<linearGradient id="g2_344" href="#b" y1="1952.354" y2="4764.225"/>
<linearGradient id="g2_345" href="#b" y1="546.419" y2="3358.29"/>
<linearGradient id="g2_346" href="#b" y1="2003.858" y2="4918.736"/>
<linearGradient id="g2_347" href="#b" y1="546.419" y2="3461.297"/>
<linearGradient id="g2_348" href="#b" y1="2057.248" y2="5078.907"/>
<linearGradient id="g2_349" href="#b" y1="546.419" y2="3568.077"/>
<linearGradient id="g2_350" href="#b" y1="2112.594" y2="5244.945"/>
<linearGradient id="g2_351" href="#b" y1="546.419" y2="3678.77"/>
<linearGradient id="g2_352" href="#b" y1="2169.968" y2="5417.066"/>
<linearGradient id="g2_353" href="#b" y1="546.419" y2="3793.517"/>
<linearGradient id="g2_354" href="#b" y1="2229.443" y2="5595.492"/>
<linearGradient id="g2_355" href="#b" y1="546.419" y2="3912.468"/>
<linearGradient id="g2_356" href="#b" y1="2291.097" y2="5780.454"/>
<linearGradient id="g2_357" href="#b" y1="546.419" y2="4035.776"/>
<linearGradient id="g2_358" href="#b" y1="2355.01" y2="5972.192"/>
<linearGradient id="g2_359" href="#b" y1="546.419" y2="4163.601"/>
<linearGradient id="g2_360" href="#b" y1="2421.264" y2="6170.954"/>
<linearGradient id="g2_361" href="#b" y1="546.419" y2="4296.109"/>
<linearGradient id="g2_362" href="#b" y1="2489.945" y2="6376.997"/>
<linearGradient id="g2_363" href="#b" y1="546.419" y2="4433.471"/>
<linearGradient id="g2_364" href="#b" y1="2561.142" y2="6590.589"/>
<linearGradient id="g2_365" href="#b" y1="546.419" y2="4575.865"/>
<linearGradient id="g2_366" href="#b" y1="2634.947" y2="6812.004"/>
<linearGradient id="g2_367" href="#b" y1="546.419" y2="4723.476"/>
<linearGradient id="g2_368" href="#b" y1="2711.456" y2="7041.531"/>
<linearGradient id="g2_369" href="#b" y1="546.419" y2="4876.494"/>
<linearGradient id="g2_370" href="#b" y1="2790.768" y2="7279.466"/>
<linearGradient id="g2_371" href="#b" y1="546.419" y2="5035.117"/>
<linearGradient id="g2_372" href="#b" y1="2872.985" y2="7526.117"/>
<linearGradient id="g2_373" href="#b" y1="546.419" y2="5199.551"/>
<linearGradient id="g2_374" href="#b" y1="2958.214" y2="7781.804"/>
<linearGradient id="g2_375" href="#b" y1="546.419" y2="5370.009"/>
<linearGradient id="g2_376" href="#b" y1="3046.565" y2="8046.857"/>
<linearGradient id="g2_377" href="#b" y1="546.419" y2="5546.711"/>
<linearGradient id="g2_378" href="#b" y1="3138.153" y2="8321.62"/>
<linearGradient id="g2_379" href="#b" y1="546.419" y2="5729.886"/>
<linearGradient id="g2_380" href="#b" y1="3233.096" y2="8606.449"/>
<linearGradient id="g2_381" href="#b" y1="546.419" y2="5919.772"/>
<linearGradient id="g2_382" href="#b" y1="3331.516" y2="8901.711"/>
<linearGradient id="g2_383" href="#b" y1="546.419" y2="6116.614"/>
<linearGradient id="g2_384" href="#b" y1="3433.543" y2="9207.79"/>
<linearGradient id="g2_385" href="#b" y1="546.419" y2="6320.666"/>
<linearGradient id="g2_386" href="#b" y1="3539.306" y2="9525.081"/>
<linearGradient id="g2_387" href="#b" y1="546.419" y2="6532.194"/>
<linearGradient id="g2_388" href="#b" y1="3648.945" y2="9853.996"/>
<linearGradient id="g2_389" href="#b" y1="546.419" y2="6751.47"/>
<linearGradient id="g2_390" href="#b" y1="3762.599" y2="10194.96"/>
<linearGradient id="g2_391" href="#b" y1="546.419" y2="6978.78"/>
<linearGradient id="g2_392" href="#b" y1="3880.417" y2="10548.414"/>
<linearGradient id="g2_393" href="#b" y1="546.419" y2="7214.416"/>
<linearGradient id="g2_394" href="#b" y1="4002.552" y2="10914.817"/>
<linearGradient id="g2_395" href="#b" y1="546.419" y2="7458.684"/>
<linearGradient id="g2_396" href="#b" y1="4129.16" y2="11294.641"/>
<linearGradient id="g2_397" href="#b" y1="546.419" y2="7711.901"/>
<linearGradient id="g2_398" href="#b" y1="4260.406" y2="11688.38"/>
<linearGradient id="g2_399" href="#b" y1="546.419" y2="7974.393"/>
<linearGradient id="g2_400" href="#b" y1="4396.46" y2="12096.543"/>
<linearGradient id="g2_401" href="#b" y1="546.419" y2="8246.502"/>
<linearGradient id="g2_402" href="#b" y1="4537.499" y2="12519.658"/>
<linearGradient id="g2_403" href="#b" y1="546.419" y2="8528.578"/>
<linearGradient id="g2_404" href="#b" y1="4683.703" y2="12958.272"/>
<linearGradient id="g2_405" href="#b" y1="546.419" y2="8820.988"/>
<linearGradient id="g2_406" href="#b" y1="4835.264" y2="13412.955"/>
<linearGradient id="g2_407" href="#b" y1="546.419" y2="9124.11"/>
<linearGradient id="g2_408" href="#b" y1="4992.377" y2="13884.294"/>
<linearGradient id="g2_409" href="#b" y1="546.419" y2="9438.336"/>
<linearGradient id="g2_410" href="#b" y1="5155.246" y2="14372.899"/>
<linearGradient id="g2_411" href="#b" y1="546.419" y2="9764.073"/>
<linearGradient id="g2_412" href="#b" y1="5324.081" y2="14879.404"/>
<linearGradient id="g2_413" href="#b" y1="546.419" y2="10101.742"/>
<linearGradient id="g2_414" href="#b" y1="5499.1" y2="15404.463"/>
<linearGradient id="g2_415" href="#b" y1="546.419" y2="10451.782"/>
<linearGradient id="g2_416" href="#b" y1="5680.532" y2="15948.757"/>
<linearGradient id="g2_417" href="#b" y1="546.419" y2="10814.644"/>
<linearGradient id="g2_418" href="#b" y1="5868.609" y2="16512.989"/>
<linearGradient id="g2_419" href="#b" y1="546.419" y2="11190.799"/>
<linearGradient id="g2_420" href="#b" y1="6063.577" y2="17097.892"/>
<linearGradient id="g2_421" href="#b" y1="546.419" y2="11580.734"/>
<linearGradient id="g2_422" href="#b" y1="6265.686" y2="17704.22"/>
<linearGradient id="g2_423" href="#b" y1="546.419" y2="11984.953"/>
<linearGradient id="g2_424" href="#b" y1="6475.2" y2="18332.761"/>
<linearGradient id="g2_425" href="#b" y1="546.419" y2="12403.98"/>
<linearGradient id="g2_426" href="#b" y1="6692.388" y2="18984.327"/>
<linearGradient id="g2_427" href="#b" y1="546.419" y2="12838.358"/>
<linearGradient id="g2_428" href="#b" y1="6917.533" y2="19659.761"/>
<linearGradient id="g2_429" href="#b" y1="546.419" y2="13288.647"/>
<linearGradient id="g2_430" href="#b" y1="7150.926" y2="20359.939"/>
<linearGradient id="g2_431" href="#b" y1="546.419" y2="13755.432"/>
<linearGradient id="g2_432" href="#b" y1="7392.868" y2="21085.766"/>
<linearGradient id="g2_433" href="#b" y1="546.419" y2="14239.317"/>
<linearGradient id="g2_434" href="#b" y1="7643.674" y2="21838.183"/>
<linearGradient id="g2_435" href="#b" y1="546.419" y2="14740.928"/>
<linearGradient id="g2_436" href="#b" y1="7903.667" y2="22618.162"/>
<linearGradient id="g2_437" href="#b" y1="546.419" y2="15260.915"/>
<linearGradient id="g2_438" href="#b" y1="8173.184" y2="23426.715"/>
<linearGradient id="g2_439" href="#b" y1="546.419" y2="15799.95"/>
<linearGradient id="g2_440" href="#b" y1="8452.575" y2="24264.887"/>
<linearGradient id="g2_441" href="#b" y1="546.419" y2="16358.731"/>
<linearGradient id="g2_442" href="#b" y1="8742.201" y2="25133.764"/>
<linearGradient id="g2_443" href="#b" y1="546.419" y2="16937.982"/>
<linearGradient id="g2_444" href="#b" y1="9042.436" y2="26034.471"/>
<linearGradient id="g2_445" href="#b" y1="546.419" y2="17538.453"/>
<linearGradient id="g2_446" href="#b" y1="9353.67" y2="26968.173"/>
<linearGradient id="g2_447" href="#b" y1="546.419" y2="18160.921"/>
<linearGradient id="g2_448" href="#b" y1="9676.306" y2="27936.079"/>
<linearGradient id="g2_449" href="#b" y1="546.419" y2="18806.192"/>
<linearGradient id="g2_450" href="#b" y1="10010.76" y2="28939.442"/>
<linearGradient id="g2_451" href="#b" y1="546.419" y2="19475.101"/>
<linearGradient id="g2_452" href="#b" y1="10357.467" y2="29979.562"/>
<linearGradient id="g2_453" href="#b" y1="546.419" y2="20168.514"/>
<linearGradient id="g2_454" href="#b" y1="10716.874" y2="31057.784"/>
<linearGradient id="g2_455" href="#b" y1="546.419" y2="20887.329"/>
<linearGradient id="g2_456" href="#b" y1="11089.448" y2="32175.505"/>
<linearGradient id="g2_457" href="#b" y1="546.419" y2="21632.476"/>
<linearGradient id="g2_458" href="#b" y1="11475.67" y2="33334.171"/>
<linearGradient id="g2_459" href="#b" y1="546.419" y2="22404.92"/>
<linearGradient id="g2_460" href="#b" y1="11876.04" y2="34535.282"/>
<linearGradient id="g2_461" href="#b" y1="546.419" y2="23205.661"/>
<linearGradient id="g2_462" href="#b" y1="12291.077" y2="35780.394"/>
<linearGradient id="g2_463" href="#b" y1="546.419" y2="24035.736"/>
<linearGradient id="g2_464" href="#b" y1="12721.318" y2="37071.117"/>
<linearGradient id="g2_465" href="#b" y1="546.419" y2="24896.218"/>
<linearGradient id="g2_466" href="#b" y1="13167.321" y2="38409.124"/>
<linearGradient id="g2_467" href="#b" y1="546.419" y2="25788.222"/>
<linearGradient id="g2_468" href="#b" y1="13629.661" y2="39796.146"/>
<linearGradient id="g2_469" href="#b" y1="546.419" y2="26712.904"/>
<linearGradient id="g2_470" href="#b" y1="14108.939" y2="41233.978"/>
<linearGradient id="g2_471" href="#b" y1="546.419" y2="27671.459"/>
<linearGradient id="g2_472" href="#b" y1="14605.774" y2="42724.483"/>
<linearGradient id="g2_473" href="#b" y1="546.419" y2="28665.128"/>
<linearGradient id="g2_474" href="#b" y1="15120.809" y2="44269.589"/>
<linearGradient id="g2_475" href="#b" y1="546.419" y2="29695.199"/>
<linearGradient id="g2_476" href="#b" y1="15654.711" y2="45871.296"/>
<linearGradient id="g2_477" href="#b" y1="546.419" y2="30763.004"/>
<linearGradient id="g2_478" href="#b" y1="16208.172" y2="47531.679"/>
<linearGradient id="g2_479" href="#b" y1="546.419" y2="31869.926"/>
<linearGradient id="g2_480" href="#b" y1="16781.908" y2="49252.887"/>
<linearGradient id="g2_481" href="#b" y1="546.419" y2="33017.398"/>
<linearGradient id="g2_482" href="#b" y1="17376.662" y2="51037.148"/>
<linearGradient id="g2_483" href="#b" y1="546.419" y2="34206.905"/>
<linearGradient id="g2_484" href="#b" y1="17993.203" y2="52886.771"/>
<linearGradient id="g2_485" href="#b" y1="546.419" y2="35439.987"/>
<linearGradient id="g2_486" href="#b" y1="18632.33" y2="54804.151"/>
<linearGradient id="g2_487" href="#b" y1="546.419" y2="36718.241"/>
<linearGradient id="g2_488" href="#b" y1="19294.87" y2="56791.771"/>
<linearGradient id="g2_489" href="#b" y1="546.419" y2="38043.32"/>
<linearGradient id="g2_490" href="#b" y1="19981.68" y2="58852.203"/>
<linearGradient id="g2_491" href="#b" y1="546.419" y2="39416.942"/>
<linearGradient id="g2_492" href="#b" y1="20693.651" y2="60988.115"/>
<linearGradient id="g2_493" href="#b" y1="546.419" y2="40840.883"/>
<linearGradient id="g2_494" href="#b" y1="21431.703" y2="63202.271"/>
<linearGradient id="g2_495" href="#b" y1="546.419" y2="42316.987"/>
<linearGradient id="g2_496" href="#b" y1="22196.792" y2="65497.538"/>
<linearGradient id="g2_497" href="#b" y1="546.419" y2="43847.165"/>
<linearGradient id="g2_498" href="#b" y1="22989.909" y2="67876.888"/>
<linearGradient id="g2_499" href="#b" y1="546.419" y2="45433.398"/>
<linearGradient id="g2_500" href="#b" y1="23812.079" y2="70343.4"/>
<linearGradient id="g2_501" href="#b" y1="546.419" y2="47077.74"/>
<linearGradient id="g2_502" href="#b" y1="24664.369" y2="72900.268"/>
<linearGradient id="g2_503" href="#b" y1="546.419" y2="48782.318"/>
<linearGradient id="g2_504" href="#b" y1="25547.88" y2="75550.801"/>
<linearGradient id="g2_505" href="#b" y1="546.419" y2="50549.341"/>
<linearGradient id="g2_506" href="#b" y1="26463.756" y2="78298.431"/>
<linearGradient id="g2_507" href="#b" y1="546.419" y2="52381.094"/>
<linearGradient id="g2_508" href="#b" y1="27413.184" y2="81146.715"/>
<linearGradient id="g2_509" href="#b" y1="546.419" y2="54279.95"/>
<linearGradient id="g2_510" href="#b" y1="28397.393" y2="84099.34"/>
<linearGradient id="g2_511" href="#b" y1="546.419" y2="56248.367"/>
<g id="c20" shape-rendering="crispEdges"><rect x="99" y="541" width="5.82" height="195" fill="url(#g2_0)"/><rect x="104.82" y="541" width="3.93" height="195" fill="url(#g2_2)"/><rect x="108.75" y="541" width="3.27" height="195" fill="url(#g2_4)"/><rect x="112.02" y="541" width="3.93" height="195" fill="url(#g2_6)"/><rect x="115.95" y="541" width="3.93" height="195" fill="url(#g2_8)"/><rect x="119.88" y="541" width="3.27" height="195" fill="url(#g2_10)"/><rect x="123.15" y="541" width="3.93" height="195" fill="url(#g2_12)"/><rect x="127.08" y="541" width="3.27" height="195" fill="url(#g2_14)"/><rect x="130.35" y="541" width="3.93" height="195" fill="url(#g2_16)"/><rect x="134.28" y="541" width="3.93" height="195" fill="url(#g2_18)"/><rect x="138.21" y="541" width="3.27" height="195" fill="url(#g2_20)"/><rect x="141.48" y="541" width="3.93" height="195" fill="url(#g2_22)"/><rect x="145.41" y="541" width="3.27" height="195" fill="url(#g2_24)"/><rect x="148.69" y="541" width="3.93" height="195" fill="url(#g2_26)"/><rect x="152.61" y="541" width="3.93" height="195" fill="url(#g2_28)"/><rect x="156.54" y="541" width="3.27" height="195" fill="url(#g2_30)"/><rect x="159.82" y="541" width="3.93" height="195" fill="url(#g2_32)"/><rect x="163.75" y="541" width="3.27" height="195" fill="url(#g2_34)"/><rect x="167.02" y="541" width="3.93" height="195" fill="url(#g2_36)"/><rect x="170.95" y="541" width="3.93" height="195" fill="url(#g2_38)"/><rect x="174.88" y="541" width="3.27" height="195" fill="url(#g2_40)"/><rect x="178.15" y="541" width="3.93" height="195" fill="url(#g2_42)"/><rect x="182.08" y="541" width="3.27" height="195" fill="url(#g2_44)"/><rect x="185.35" y="541" width="3.93" height="195" fill="url(#g2_46)"/><rect x="189.28" y="541" width="3.93" height="195" fill="url(#g2_48)"/><rect x="193.21" y="541" width="3.27" height="195" fill="url(#g2_50)"/><rect x="196.48" y="541" width="3.93" height="195" fill="url(#g2_52)"/><rect x="200.41" y="541" width="3.27" height="195" fill="url(#g2_54)"/><rect x="203.68" y="541" width="3.93" height="195" fill="url(#g2_56)"/><rect x="207.61" y="541" width="3.93" height="195" fill="url(#g2_58)"/><rect x="211.54" y="541" width="3.27" height="195" fill="url(#g2_60)"/><rect x="214.81" y="541" width="3.93" height="195" fill="url(#g2_62)"/><rect x="218.74" y="541" width="3.27" height="195" fill="url(#g2_64)"/><rect x="222.02" y="541" width="3.93" height="195" fill="url(#g2_66)"/><rect x="225.95" y="541" width="3.93" height="195" fill="url(#g2_68)"/><rect x="229.87" y="541" width="3.27" height="195" fill="url(#g2_70)"/><rect x="233.15" y="541" width="3.93" height="195" fill="url(#g2_72)"/><rect x="237.08" y="541" width="3.27" height="195" fill="url(#g2_74)"/><rect x="240.35" y="541" width="3.93" height="195" fill="url(#g2_76)"/><rect x="244.28" y="541" width="3.93" height="195" fill="url(#g2_78)"/><rect x="248.21" y="541" width="3.27" height="195" fill="url(#g2_80)"/><rect x="251.48" y="541" width="3.93" height="195" fill="url(#g2_82)"/><rect x="255.41" y="541" width="3.27" height="195" fill="url(#g2_84)"/><rect x="258.68" y="541" width="3.93" height="195" fill="url(#g2_86)"/><rect x="262.61" y="541" width="3.93" height="195" fill="url(#g2_88)"/><rect x="266.54" y="541" width="3.27" height="195" fill="url(#g2_90)"/><rect x="269.81" y="541" width="3.93" height="195" fill="url(#g2_92)"/><rect x="273.74" y="541" width="3.27" height="195" fill="url(#g2_94)"/><rect x="277.01" y="541" width="3.93" height="195" fill="url(#g2_96)"/><rect x="280.94" y="541" width="3.93" height="195" fill="url(#g2_98)"/><rect x="284.87" y="541" width="3.93" height="195" fill="url(#g2_100)"/><rect x="288.8" y="541" width="3.27" height="195" fill="url(#g2_102)"/><rect x="292.07" y="541" width="3.93" height="195" fill="url(#g2_104)"/><rect x="296" y="541" width="3.27" height="195" fill="url(#g2_106)"/><rect x="299.28" y="541" width="3.93" height="195" fill="url(#g2_108)"/><rect x="303.2" y="541" width="3.93" height="195" fill="url(#g2_110)"/><rect x="307.13" y="541" width="3.27" height="195" fill="url(#g2_112)"/><rect x="310.41" y="541" width="3.93" height="195" fill="url(#g2_114)"/><rect x="314.33" y="541" width="3.27" height="195" fill="url(#g2_116)"/></g>
<g id="s20" shape-rendering="crispEdges"><rect x="317.61" y="541" width="3.93" height="195" fill="url(#g2_118)"/><rect x="321.54" y="541" width="3.93" height="195" fill="url(#g2_120)"/><rect x="325.46" y="541" width="3.27" height="195" fill="url(#g2_122)"/><rect x="328.74" y="541" width="3.93" height="195" fill="url(#g2_124)"/><rect x="332.67" y="541" width="3.27" height="195" fill="url(#g2_126)"/><rect x="335.94" y="541" width="3.93" height="195" fill="url(#g2_128)"/><rect x="339.87" y="541" width="3.93" height="195" fill="url(#g2_130)"/><rect x="343.8" y="541" width="3.27" height="195" fill="url(#g2_132)"/><rect x="347.07" y="541" width="3.93" height="195" fill="url(#g2_134)"/><rect x="351" y="541" width="3.27" height="195" fill="url(#g2_136)"/><rect x="354.27" y="541" width="3.93" height="195" fill="url(#g2_138)"/><rect x="358.2" y="541" width="3.93" height="195" fill="url(#g2_140)"/><rect x="362.13" y="541" width="3.27" height="195" fill="url(#g2_142)"/><rect x="365.4" y="541" width="3.93" height="195" fill="url(#g2_144)"/><rect x="369.33" y="541" width="3.27" height="195" fill="url(#g2_146)"/><rect x="372.61" y="541" width="3.93" height="195" fill="url(#g2_148)"/><rect x="376.53" y="541" width="3.93" height="195" fill="url(#g2_150)"/><rect x="380.46" y="541" width="3.27" height="195" fill="url(#g2_152)"/><rect x="383.74" y="541" width="3.93" height="195" fill="url(#g2_154)"/><rect x="387.66" y="541" width="3.27" height="195" fill="url(#g2_156)"/><rect x="390.94" y="541" width="3.93" height="195" fill="url(#g2_158)"/><rect x="394.87" y="541" width="3.93" height="195" fill="url(#g2_160)"/><rect x="398.8" y="541" width="3.27" height="195" fill="url(#g2_162)"/><rect x="402.07" y="541" width="3.93" height="195" fill="url(#g2_164)"/><rect x="406" y="541" width="3.27" height="195" fill="url(#g2_166)"/><rect x="409.27" y="541" width="3.93" height="195" fill="url(#g2_168)"/><rect x="413.2" y="541" width="3.93" height="195" fill="url(#g2_170)"/><rect x="417.13" y="541" width="3.27" height="195" fill="url(#g2_172)"/><rect x="420.4" y="541" width="3.93" height="195" fill="url(#g2_174)"/><rect x="424.33" y="541" width="3.27" height="195" fill="url(#g2_176)"/><rect x="427.6" y="541" width="3.93" height="195" fill="url(#g2_178)"/><rect x="431.53" y="541" width="3.93" height="195" fill="url(#g2_180)"/><rect x="435.46" y="541" width="3.27" height="195" fill="url(#g2_182)"/><rect x="438.73" y="541" width="3.93" height="195" fill="url(#g2_184)"/><rect x="442.66" y="541" width="3.27" height="195" fill="url(#g2_186)"/><rect x="445.94" y="541" width="3.93" height="195" fill="url(#g2_188)"/><rect x="449.86" y="541" width="3.93" height="195" fill="url(#g2_190)"/><rect x="453.79" y="541" width="3.27" height="195" fill="url(#g2_192)"/><rect x="457.07" y="541" width="3.93" height="195" fill="url(#g2_194)"/><rect x="461" y="541" width="3.27" height="195" fill="url(#g2_196)"/><rect x="464.27" y="541" width="3.93" height="195" fill="url(#g2_198)"/><rect x="468.2" y="541" width="3.93" height="195" fill="url(#g2_200)"/><rect x="472.13" y="541" width="3.27" height="195" fill="url(#g2_202)"/><rect x="475.4" y="541" width="3.93" height="195" fill="url(#g2_204)"/><rect x="479.33" y="541" width="3.27" height="195" fill="url(#g2_206)"/><rect x="482.6" y="541" width="3.93" height="195" fill="url(#g2_208)"/><rect x="486.53" y="541" width="3.93" height="195" fill="url(#g2_210)"/><rect x="490.46" y="541" width="3.27" height="195" fill="url(#g2_212)"/><rect x="493.73" y="541" width="3.93" height="195" fill="url(#g2_214)"/><rect x="497.66" y="541" width="3.27" height="195" fill="url(#g2_216)"/><rect x="500.93" y="541" width="3.93" height="195" fill="url(#g2_218)"/><rect x="504.86" y="541" width="3.93" height="195" fill="url(#g2_220)"/><rect x="508.79" y="541" width="3.27" height="195" fill="url(#g2_222)"/><rect x="512.06" y="541" width="3.93" height="195" fill="url(#g2_224)"/><rect x="515.99" y="541" width="3.27" height="195" fill="url(#g2_226)"/><rect x="519.27" y="541" width="3.93" height="195" fill="url(#g2_228)"/><rect x="523.2" y="541" width="3.93" height="195" fill="url(#g2_230)"/><rect x="527.12" y="541" width="3.27" height="195" fill="url(#g2_232)"/><rect x="530.4" y="541" width="3.93" height="195" fill="url(#g2_234)"/><rect x="534.33" y="541" width="3.27" height="195" fill="url(#g2_236)"/><rect x="537.6" y="541" width="3.93" height="195" fill="url(#g2_238)"/><rect x="541.53" y="541" width="3.93" height="195" fill="url(#g2_240)"/><rect x="545.46" y="541" width="3.27" height="195" fill="url(#g2_242)"/><rect x="548.73" y="541" width="3.93" height="195" fill="url(#g2_244)"/><rect x="552.66" y="541" width="3.27" height="195" fill="url(#g2_246)"/><rect x="555.93" y="541" width="3.93" height="195" fill="url(#g2_248)"/><rect x="559.86" y="541" width="3.93" height="195" fill="url(#g2_250)"/><rect x="563.79" y="541" width="3.27" height="195" fill="url(#g2_252)"/><rect x="567.06" y="541" width="3.93" height="195" fill="url(#g2_254)"/><rect x="570.99" y="541" width="3.27" height="195" fill="url(#g2_256)"/><rect x="574.26" y="541" width="3.93" height="195" fill="url(#g2_258)"/><rect x="578.19" y="541" width="3.93" height="195" fill="url(#g2_260)"/><rect x="582.12" y="541" width="3.27" height="195" fill="url(#g2_262)"/><rect x="585.4" y="541" width="3.93" height="195" fill="url(#g2_264)"/><rect x="589.32" y="541" width="3.27" height="195" fill="url(#g2_266)"/><rect x="592.6" y="541" width="3.93" height="195" fill="url(#g2_268)"/><rect x="596.53" y="541" width="3.93" height="195" fill="url(#g2_270)"/><rect x="600.45" y="541" width="3.27" height="195" fill="url(#g2_272)"/><rect x="603.73" y="541" width="3.93" height="195" fill="url(#g2_274)"/><rect x="607.66" y="541" width="3.27" height="195" fill="url(#g2_276)"/><rect x="610.93" y="541" width="3.93" height="195" fill="url(#g2_278)"/><rect x="614.86" y="541" width="3.93" height="195" fill="url(#g2_280)"/><rect x="618.79" y="541" width="3.27" height="195" fill="url(#g2_282)"/><rect x="622.06" y="541" width="3.93" height="195" fill="url(#g2_284)"/><rect x="625.99" y="541" width="3.27" height="195" fill="url(#g2_286)"/><rect x="629.26" y="541" width="3.93" height="195" fill="url(#g2_288)"/><rect x="633.19" y="541" width="3.93" height="195" fill="url(#g2_290)"/><rect x="637.12" y="541" width="3.27" height="195" fill="url(#g2_292)"/><rect x="640.39" y="541" width="3.93" height="195" fill="url(#g2_294)"/><rect x="644.32" y="541" width="3.27" height="195" fill="url(#g2_296)"/><rect x="647.6" y="541" width="3.93" height="195" fill="url(#g2_298)"/><rect x="651.52" y="541" width="3.93" height="195" fill="url(#g2_300)"/><rect x="655.45" y="541" width="3.93" height="195" fill="url(#g2_302)"/><rect x="659.38" y="541" width="3.27" height="195" fill="url(#g2_304)"/><rect x="662.65" y="541" width="3.93" height="195" fill="url(#g2_306)"/><rect x="666.58" y="541" width="3.27" height="195" fill="url(#g2_308)"/><rect x="669.86" y="541" width="3.93" height="195" fill="url(#g2_310)"/><rect x="673.78" y="541" width="3.93" height="195" fill="url(#g2_312)"/><rect x="677.71" y="541" width="3.27" height="195" fill="url(#g2_314)"/><rect x="680.99" y="541" width="3.93" height="195" fill="url(#g2_316)"/><rect x="684.92" y="541" width="3.27" height="195" fill="url(#g2_318)"/><rect x="688.19" y="541" width="3.93" height="195" fill="url(#g2_320)"/><rect x="692.12" y="541" width="3.93" height="195" fill="url(#g2_322)"/><rect x="696.05" y="541" width="3.27" height="195" fill="url(#g2_324)"/><rect x="699.32" y="541" width="3.93" height="195" fill="url(#g2_326)"/><rect x="703.25" y="541" width="3.27" height="195" fill="url(#g2_328)"/><rect x="706.52" y="541" width="3.93" height="195" fill="url(#g2_330)"/><rect x="710.45" y="541" width="3.93" height="195" fill="url(#g2_332)"/><rect x="714.38" y="541" width="3.27" height="195" fill="url(#g2_334)"/><rect x="717.65" y="541" width="3.93" height="195" fill="url(#g2_336)"/><rect x="721.58" y="541" width="3.27" height="195" fill="url(#g2_338)"/><rect x="724.85" y="541" width="3.93" height="195" fill="url(#g2_340)"/><rect x="728.78" y="541" width="3.93" height="195" fill="url(#g2_342)"/><rect x="732.71" y="541" width="3.27" height="195" fill="url(#g2_344)"/><rect x="735.98" y="541" width="3.93" height="195" fill="url(#g2_346)"/><rect x="739.91" y="541" width="3.27" height="195" fill="url(#g2_348)"/><rect x="743.19" y="541" width="3.93" height="195" fill="url(#g2_350)"/><rect x="747.11" y="541" width="3.93" height="195" fill="url(#g2_352)"/><rect x="751.04" y="541" width="3.27" height="195" fill="url(#g2_354)"/><rect x="754.32" y="541" width="3.93" height="195" fill="url(#g2_356)"/><rect x="758.25" y="541" width="3.27" height="195" fill="url(#g2_358)"/><rect x="761.52" y="541" width="3.93" height="195" fill="url(#g2_360)"/><rect x="765.45" y="541" width="3.93" height="195" fill="url(#g2_362)"/><rect x="769.38" y="541" width="3.27" height="195" fill="url(#g2_364)"/><rect x="772.65" y="541" width="3.93" height="195" fill="url(#g2_366)"/><rect x="776.58" y="541" width="3.27" height="195" fill="url(#g2_368)"/><rect x="779.85" y="541" width="3.93" height="195" fill="url(#g2_370)"/><rect x="783.78" y="541" width="3.93" height="195" fill="url(#g2_372)"/><rect x="787.71" y="541" width="3.27" height="195" fill="url(#g2_374)"/><rect x="790.98" y="541" width="3.93" height="195" fill="url(#g2_376)"/><rect x="794.91" y="541" width="3.27" height="195" fill="url(#g2_378)"/><rect x="798.18" y="541" width="3.93" height="195" fill="url(#g2_380)"/><rect x="802.11" y="541" width="3.93" height="195" fill="url(#g2_382)"/><rect x="806.04" y="541" width="3.27" height="195" fill="url(#g2_384)"/><rect x="809.31" y="541" width="3.93" height="195" fill="url(#g2_386)"/><rect x="813.24" y="541" width="3.27" height="195" fill="url(#g2_388)"/><rect x="816.52" y="541" width="3.93" height="195" fill="url(#g2_390)"/><rect x="820.45" y="541" width="3.93" height="195" fill="url(#g2_392)"/><rect x="824.37" y="541" width="3.27" height="195" fill="url(#g2_394)"/><rect x="827.65" y="541" width="3.93" height="195" fill="url(#g2_396)"/><rect x="831.58" y="541" width="3.27" height="195" fill="url(#g2_398)"/><rect x="834.85" y="541" width="3.93" height="195" fill="url(#g2_400)"/><rect x="838.78" y="541" width="3.93" height="195" fill="url(#g2_402)"/><rect x="842.71" y="541" width="3.27" height="195" fill="url(#g2_404)"/><rect x="845.98" y="541" width="3.93" height="195" fill="url(#g2_406)"/><rect x="849.91" y="541" width="3.27" height="195" fill="url(#g2_408)"/><rect x="853.18" y="541" width="3.93" height="195" fill="url(#g2_410)"/><rect x="857.11" y="541" width="3.93" height="195" fill="url(#g2_412)"/><rect x="861.04" y="541" width="3.27" height="195" fill="url(#g2_414)"/><rect x="864.31" y="541" width="3.93" height="195" fill="url(#g2_416)"/><rect x="868.24" y="541" width="3.27" height="195" fill="url(#g2_418)"/><rect x="871.51" y="541" width="3.93" height="195" fill="url(#g2_420)"/><rect x="875.44" y="541" width="3.93" height="195" fill="url(#g2_422)"/><rect x="879.37" y="541" width="3.27" height="195" fill="url(#g2_424)"/><rect x="882.65" y="541" width="3.93" height="195" fill="url(#g2_426)"/><rect x="886.57" y="541" width="3.27" height="195" fill="url(#g2_428)"/><rect x="889.85" y="541" width="3.93" height="195" fill="url(#g2_430)"/><rect x="893.78" y="541" width="3.93" height="195" fill="url(#g2_432)"/><rect x="897.7" y="541" width="3.27" height="195" fill="url(#g2_434)"/><rect x="900.98" y="541" width="3.93" height="195" fill="url(#g2_436)"/><rect x="904.91" y="541" width="3.27" height="195" fill="url(#g2_438)"/><rect x="908.18" y="541" width="3.93" height="195" fill="url(#g2_440)"/><rect x="912.11" y="541" width="3.93" height="195" fill="url(#g2_442)"/><rect x="916.04" y="541" width="3.27" height="195" fill="url(#g2_444)"/><rect x="919.31" y="541" width="3.93" height="195" fill="url(#g2_446)"/><rect x="923.24" y="541" width="3.27" height="195" fill="url(#g2_448)"/><rect x="926.51" y="541" width="3.93" height="195" fill="url(#g2_450)"/><rect x="930.44" y="541" width="3.93" height="195" fill="url(#g2_452)"/><rect x="934.37" y="541" width="3.27" height="195" fill="url(#g2_454)"/><rect x="937.64" y="541" width="3.93" height="195" fill="url(#g2_456)"/><rect x="941.57" y="541" width="3.27" height="195" fill="url(#g2_458)"/><rect x="944.85" y="541" width="3.93" height="195" fill="url(#g2_460)"/><rect x="948.77" y="541" width="3.93" height="195" fill="url(#g2_462)"/><rect x="952.7" y="541" width="3.27" height="195" fill="url(#g2_464)"/><rect x="955.98" y="541" width="3.93" height="195" fill="url(#g2_466)"/><rect x="959.9" y="541" width="3.27" height="195" fill="url(#g2_468)"/><rect x="963.18" y="541" width="3.93" height="195" fill="url(#g2_470)"/><rect x="967.11" y="541" width="3.93" height="195" fill="url(#g2_472)"/><rect x="971.03" y="541" width="3.27" height="195" fill="url(#g2_474)"/><rect x="974.31" y="541" width="3.93" height="195" fill="url(#g2_476)"/><rect x="978.24" y="541" width="3.27" height="195" fill="url(#g2_478)"/><rect x="981.51" y="541" width="3.93" height="195" fill="url(#g2_480)"/><rect x="985.44" y="541" width="3.93" height="195" fill="url(#g2_482)"/><rect x="989.37" y="541" width="3.27" height="195" fill="url(#g2_484)"/><rect x="992.64" y="541" width="3.93" height="195" fill="url(#g2_486)"/><rect x="996.57" y="541" width="3.27" height="195" fill="url(#g2_488)"/><rect x="999.84" y="541" width="3.93" height="195" fill="url(#g2_490)"/><rect x="1003.77" y="541" width="3.93" height="195" fill="url(#g2_492)"/><rect x="1007.7" y="541" width="3.27" height="195" fill="url(#g2_494)"/><rect x="1010.97" y="541" width="3.93" height="195" fill="url(#g2_496)"/><rect x="1014.9" y="541" width="3.27" height="195" fill="url(#g2_498)"/><rect x="1018.18" y="541" width="3.93" height="195" fill="url(#g2_500)"/><rect x="1022.1" y="541" width="3.93" height="195" fill="url(#g2_502)"/><rect x="1026.03" y="541" width="3.93" height="195" fill="url(#g2_504)"/><rect x="1029.96" y="541" width="3.27" height="195" fill="url(#g2_506)"/><rect x="1033.23" y="541" width="3.93" height="195" fill="url(#g2_508)"/><rect x="1037.16" y="541" width="5.84" height="195" fill="url(#g2_510)"/></g>
<g id="c21" shape-rendering="crispEdges"><rect x="99" y="541" width="7.78" height="195" fill="url(#g2_1)"/><rect x="106.78" y="541" width="3.93" height="195" fill="url(#g2_3)"/><rect x="110.71" y="541" width="3.27" height="195" fill="url(#g2_5)"/><rect x="113.99" y="541" width="3.93" height="195" fill="url(#g2_7)"/><rect x="117.91" y="541" width="3.27" height="195" fill="url(#g2_9)"/><rect x="121.19" y="541" width="3.93" height="195" fill="url(#g2_11)"/><rect x="125.12" y="541" width="3.93" height="195" fill="url(#g2_13)"/><rect x="129.04" y="541" width="3.27" height="195" fill="url(#g2_15)"/><rect x="132.32" y="541" width="3.93" height="195" fill="url(#g2_17)"/><rect x="136.25" y="541" width="3.27" height="195" fill="url(#g2_19)"/><rect x="139.52" y="541" width="3.93" height="195" fill="url(#g2_21)"/><rect x="143.45" y="541" width="3.93" height="195" fill="url(#g2_23)"/><rect x="147.38" y="541" width="3.27" height="195" fill="url(#g2_25)"/><rect x="150.65" y="541" width="3.93" height="195" fill="url(#g2_27)"/><rect x="154.58" y="541" width="3.27" height="195" fill="url(#g2_29)"/><rect x="157.85" y="541" width="3.93" height="195" fill="url(#g2_31)"/><rect x="161.78" y="541" width="3.93" height="195" fill="url(#g2_33)"/><rect x="165.71" y="541" width="3.27" height="195" fill="url(#g2_35)"/><rect x="168.98" y="541" width="3.93" height="195" fill="url(#g2_37)"/><rect x="172.91" y="541" width="3.27" height="195" fill="url(#g2_39)"/><rect x="176.19" y="541" width="3.93" height="195" fill="url(#g2_41)"/><rect x="180.11" y="541" width="3.93" height="195" fill="url(#g2_43)"/><rect x="184.04" y="541" width="3.27" height="195" fill="url(#g2_45)"/><rect x="187.32" y="541" width="3.93" height="195" fill="url(#g2_47)"/><rect x="191.24" y="541" width="3.27" height="195" fill="url(#g2_49)"/><rect x="194.52" y="541" width="3.93" height="195" fill="url(#g2_51)"/><rect x="198.45" y="541" width="3.93" height="195" fill="url(#g2_53)"/><rect x="202.37" y="541" width="3.27" height="195" fill="url(#g2_55)"/><rect x="205.65" y="541" width="3.93" height="195" fill="url(#g2_57)"/><rect x="209.58" y="541" width="3.27" height="195" fill="url(#g2_59)"/><rect x="212.85" y="541" width="3.93" height="195" fill="url(#g2_61)"/><rect x="216.78" y="541" width="3.93" height="195" fill="url(#g2_63)"/><rect x="220.71" y="541" width="3.27" height="195" fill="url(#g2_65)"/><rect x="223.98" y="541" width="3.93" height="195" fill="url(#g2_67)"/><rect x="227.91" y="541" width="3.27" height="195" fill="url(#g2_69)"/><rect x="231.18" y="541" width="3.93" height="195" fill="url(#g2_71)"/><rect x="235.11" y="541" width="3.93" height="195" fill="url(#g2_73)"/><rect x="239.04" y="541" width="3.27" height="195" fill="url(#g2_75)"/><rect x="242.31" y="541" width="3.93" height="195" fill="url(#g2_77)"/><rect x="246.24" y="541" width="3.27" height="195" fill="url(#g2_79)"/><rect x="249.52" y="541" width="3.93" height="195" fill="url(#g2_81)"/><rect x="253.44" y="541" width="3.93" height="195" fill="url(#g2_83)"/><rect x="257.37" y="541" width="3.27" height="195" fill="url(#g2_85)"/><rect x="260.65" y="541" width="3.93" height="195" fill="url(#g2_87)"/><rect x="264.57" y="541" width="3.27" height="195" fill="url(#g2_89)"/><rect x="267.85" y="541" width="3.93" height="195" fill="url(#g2_91)"/><rect x="271.78" y="541" width="3.93" height="195" fill="url(#g2_93)"/><rect x="275.71" y="541" width="3.27" height="195" fill="url(#g2_95)"/><rect x="278.98" y="541" width="3.93" height="195" fill="url(#g2_97)"/><rect x="282.91" y="541" width="3.93" height="195" fill="url(#g2_99)"/><rect x="286.84" y="541" width="3.27" height="195" fill="url(#g2_101)"/><rect x="290.11" y="541" width="3.93" height="195" fill="url(#g2_103)"/><rect x="294.04" y="541" width="3.93" height="195" fill="url(#g2_105)"/><rect x="297.97" y="541" width="3.27" height="195" fill="url(#g2_107)"/><rect x="301.24" y="541" width="3.93" height="195" fill="url(#g2_109)"/><rect x="305.17" y="541" width="3.27" height="195" fill="url(#g2_111)"/><rect x="308.44" y="541" width="3.93" height="195" fill="url(#g2_113)"/><rect x="312.37" y="541" width="3.93" height="195" fill="url(#g2_115)"/><rect x="316.3" y="541" width="3.27" height="195" fill="url(#g2_117)"/></g>
<g id="s21" shape-rendering="crispEdges"><rect x="319.57" y="541" width="3.93" height="195" fill="url(#g2_119)"/><rect x="323.5" y="541" width="3.27" height="195" fill="url(#g2_121)"/><rect x="326.77" y="541" width="3.93" height="195" fill="url(#g2_123)"/><rect x="330.7" y="541" width="3.93" height="195" fill="url(#g2_125)"/><rect x="334.63" y="541" width="3.27" height="195" fill="url(#g2_127)"/><rect x="337.9" y="541" width="3.93" height="195" fill="url(#g2_129)"/><rect x="341.83" y="541" width="3.27" height="195" fill="url(#g2_131)"/><rect x="345.11" y="541" width="3.93" height="195" fill="url(#g2_133)"/><rect x="349.04" y="541" width="3.93" height="195" fill="url(#g2_135)"/><rect x="352.96" y="541" width="3.27" height="195" fill="url(#g2_137)"/><rect x="356.24" y="541" width="3.93" height="195" fill="url(#g2_139)"/><rect x="360.17" y="541" width="3.27" height="195" fill="url(#g2_141)"/><rect x="363.44" y="541" width="3.93" height="195" fill="url(#g2_143)"/><rect x="367.37" y="541" width="3.93" height="195" fill="url(#g2_145)"/><rect x="371.3" y="541" width="3.27" height="195" fill="url(#g2_147)"/><rect x="374.57" y="541" width="3.93" height="195" fill="url(#g2_149)"/><rect x="378.5" y="541" width="3.27" height="195" fill="url(#g2_151)"/><rect x="381.77" y="541" width="3.93" height="195" fill="url(#g2_153)"/><rect x="385.7" y="541" width="3.93" height="195" fill="url(#g2_155)"/><rect x="389.63" y="541" width="3.27" height="195" fill="url(#g2_157)"/><rect x="392.9" y="541" width="3.93" height="195" fill="url(#g2_159)"/><rect x="396.83" y="541" width="3.27" height="195" fill="url(#g2_161)"/><rect x="400.1" y="541" width="3.93" height="195" fill="url(#g2_163)"/><rect x="404.03" y="541" width="3.93" height="195" fill="url(#g2_165)"/><rect x="407.96" y="541" width="3.27" height="195" fill="url(#g2_167)"/><rect x="411.24" y="541" width="3.93" height="195" fill="url(#g2_169)"/><rect x="415.16" y="541" width="3.27" height="195" fill="url(#g2_171)"/><rect x="418.44" y="541" width="3.93" height="195" fill="url(#g2_173)"/><rect x="422.37" y="541" width="3.93" height="195" fill="url(#g2_175)"/><rect x="426.29" y="541" width="3.27" height="195" fill="url(#g2_177)"/><rect x="429.57" y="541" width="3.93" height="195" fill="url(#g2_179)"/><rect x="433.5" y="541" width="3.27" height="195" fill="url(#g2_181)"/><rect x="436.77" y="541" width="3.93" height="195" fill="url(#g2_183)"/><rect x="440.7" y="541" width="3.93" height="195" fill="url(#g2_185)"/><rect x="444.63" y="541" width="3.27" height="195" fill="url(#g2_187)"/><rect x="447.9" y="541" width="3.93" height="195" fill="url(#g2_189)"/><rect x="451.83" y="541" width="3.27" height="195" fill="url(#g2_191)"/><rect x="455.1" y="541" width="3.93" height="195" fill="url(#g2_193)"/><rect x="459.03" y="541" width="3.93" height="195" fill="url(#g2_195)"/><rect x="462.96" y="541" width="3.27" height="195" fill="url(#g2_197)"/><rect x="466.23" y="541" width="3.93" height="195" fill="url(#g2_199)"/><rect x="470.16" y="541" width="3.27" height="195" fill="url(#g2_201)"/><rect x="473.44" y="541" width="3.93" height="195" fill="url(#g2_203)"/><rect x="477.36" y="541" width="3.93" height="195" fill="url(#g2_205)"/><rect x="481.29" y="541" width="3.27" height="195" fill="url(#g2_207)"/><rect x="484.57" y="541" width="3.93" height="195" fill="url(#g2_209)"/><rect x="488.49" y="541" width="3.27" height="195" fill="url(#g2_211)"/><rect x="491.77" y="541" width="3.93" height="195" fill="url(#g2_213)"/><rect x="495.7" y="541" width="3.93" height="195" fill="url(#g2_215)"/><rect x="499.62" y="541" width="3.27" height="195" fill="url(#g2_217)"/><rect x="502.9" y="541" width="3.93" height="195" fill="url(#g2_219)"/><rect x="506.83" y="541" width="3.27" height="195" fill="url(#g2_221)"/><rect x="510.1" y="541" width="3.93" height="195" fill="url(#g2_223)"/><rect x="514.03" y="541" width="3.93" height="195" fill="url(#g2_225)"/><rect x="517.96" y="541" width="3.27" height="195" fill="url(#g2_227)"/><rect x="521.23" y="541" width="3.93" height="195" fill="url(#g2_229)"/><rect x="525.16" y="541" width="3.27" height="195" fill="url(#g2_231)"/><rect x="528.43" y="541" width="3.93" height="195" fill="url(#g2_233)"/><rect x="532.36" y="541" width="3.93" height="195" fill="url(#g2_235)"/><rect x="536.29" y="541" width="3.27" height="195" fill="url(#g2_237)"/><rect x="539.56" y="541" width="3.93" height="195" fill="url(#g2_239)"/><rect x="543.49" y="541" width="3.27" height="195" fill="url(#g2_241)"/><rect x="546.77" y="541" width="3.93" height="195" fill="url(#g2_243)"/><rect x="550.69" y="541" width="3.93" height="195" fill="url(#g2_245)"/><rect x="554.62" y="541" width="3.27" height="195" fill="url(#g2_247)"/><rect x="557.9" y="541" width="3.93" height="195" fill="url(#g2_249)"/><rect x="561.82" y="541" width="3.27" height="195" fill="url(#g2_251)"/><rect x="565.1" y="541" width="3.93" height="195" fill="url(#g2_253)"/><rect x="569.03" y="541" width="3.93" height="195" fill="url(#g2_255)"/><rect x="572.96" y="541" width="3.27" height="195" fill="url(#g2_257)"/><rect x="576.23" y="541" width="3.93" height="195" fill="url(#g2_259)"/><rect x="580.16" y="541" width="3.27" height="195" fill="url(#g2_261)"/><rect x="583.43" y="541" width="3.93" height="195" fill="url(#g2_263)"/><rect x="587.36" y="541" width="3.93" height="195" fill="url(#g2_265)"/><rect x="591.29" y="541" width="3.27" height="195" fill="url(#g2_267)"/><rect x="594.56" y="541" width="3.93" height="195" fill="url(#g2_269)"/><rect x="598.49" y="541" width="3.27" height="195" fill="url(#g2_271)"/><rect x="601.76" y="541" width="3.93" height="195" fill="url(#g2_273)"/><rect x="605.69" y="541" width="3.93" height="195" fill="url(#g2_275)"/><rect x="609.62" y="541" width="3.27" height="195" fill="url(#g2_277)"/><rect x="612.89" y="541" width="3.93" height="195" fill="url(#g2_279)"/><rect x="616.82" y="541" width="3.27" height="195" fill="url(#g2_281)"/><rect x="620.1" y="541" width="3.93" height="195" fill="url(#g2_283)"/><rect x="624.02" y="541" width="3.93" height="195" fill="url(#g2_285)"/><rect x="627.95" y="541" width="3.27" height="195" fill="url(#g2_287)"/><rect x="631.23" y="541" width="3.93" height="195" fill="url(#g2_289)"/><rect x="635.16" y="541" width="3.27" height="195" fill="url(#g2_291)"/><rect x="638.43" y="541" width="3.93" height="195" fill="url(#g2_293)"/><rect x="642.36" y="541" width="3.93" height="195" fill="url(#g2_295)"/><rect x="646.29" y="541" width="3.27" height="195" fill="url(#g2_297)"/><rect x="649.56" y="541" width="3.93" height="195" fill="url(#g2_299)"/><rect x="653.49" y="541" width="3.93" height="195" fill="url(#g2_301)"/><rect x="657.42" y="541" width="3.27" height="195" fill="url(#g2_303)"/><rect x="660.69" y="541" width="3.93" height="195" fill="url(#g2_305)"/><rect x="664.62" y="541" width="3.93" height="195" fill="url(#g2_307)"/><rect x="668.55" y="541" width="3.27" height="195" fill="url(#g2_309)"/><rect x="671.82" y="541" width="3.93" height="195" fill="url(#g2_311)"/><rect x="675.75" y="541" width="3.27" height="195" fill="url(#g2_313)"/><rect x="679.02" y="541" width="3.93" height="195" fill="url(#g2_315)"/><rect x="682.95" y="541" width="3.93" height="195" fill="url(#g2_317)"/><rect x="686.88" y="541" width="3.27" height="195" fill="url(#g2_319)"/><rect x="690.15" y="541" width="3.93" height="195" fill="url(#g2_321)"/><rect x="694.08" y="541" width="3.27" height="195" fill="url(#g2_323)"/><rect x="697.36" y="541" width="3.93" height="195" fill="url(#g2_325)"/><rect x="701.28" y="541" width="3.93" height="195" fill="url(#g2_327)"/><rect x="705.21" y="541" width="3.27" height="195" fill="url(#g2_329)"/><rect x="708.49" y="541" width="3.93" height="195" fill="url(#g2_331)"/><rect x="712.41" y="541" width="3.27" height="195" fill="url(#g2_333)"/><rect x="715.69" y="541" width="3.93" height="195" fill="url(#g2_335)"/><rect x="719.62" y="541" width="3.93" height="195" fill="url(#g2_337)"/><rect x="723.54" y="541" width="3.27" height="195" fill="url(#g2_339)"/><rect x="726.82" y="541" width="3.93" height="195" fill="url(#g2_341)"/><rect x="730.75" y="541" width="3.27" height="195" fill="url(#g2_343)"/><rect x="734.02" y="541" width="3.93" height="195" fill="url(#g2_345)"/><rect x="737.95" y="541" width="3.93" height="195" fill="url(#g2_347)"/><rect x="741.88" y="541" width="3.27" height="195" fill="url(#g2_349)"/><rect x="745.15" y="541" width="3.93" height="195" fill="url(#g2_351)"/><rect x="749.08" y="541" width="3.27" height="195" fill="url(#g2_353)"/><rect x="752.35" y="541" width="3.93" height="195" fill="url(#g2_355)"/><rect x="756.28" y="541" width="3.93" height="195" fill="url(#g2_357)"/><rect x="760.21" y="541" width="3.27" height="195" fill="url(#g2_359)"/><rect x="763.48" y="541" width="3.93" height="195" fill="url(#g2_361)"/><rect x="767.41" y="541" width="3.27" height="195" fill="url(#g2_363)"/><rect x="770.69" y="541" width="3.93" height="195" fill="url(#g2_365)"/><rect x="774.61" y="541" width="3.93" height="195" fill="url(#g2_367)"/><rect x="778.54" y="541" width="3.27" height="195" fill="url(#g2_369)"/><rect x="781.82" y="541" width="3.93" height="195" fill="url(#g2_371)"/><rect x="785.74" y="541" width="3.27" height="195" fill="url(#g2_373)"/><rect x="789.02" y="541" width="3.93" height="195" fill="url(#g2_375)"/><rect x="792.95" y="541" width="3.93" height="195" fill="url(#g2_377)"/><rect x="796.87" y="541" width="3.27" height="195" fill="url(#g2_379)"/><rect x="800.15" y="541" width="3.93" height="195" fill="url(#g2_381)"/><rect x="804.08" y="541" width="3.27" height="195" fill="url(#g2_383)"/><rect x="807.35" y="541" width="3.93" height="195" fill="url(#g2_385)"/><rect x="811.28" y="541" width="3.93" height="195" fill="url(#g2_387)"/><rect x="815.21" y="541" width="3.27" height="195" fill="url(#g2_389)"/><rect x="818.48" y="541" width="3.93" height="195" fill="url(#g2_391)"/><rect x="822.41" y="541" width="3.27" height="195" fill="url(#g2_393)"/><rect x="825.68" y="541" width="3.93" height="195" fill="url(#g2_395)"/><rect x="829.61" y="541" width="3.93" height="195" fill="url(#g2_397)"/><rect x="833.54" y="541" width="3.27" height="195" fill="url(#g2_399)"/><rect x="836.81" y="541" width="3.93" height="195" fill="url(#g2_401)"/><rect x="840.74" y="541" width="3.27" height="195" fill="url(#g2_403)"/><rect x="844.02" y="541" width="3.93" height="195" fill="url(#g2_405)"/><rect x="847.94" y="541" width="3.93" height="195" fill="url(#g2_407)"/><rect x="851.87" y="541" width="3.27" height="195" fill="url(#g2_409)"/><rect x="855.15" y="541" width="3.93" height="195" fill="url(#g2_411)"/><rect x="859.07" y="541" width="3.27" height="195" fill="url(#g2_413)"/><rect x="862.35" y="541" width="3.93" height="195" fill="url(#g2_415)"/><rect x="866.28" y="541" width="3.93" height="195" fill="url(#g2_417)"/><rect x="870.21" y="541" width="3.27" height="195" fill="url(#g2_419)"/><rect x="873.48" y="541" width="3.93" height="195" fill="url(#g2_421)"/><rect x="877.41" y="541" width="3.27" height="195" fill="url(#g2_423)"/><rect x="880.68" y="541" width="3.93" height="195" fill="url(#g2_425)"/><rect x="884.61" y="541" width="3.93" height="195" fill="url(#g2_427)"/><rect x="888.54" y="541" width="3.27" height="195" fill="url(#g2_429)"/><rect x="891.81" y="541" width="3.93" height="195" fill="url(#g2_431)"/><rect x="895.74" y="541" width="3.27" height="195" fill="url(#g2_433)"/><rect x="899.01" y="541" width="3.93" height="195" fill="url(#g2_435)"/><rect x="902.94" y="541" width="3.93" height="195" fill="url(#g2_437)"/><rect x="906.87" y="541" width="3.27" height="195" fill="url(#g2_439)"/><rect x="910.14" y="541" width="3.93" height="195" fill="url(#g2_441)"/><rect x="914.07" y="541" width="3.27" height="195" fill="url(#g2_443)"/><rect x="917.35" y="541" width="3.93" height="195" fill="url(#g2_445)"/><rect x="921.27" y="541" width="3.93" height="195" fill="url(#g2_447)"/><rect x="925.2" y="541" width="3.27" height="195" fill="url(#g2_449)"/><rect x="928.48" y="541" width="3.93" height="195" fill="url(#g2_451)"/><rect x="932.41" y="541" width="3.27" height="195" fill="url(#g2_453)"/><rect x="935.68" y="541" width="3.93" height="195" fill="url(#g2_455)"/><rect x="939.61" y="541" width="3.93" height="195" fill="url(#g2_457)"/><rect x="943.54" y="541" width="3.27" height="195" fill="url(#g2_459)"/><rect x="946.81" y="541" width="3.93" height="195" fill="url(#g2_461)"/><rect x="950.74" y="541" width="3.27" height="195" fill="url(#g2_463)"/><rect x="954.01" y="541" width="3.93" height="195" fill="url(#g2_465)"/><rect x="957.94" y="541" width="3.93" height="195" fill="url(#g2_467)"/><rect x="961.87" y="541" width="3.27" height="195" fill="url(#g2_469)"/><rect x="965.14" y="541" width="3.93" height="195" fill="url(#g2_471)"/><rect x="969.07" y="541" width="3.27" height="195" fill="url(#g2_473)"/><rect x="972.34" y="541" width="3.93" height="195" fill="url(#g2_475)"/><rect x="976.27" y="541" width="3.93" height="195" fill="url(#g2_477)"/><rect x="980.2" y="541" width="3.27" height="195" fill="url(#g2_479)"/><rect x="983.47" y="541" width="3.93" height="195" fill="url(#g2_481)"/><rect x="987.4" y="541" width="3.27" height="195" fill="url(#g2_483)"/><rect x="990.68" y="541" width="3.93" height="195" fill="url(#g2_485)"/><rect x="994.61" y="541" width="3.93" height="195" fill="url(#g2_487)"/><rect x="998.53" y="541" width="3.27" height="195" fill="url(#g2_489)"/><rect x="1001.81" y="541" width="3.93" height="195" fill="url(#g2_491)"/><rect x="1005.74" y="541" width="3.27" height="195" fill="url(#g2_493)"/><rect x="1009.01" y="541" width="3.93" height="195" fill="url(#g2_495)"/><rect x="1012.94" y="541" width="3.93" height="195" fill="url(#g2_497)"/><rect x="1016.87" y="541" width="3.27" height="195" fill="url(#g2_499)"/><rect x="1020.14" y="541" width="3.93" height="195" fill="url(#g2_501)"/><rect x="1024.07" y="541" width="3.93" height="195" fill="url(#g2_503)"/><rect x="1028" y="541" width="3.27" height="195" fill="url(#g2_505)"/><rect x="1031.27" y="541" width="3.93" height="195" fill="url(#g2_507)"/><rect x="1035.2" y="541" width="3.93" height="195" fill="url(#g2_509)"/><rect x="1039.13" y="541" width="3.87" height="195" fill="url(#g2_511)"/></g>
</defs>
<g clip-path="url(#cp0)"><g filter="url(#bl0)"><g><g filter="url(#vm0)"><svg x="93" y="48" width="946" height="4" viewBox="93 50.432 946 0.04" preserveAspectRatio="none"><use href="#c01"/></svg><svg x="93" y="52" width="946" height="4" viewBox="93 54.102 946 0.04" preserveAspectRatio="none"><use href="#c01"/></svg><svg x="93" y="56" width="946" height="3" viewBox="93 57.772 946 0.04" preserveAspectRatio="none"><use href="#c01"/></svg><svg x="93" y="59" width="946" height="4" viewBox="93 61.442 946 0.04" preserveAspectRatio="none"><use href="#c01"/></svg><svg x="93" y="63" width="946" height="4" viewBox="93 65.112 946 0.04" preserveAspectRatio="none"><use href="#c01"/></svg><svg x="93" y="67" width="946" height="4" viewBox="93 68.782 946 0.04" preserveAspectRatio="none"><use href="#c01"/></svg><svg x="93" y="71" width="946" height="4" viewBox="93 72.453 946 0.04" preserveAspectRatio="none"><use href="#c01"/></svg><svg x="93" y="75" width="946" height="3" viewBox="93 76.123 946 0.04" preserveAspectRatio="none"><use href="#c01"/></svg><svg x="93" y="78" width="946" height="4" viewBox="93 79.793 946 0.04" preserveAspectRatio="none"><use href="#c01"/></svg><svg x="93" y="82" width="946" height="3" viewBox="93 83.462 946 0.04" preserveAspectRatio="none"><use href="#c01"/></svg><svg x="93" y="85" width="946" height="4" viewBox="93 87.133 946 0.04" preserveAspectRatio="none"><use href="#c01"/></svg><svg x="93" y="89" width="946" height="4" viewBox="93 90.802 946 0.04" preserveAspectRatio="none"><use href="#c01"/></svg><svg x="93" y="93" width="946" height="3" viewBox="93 94.472 946 0.04" preserveAspectRatio="none"><use href="#c01"/></svg><svg x="93" y="96" width="946" height="4" viewBox="93 98.142 946 0.04" preserveAspectRatio="none"><use href="#c01"/></svg><svg x="93" y="100" width="946" height="3" viewBox="93 101.812 946 0.04" preserveAspectRatio="none"><use href="#c01"/></svg><svg x="93" y="103" width="946" height="4" viewBox="93 105.483 946 0.04" preserveAspectRatio="none"><use href="#c01"/></svg><svg x="93" y="107" width="946" height="4" viewBox="93 109.152 946 0.04" preserveAspectRatio="none"><use href="#c01"/></svg><svg x="93" y="111" width="946" height="3" viewBox="93 112.823 946 0.04" preserveAspectRatio="none"><use href="#c01"/></svg><svg x="93" y="114" width="946" height="4" viewBox="93 116.492 946 0.04" preserveAspectRatio="none"><use href="#c01"/></svg><svg x="93" y="118" width="946" height="4" viewBox="93 120.163 946 0.04" preserveAspectRatio="none"><use href="#c01"/></svg><svg x="93" y="122" width="946" height="4" viewBox="93 123.832 946 0.04" preserveAspectRatio="none"><use href="#c01"/></svg><svg x="93" y="126" width="946" height="4" viewBox="93 127.503 946 0.04" preserveAspectRatio="none"><use href="#c01"/></svg><svg x="93" y="130" width="946" height="3" viewBox="93 131.172 946 0.04" preserveAspectRatio="none"><use href="#c01"/></svg><svg x="93" y="133" width="946" height="4" viewBox="93 134.842 946 0.04" preserveAspectRatio="none"><use href="#c01"/></svg><svg x="93" y="137" width="946" height="3" viewBox="93 138.512 946 0.04" preserveAspectRatio="none"><use href="#c01"/></svg><svg x="93" y="140" width="946" height="4" viewBox="93 142.182 946 0.04" preserveAspectRatio="none"><use href="#c01"/></svg><svg x="93" y="144" width="946" height="4" viewBox="93 145.852 946 0.04" preserveAspectRatio="none"><use href="#c01"/></svg><svg x="93" y="148" width="946" height="3" viewBox="93 149.522 946 0.04" preserveAspectRatio="none"><use href="#c01"/></svg><svg x="93" y="151" width="946" height="4" viewBox="93 153.192 946 0.04" preserveAspectRatio="none"><use href="#c01"/></svg><svg x="93" y="155" width="946" height="3" viewBox="93 156.862 946 0.04" preserveAspectRatio="none"><use href="#c01"/></svg><svg x="93" y="158" width="946" height="4" viewBox="93 160.532 946 0.04" preserveAspectRatio="none"><use href="#c01"/></svg><svg x="93" y="162" width="946" height="4" viewBox="93 164.202 946 0.04" preserveAspectRatio="none"><use href="#c01"/></svg><svg x="93" y="166" width="946" height="4" viewBox="93 167.872 946 0.04" preserveAspectRatio="none"><use href="#c01"/></svg><svg x="93" y="170" width="946" height="3" viewBox="93 171.542 946 0.04" preserveAspectRatio="none"><use href="#c01"/></svg><svg x="93" y="173" width="946" height="4" viewBox="93 175.212 946 0.04" preserveAspectRatio="none"><use href="#c01"/></svg><svg x="93" y="177" width="946" height="4" viewBox="93 178.882 946 0.04" preserveAspectRatio="none"><use href="#c01"/></svg><svg x="93" y="181" width="946" height="4" viewBox="93 182.552 946 0.04" preserveAspectRatio="none"><use href="#c01"/></svg><svg x="93" y="185" width="946" height="3" viewBox="93 186.222 946 0.04" preserveAspectRatio="none"><use href="#c01"/></svg><svg x="93" y="188" width="946" height="4" viewBox="93 189.892 946 0.04" preserveAspectRatio="none"><use href="#c01"/></svg><svg x="93" y="192" width="946" height="3" viewBox="93 193.562 946 0.04" preserveAspectRatio="none"><use href="#c01"/></svg><svg x="93" y="195" width="946" height="4" viewBox="93 197.232 946 0.04" preserveAspectRatio="none"><use href="#c01"/></svg><svg x="93" y="199" width="946" height="4" viewBox="93 200.902 946 0.04" preserveAspectRatio="none"><use href="#c01"/></svg><svg x="93" y="203" width="946" height="3" viewBox="93 204.572 946 0.04" preserveAspectRatio="none"><use href="#c01"/></svg><svg x="93" y="206" width="946" height="4" viewBox="93 208.242 946 0.04" preserveAspectRatio="none"><use href="#c01"/></svg><svg x="93" y="210" width="946" height="3" viewBox="93 211.912 946 0.04" preserveAspectRatio="none"><use href="#c01"/></svg><svg x="93" y="213" width="946" height="4" viewBox="93 215.582 946 0.04" preserveAspectRatio="none"><use href="#c01"/></svg><svg x="93" y="217" width="946" height="4" viewBox="93 219.252 946 0.04" preserveAspectRatio="none"><use href="#c01"/></svg><svg x="93" y="221" width="946" height="4" viewBox="93 222.922 946 0.04" preserveAspectRatio="none"><use href="#c01"/></svg><svg x="93" y="225" width="946" height="3" viewBox="93 226.592 946 0.04" preserveAspectRatio="none"><use href="#c01"/></svg><svg x="93" y="228" width="946" height="5" viewBox="93 230.262 946 0.04" preserveAspectRatio="none"><use href="#c01"/></svg></g><g clip-path="url(#ce0)"><g filter="url(#vm0)"><svg x="93" y="48" width="946" height="4" viewBox="93 50.432 946 0.04" preserveAspectRatio="none"><use href="#c00"/></svg><svg x="93" y="52" width="946" height="4" viewBox="93 54.102 946 0.04" preserveAspectRatio="none"><use href="#c00"/></svg><svg x="93" y="56" width="946" height="3" viewBox="93 57.772 946 0.04" preserveAspectRatio="none"><use href="#c00"/></svg><svg x="93" y="59" width="946" height="4" viewBox="93 61.442 946 0.04" preserveAspectRatio="none"><use href="#c00"/></svg><svg x="93" y="63" width="946" height="4" viewBox="93 65.112 946 0.04" preserveAspectRatio="none"><use href="#c00"/></svg><svg x="93" y="67" width="946" height="4" viewBox="93 68.782 946 0.04" preserveAspectRatio="none"><use href="#c00"/></svg><svg x="93" y="71" width="946" height="4" viewBox="93 72.453 946 0.04" preserveAspectRatio="none"><use href="#c00"/></svg><svg x="93" y="75" width="946" height="3" viewBox="93 76.123 946 0.04" preserveAspectRatio="none"><use href="#c00"/></svg><svg x="93" y="78" width="946" height="4" viewBox="93 79.793 946 0.04" preserveAspectRatio="none"><use href="#c00"/></svg><svg x="93" y="82" width="946" height="3" viewBox="93 83.462 946 0.04" preserveAspectRatio="none"><use href="#c00"/></svg><svg x="93" y="85" width="946" height="4" viewBox="93 87.133 946 0.04" preserveAspectRatio="none"><use href="#c00"/></svg><svg x="93" y="89" width="946" height="4" viewBox="93 90.802 946 0.04" preserveAspectRatio="none"><use href="#c00"/></svg><svg x="93" y="93" width="946" height="3" viewBox="93 94.472 946 0.04" preserveAspectRatio="none"><use href="#c00"/></svg><svg x="93" y="96" width="946" height="4" viewBox="93 98.142 946 0.04" preserveAspectRatio="none"><use href="#c00"/></svg><svg x="93" y="100" width="946" height="3" viewBox="93 101.812 946 0.04" preserveAspectRatio="none"><use href="#c00"/></svg><svg x="93" y="103" width="946" height="4" viewBox="93 105.483 946 0.04" preserveAspectRatio="none"><use href="#c00"/></svg><svg x="93" y="107" width="946" height="4" viewBox="93 109.152 946 0.04" preserveAspectRatio="none"><use href="#c00"/></svg><svg x="93" y="111" width="946" height="3" viewBox="93 112.823 946 0.04" preserveAspectRatio="none"><use href="#c00"/></svg><svg x="93" y="114" width="946" height="4" viewBox="93 116.492 946 0.04" preserveAspectRatio="none"><use href="#c00"/></svg><svg x="93" y="118" width="946" height="4" viewBox="93 120.163 946 0.04" preserveAspectRatio="none"><use href="#c00"/></svg><svg x="93" y="122" width="946" height="4" viewBox="93 123.832 946 0.04" preserveAspectRatio="none"><use href="#c00"/></svg><svg x="93" y="126" width="946" height="4" viewBox="93 127.503 946 0.04" preserveAspectRatio="none"><use href="#c00"/></svg><svg x="93" y="130" width="946" height="3" viewBox="93 131.172 946 0.04" preserveAspectRatio="none"><use href="#c00"/></svg><svg x="93" y="133" width="946" height="4" viewBox="93 134.842 946 0.04" preserveAspectRatio="none"><use href="#c00"/></svg><svg x="93" y="137" width="946" height="3" viewBox="93 138.512 946 0.04" preserveAspectRatio="none"><use href="#c00"/></svg><svg x="93" y="140" width="946" height="4" viewBox="93 142.182 946 0.04" preserveAspectRatio="none"><use href="#c00"/></svg><svg x="93" y="144" width="946" height="4" viewBox="93 145.852 946 0.04" preserveAspectRatio="none"><use href="#c00"/></svg><svg x="93" y="148" width="946" height="3" viewBox="93 149.522 946 0.04" preserveAspectRatio="none"><use href="#c00"/></svg><svg x="93" y="151" width="946" height="4" viewBox="93 153.192 946 0.04" preserveAspectRatio="none"><use href="#c00"/></svg><svg x="93" y="155" width="946" height="3" viewBox="93 156.862 946 0.04" preserveAspectRatio="none"><use href="#c00"/></svg><svg x="93" y="158" width="946" height="4" viewBox="93 160.532 946 0.04" preserveAspectRatio="none"><use href="#c00"/></svg><svg x="93" y="162" width="946" height="4" viewBox="93 164.202 946 0.04" preserveAspectRatio="none"><use href="#c00"/></svg><svg x="93" y="166" width="946" height="4" viewBox="93 167.872 946 0.04" preserveAspectRatio="none"><use href="#c00"/></svg><svg x="93" y="170" width="946" height="3" viewBox="93 171.542 946 0.04" preserveAspectRatio="none"><use href="#c00"/></svg><svg x="93" y="173" width="946" height="4" viewBox="93 175.212 946 0.04" preserveAspectRatio="none"><use href="#c00"/></svg><svg x="93" y="177" width="946" height="4" viewBox="93 178.882 946 0.04" preserveAspectRatio="none"><use href="#c00"/></svg><svg x="93" y="181" width="946" height="4" viewBox="93 182.552 946 0.04" preserveAspectRatio="none"><use href="#c00"/></svg><svg x="93" y="185" width="946" height="3" viewBox="93 186.222 946 0.04" preserveAspectRatio="none"><use href="#c00"/></svg><svg x="93" y="188" width="946" height="4" viewBox="93 189.892 946 0.04" preserveAspectRatio="none"><use href="#c00"/></svg><svg x="93" y="192" width="946" height="3" viewBox="93 193.562 946 0.04" preserveAspectRatio="none"><use href="#c00"/></svg><svg x="93" y="195" width="946" height="4" viewBox="93 197.232 946 0.04" preserveAspectRatio="none"><use href="#c00"/></svg><svg x="93" y="199" width="946" height="4" viewBox="93 200.902 946 0.04" preserveAspectRatio="none"><use href="#c00"/></svg><svg x="93" y="203" width="946" height="3" viewBox="93 204.572 946 0.04" preserveAspectRatio="none"><use href="#c00"/></svg><svg x="93" y="206" width="946" height="4" viewBox="93 208.242 946 0.04" preserveAspectRatio="none"><use href="#c00"/></svg><svg x="93" y="210" width="946" height="3" viewBox="93 211.912 946 0.04" preserveAspectRatio="none"><use href="#c00"/></svg><svg x="93" y="213" width="946" height="4" viewBox="93 215.582 946 0.04" preserveAspectRatio="none"><use href="#c00"/></svg><svg x="93" y="217" width="946" height="4" viewBox="93 219.252 946 0.04" preserveAspectRatio="none"><use href="#c00"/></svg><svg x="93" y="221" width="946" height="4" viewBox="93 222.922 946 0.04" preserveAspectRatio="none"><use href="#c00"/></svg><svg x="93" y="225" width="946" height="3" viewBox="93 226.592 946 0.04" preserveAspectRatio="none"><use href="#c00"/></svg><svg x="93" y="228" width="946" height="5" viewBox="93 230.262 946 0.04" preserveAspectRatio="none"><use href="#c00"/></svg></g></g></g>
<g clip-path="url(#cr0)"><g filter="url(#nf0)"><g filter="url(#vm0)"><svg x="93" y="48" width="946" height="2" viewBox="93 48.597 946 0.04" preserveAspectRatio="none"><use href="#c01"/></svg><svg x="93" y="50" width="946" height="4" viewBox="93 52.267 946 0.04" preserveAspectRatio="none"><use href="#c01"/></svg><svg x="93" y="54" width="946" height="4" viewBox="93 55.937 946 0.04" preserveAspectRatio="none"><use href="#c01"/></svg><svg x="93" y="58" width="946" height="3" viewBox="93 59.607 946 0.04" preserveAspectRatio="none"><use href="#c01"/></svg><svg x="93" y="61" width="946" height="4" viewBox="93 63.277 946 0.04" preserveAspectRatio="none"><use href="#c01"/></svg><svg x="93" y="65" width="946" height="4" viewBox="93 66.948 946 0.04" preserveAspectRatio="none"><use href="#c01"/></svg><svg x="93" y="69" width="946" height="4" viewBox="93 70.617 946 0.04" preserveAspectRatio="none"><use href="#c01"/></svg><svg x="93" y="73" width="946" height="3" viewBox="93 74.287 946 0.04" preserveAspectRatio="none"><use href="#c01"/></svg><svg x="93" y="76" width="946" height="4" viewBox="93 77.957 946 0.04" preserveAspectRatio="none"><use href="#c01"/></svg><svg x="93" y="80" width="946" height="4" viewBox="93 81.627 946 0.04" preserveAspectRatio="none"><use href="#c01"/></svg><svg x="93" y="84" width="946" height="3" viewBox="93 85.297 946 0.04" preserveAspectRatio="none"><use href="#c01"/></svg><svg x="93" y="87" width="946" height="4" viewBox="93 88.968 946 0.04" preserveAspectRatio="none"><use href="#c01"/></svg><svg x="93" y="91" width="946" height="3" viewBox="93 92.638 946 0.04" preserveAspectRatio="none"><use href="#c01"/></svg><svg x="93" y="94" width="946" height="4" viewBox="93 96.307 946 0.04" preserveAspectRatio="none"><use href="#c01"/></svg><svg x="93" y="98" width="946" height="4" viewBox="93 99.978 946 0.04" preserveAspectRatio="none"><use href="#c01"/></svg><svg x="93" y="102" width="946" height="3" viewBox="93 103.647 946 0.04" preserveAspectRatio="none"><use href="#c01"/></svg><svg x="93" y="105" width="946" height="4" viewBox="93 107.317 946 0.04" preserveAspectRatio="none"><use href="#c01"/></svg><svg x="93" y="109" width="946" height="4" viewBox="93 110.987 946 0.04" preserveAspectRatio="none"><use href="#c01"/></svg><svg x="93" y="113" width="946" height="3" viewBox="93 114.657 946 0.04" preserveAspectRatio="none"><use href="#c01"/></svg><svg x="93" y="116" width="946" height="4" viewBox="93 118.328 946 0.04" preserveAspectRatio="none"><use href="#c01"/></svg><svg x="93" y="120" width="946" height="4" viewBox="93 121.997 946 0.04" preserveAspectRatio="none"><use href="#c01"/></svg><svg x="93" y="124" width="946" height="4" viewBox="93 125.668 946 0.04" preserveAspectRatio="none"><use href="#c01"/></svg><svg x="93" y="128" width="946" height="3" viewBox="93 129.337 946 0.04" preserveAspectRatio="none"><use href="#c01"/></svg><svg x="93" y="131" width="946" height="4" viewBox="93 133.007 946 0.04" preserveAspectRatio="none"><use href="#c01"/></svg><svg x="93" y="135" width="946" height="4" viewBox="93 136.677 946 0.04" preserveAspectRatio="none"><use href="#c01"/></svg><svg x="93" y="139" width="946" height="3" viewBox="93 140.347 946 0.04" preserveAspectRatio="none"><use href="#c01"/></svg><svg x="93" y="142" width="946" height="4" viewBox="93 144.017 946 0.04" preserveAspectRatio="none"><use href="#c01"/></svg><svg x="93" y="146" width="946" height="3" viewBox="93 147.687 946 0.04" preserveAspectRatio="none"><use href="#c01"/></svg><svg x="93" y="149" width="946" height="4" viewBox="93 151.357 946 0.04" preserveAspectRatio="none"><use href="#c01"/></svg><svg x="93" y="153" width="946" height="4" viewBox="93 155.027 946 0.04" preserveAspectRatio="none"><use href="#c01"/></svg><svg x="93" y="157" width="946" height="3" viewBox="93 158.697 946 0.04" preserveAspectRatio="none"><use href="#c01"/></svg><svg x="93" y="160" width="946" height="4" viewBox="93 162.367 946 0.04" preserveAspectRatio="none"><use href="#c01"/></svg><svg x="93" y="164" width="946" height="4" viewBox="93 166.037 946 0.04" preserveAspectRatio="none"><use href="#c01"/></svg><svg x="93" y="168" width="946" height="3" viewBox="93 169.707 946 0.04" preserveAspectRatio="none"><use href="#c01"/></svg><svg x="93" y="171" width="946" height="4" viewBox="93 173.377 946 0.04" preserveAspectRatio="none"><use href="#c01"/></svg><svg x="93" y="175" width="946" height="4" viewBox="93 177.047 946 0.04" preserveAspectRatio="none"><use href="#c01"/></svg><svg x="93" y="179" width="946" height="4" viewBox="93 180.717 946 0.04" preserveAspectRatio="none"><use href="#c01"/></svg><svg x="93" y="183" width="946" height="3" viewBox="93 184.387 946 0.04" preserveAspectRatio="none"><use href="#c01"/></svg><svg x="93" y="186" width="946" height="4" viewBox="93 188.057 946 0.04" preserveAspectRatio="none"><use href="#c01"/></svg><svg x="93" y="190" width="946" height="4" viewBox="93 191.727 946 0.04" preserveAspectRatio="none"><use href="#c01"/></svg><svg x="93" y="194" width="946" height="3" viewBox="93 195.397 946 0.04" preserveAspectRatio="none"><use href="#c01"/></svg><svg x="93" y="197" width="946" height="4" viewBox="93 199.067 946 0.04" preserveAspectRatio="none"><use href="#c01"/></svg><svg x="93" y="201" width="946" height="3" viewBox="93 202.737 946 0.04" preserveAspectRatio="none"><use href="#c01"/></svg><svg x="93" y="204" width="946" height="4" viewBox="93 206.407 946 0.04" preserveAspectRatio="none"><use href="#c01"/></svg><svg x="93" y="208" width="946" height="4" viewBox="93 210.077 946 0.04" preserveAspectRatio="none"><use href="#c01"/></svg><svg x="93" y="212" width="946" height="3" viewBox="93 213.747 946 0.04" preserveAspectRatio="none"><use href="#c01"/></svg><svg x="93" y="215" width="946" height="4" viewBox="93 217.417 946 0.04" preserveAspectRatio="none"><use href="#c01"/></svg><svg x="93" y="219" width="946" height="4" viewBox="93 221.087 946 0.04" preserveAspectRatio="none"><use href="#c01"/></svg><svg x="93" y="223" width="946" height="3" viewBox="93 224.757 946 0.04" preserveAspectRatio="none"><use href="#c01"/></svg><svg x="93" y="226" width="946" height="7" viewBox="93 228.427 946 0.04" preserveAspectRatio="none"><use href="#c01"/></svg></g><g clip-path="url(#ce0)"><g filter="url(#vm0)"><svg x="93" y="48" width="946" height="2" viewBox="93 48.597 946 0.04" preserveAspectRatio="none"><use href="#c00"/></svg><svg x="93" y="50" width="946" height="4" viewBox="93 52.267 946 0.04" preserveAspectRatio="none"><use href="#c00"/></svg><svg x="93" y="54" width="946" height="4" viewBox="93 55.937 946 0.04" preserveAspectRatio="none"><use href="#c00"/></svg><svg x="93" y="58" width="946" height="3" viewBox="93 59.607 946 0.04" preserveAspectRatio="none"><use href="#c00"/></svg><svg x="93" y="61" width="946" height="4" viewBox="93 63.277 946 0.04" preserveAspectRatio="none"><use href="#c00"/></svg><svg x="93" y="65" width="946" height="4" viewBox="93 66.948 946 0.04" preserveAspectRatio="none"><use href="#c00"/></svg><svg x="93" y="69" width="946" height="4" viewBox="93 70.617 946 0.04" preserveAspectRatio="none"><use href="#c00"/></svg><svg x="93" y="73" width="946" height="3" viewBox="93 74.287 946 0.04" preserveAspectRatio="none"><use href="#c00"/></svg><svg x="93" y="76" width="946" height="4" viewBox="93 77.957 946 0.04" preserveAspectRatio="none"><use href="#c00"/></svg><svg x="93" y="80" width="946" height="4" viewBox="93 81.627 946 0.04" preserveAspectRatio="none"><use href="#c00"/></svg><svg x="93" y="84" width="946" height="3" viewBox="93 85.297 946 0.04" preserveAspectRatio="none"><use href="#c00"/></svg><svg x="93" y="87" width="946" height="4" viewBox="93 88.968 946 0.04" preserveAspectRatio="none"><use href="#c00"/></svg><svg x="93" y="91" width="946" height="3" viewBox="93 92.638 946 0.04" preserveAspectRatio="none"><use href="#c00"/></svg><svg x="93" y="94" width="946" height="4" viewBox="93 96.307 946 0.04" preserveAspectRatio="none"><use href="#c00"/></svg><svg x="93" y="98" width="946" height="4" viewBox="93 99.978 946 0.04" preserveAspectRatio="none"><use href="#c00"/></svg><svg x="93" y="102" width="946" height="3" viewBox="93 103.647 946 0.04" preserveAspectRatio="none"><use href="#c00"/></svg><svg x="93" y="105" width="946" height="4" viewBox="93 107.317 946 0.04" preserveAspectRatio="none"><use href="#c00"/></svg><svg x="93" y="109" width="946" height="4" viewBox="93 110.987 946 0.04" preserveAspectRatio="none"><use href="#c00"/></svg><svg x="93" y="113" width="946" height="3" viewBox="93 114.657 946 0.04" preserveAspectRatio="none"><use href="#c00"/></svg><svg x="93" y="116" width="946" height="4" viewBox="93 118.328 946 0.04" preserveAspectRatio="none"><use href="#c00"/></svg><svg x="93" y="120" width="946" height="4" viewBox="93 121.997 946 0.04" preserveAspectRatio="none"><use href="#c00"/></svg><svg x="93" y="124" width="946" height="4" viewBox="93 125.668 946 0.04" preserveAspectRatio="none"><use href="#c00"/></svg><svg x="93" y="128" width="946" height="3" viewBox="93 129.337 946 0.04" preserveAspectRatio="none"><use href="#c00"/></svg><svg x="93" y="131" width="946" height="4" viewBox="93 133.007 946 0.04" preserveAspectRatio="none"><use href="#c00"/></svg><svg x="93" y="135" width="946" height="4" viewBox="93 136.677 946 0.04" preserveAspectRatio="none"><use href="#c00"/></svg><svg x="93" y="139" width="946" height="3" viewBox="93 140.347 946 0.04" preserveAspectRatio="none"><use href="#c00"/></svg><svg x="93" y="142" width="946" height="4" viewBox="93 144.017 946 0.04" preserveAspectRatio="none"><use href="#c00"/></svg><svg x="93" y="146" width="946" height="3" viewBox="93 147.687 946 0.04" preserveAspectRatio="none"><use href="#c00"/></svg><svg x="93" y="149" width="946" height="4" viewBox="93 151.357 946 0.04" preserveAspectRatio="none"><use href="#c00"/></svg><svg x="93" y="153" width="946" height="4" viewBox="93 155.027 946 0.04" preserveAspectRatio="none"><use href="#c00"/></svg><svg x="93" y="157" width="946" height="3" viewBox="93 158.697 946 0.04" preserveAspectRatio="none"><use href="#c00"/></svg><svg x="93" y="160" width="946" height="4" viewBox="93 162.367 946 0.04" preserveAspectRatio="none"><use href="#c00"/></svg><svg x="93" y="164" width="946" height="4" viewBox="93 166.037 946 0.04" preserveAspectRatio="none"><use href="#c00"/></svg><svg x="93" y="168" width="946" height="3" viewBox="93 169.707 946 0.04" preserveAspectRatio="none"><use href="#c00"/></svg><svg x="93" y="171" width="946" height="4" viewBox="93 173.377 946 0.04" preserveAspectRatio="none"><use href="#c00"/></svg><svg x="93" y="175" width="946" height="4" viewBox="93 177.047 946 0.04" preserveAspectRatio="none"><use href="#c00"/></svg><svg x="93" y="179" width="946" height="4" viewBox="93 180.717 946 0.04" preserveAspectRatio="none"><use href="#c00"/></svg><svg x="93" y="183" width="946" height="3" viewBox="93 184.387 946 0.04" preserveAspectRatio="none"><use href="#c00"/></svg><svg x="93" y="186" width="946" height="4" viewBox="93 188.057 946 0.04" preserveAspectRatio="none"><use href="#c00"/></svg><svg x="93" y="190" width="946" height="4" viewBox="93 191.727 946 0.04" preserveAspectRatio="none"><use href="#c00"/></svg><svg x="93" y="194" width="946" height="3" viewBox="93 195.397 946 0.04" preserveAspectRatio="none"><use href="#c00"/></svg><svg x="93" y="197" width="946" height="4" viewBox="93 199.067 946 0.04" preserveAspectRatio="none"><use href="#c00"/></svg><svg x="93" y="201" width="946" height="3" viewBox="93 202.737 946 0.04" preserveAspectRatio="none"><use href="#c00"/></svg><svg x="93" y="204" width="946" height="4" viewBox="93 206.407 946 0.04" preserveAspectRatio="none"><use href="#c00"/></svg><svg x="93" y="208" width="946" height="4" viewBox="93 210.077 946 0.04" preserveAspectRatio="none"><use href="#c00"/></svg><svg x="93" y="212" width="946" height="3" viewBox="93 213.747 946 0.04" preserveAspectRatio="none"><use href="#c00"/></svg><svg x="93" y="215" width="946" height="4" viewBox="93 217.417 946 0.04" preserveAspectRatio="none"><use href="#c00"/></svg><svg x="93" y="219" width="946" height="4" viewBox="93 221.087 946 0.04" preserveAspectRatio="none"><use href="#c00"/></svg><svg x="93" y="223" width="946" height="3" viewBox="93 224.757 946 0.04" preserveAspectRatio="none"><use href="#c00"/></svg><svg x="93" y="226" width="946" height="7" viewBox="93 228.427 946 0.04" preserveAspectRatio="none"><use href="#c00"/></svg></g></g></g></g>
</g></g>
<g clip-path="url(#cp1)"><g filter="url(#bl1)"><g><g filter="url(#vm1)"><svg x="101" y="292" width="438" height="5" viewBox="101 294.728 438 0.04" preserveAspectRatio="none"><use href="#c11"/></svg><svg x="101" y="297" width="438" height="3" viewBox="101 298.392 438 0.04" preserveAspectRatio="none"><use href="#c11"/></svg><svg x="101" y="300" width="438" height="4" viewBox="101 302.056 438 0.04" preserveAspectRatio="none"><use href="#c11"/></svg><svg x="101" y="304" width="438" height="4" viewBox="101 305.72 438 0.04" preserveAspectRatio="none"><use href="#c11"/></svg><svg x="101" y="308" width="438" height="3" viewBox="101 309.384 438 0.04" preserveAspectRatio="none"><use href="#c11"/></svg><svg x="101" y="311" width="438" height="4" viewBox="101 313.048 438 0.04" preserveAspectRatio="none"><use href="#c11"/></svg><svg x="101" y="315" width="438" height="4" viewBox="101 316.712 438 0.04" preserveAspectRatio="none"><use href="#c11"/></svg><svg x="101" y="319" width="438" height="3" viewBox="101 320.376 438 0.04" preserveAspectRatio="none"><use href="#c11"/></svg><svg x="101" y="322" width="438" height="4" viewBox="101 324.04 438 0.04" preserveAspectRatio="none"><use href="#c11"/></svg><svg x="101" y="326" width="438" height="3" viewBox="101 327.704 438 0.04" preserveAspectRatio="none"><use href="#c11"/></svg><svg x="101" y="329" width="438" height="4" viewBox="101 331.368 438 0.04" preserveAspectRatio="none"><use href="#c11"/></svg><svg x="101" y="333" width="438" height="4" viewBox="101 335.032 438 0.04" preserveAspectRatio="none"><use href="#c11"/></svg><svg x="101" y="337" width="438" height="3" viewBox="101 338.696 438 0.04" preserveAspectRatio="none"><use href="#c11"/></svg><svg x="101" y="340" width="438" height="4" viewBox="101 342.36 438 0.04" preserveAspectRatio="none"><use href="#c11"/></svg><svg x="101" y="344" width="438" height="4" viewBox="101 346.024 438 0.04" preserveAspectRatio="none"><use href="#c11"/></svg><svg x="101" y="348" width="438" height="3" viewBox="101 349.688 438 0.04" preserveAspectRatio="none"><use href="#c11"/></svg><svg x="101" y="351" width="438" height="4" viewBox="101 353.352 438 0.04" preserveAspectRatio="none"><use href="#c11"/></svg><svg x="101" y="355" width="438" height="4" viewBox="101 357.016 438 0.04" preserveAspectRatio="none"><use href="#c11"/></svg><svg x="101" y="359" width="438" height="4" viewBox="101 360.68 438 0.04" preserveAspectRatio="none"><use href="#c11"/></svg><svg x="101" y="363" width="438" height="3" viewBox="101 364.344 438 0.04" preserveAspectRatio="none"><use href="#c11"/></svg><svg x="101" y="366" width="438" height="4" viewBox="101 368.008 438 0.04" preserveAspectRatio="none"><use href="#c11"/></svg><svg x="101" y="370" width="438" height="4" viewBox="101 371.672 438 0.04" preserveAspectRatio="none"><use href="#c11"/></svg><svg x="101" y="374" width="438" height="3" viewBox="101 375.336 438 0.04" preserveAspectRatio="none"><use href="#c11"/></svg><svg x="101" y="377" width="438" height="4" viewBox="101 379 438 0.04" preserveAspectRatio="none"><use href="#c11"/></svg><svg x="101" y="381" width="438" height="3" viewBox="101 382.664 438 0.04" preserveAspectRatio="none"><use href="#c11"/></svg><svg x="101" y="384" width="438" height="4" viewBox="101 386.328 438 0.04" preserveAspectRatio="none"><use href="#c11"/></svg><svg x="101" y="388" width="438" height="4" viewBox="101 389.992 438 0.04" preserveAspectRatio="none"><use href="#c11"/></svg><svg x="101" y="392" width="438" height="3" viewBox="101 393.656 438 0.04" preserveAspectRatio="none"><use href="#c11"/></svg><svg x="101" y="395" width="438" height="4" viewBox="101 397.32 438 0.04" preserveAspectRatio="none"><use href="#c11"/></svg><svg x="101" y="399" width="438" height="3" viewBox="101 400.984 438 0.04" preserveAspectRatio="none"><use href="#c11"/></svg><svg x="101" y="402" width="438" height="4" viewBox="101 404.648 438 0.04" preserveAspectRatio="none"><use href="#c11"/></svg><svg x="101" y="406" width="438" height="4" viewBox="101 408.312 438 0.04" preserveAspectRatio="none"><use href="#c11"/></svg><svg x="101" y="410" width="438" height="4" viewBox="101 411.976 438 0.04" preserveAspectRatio="none"><use href="#c11"/></svg><svg x="101" y="414" width="438" height="4" viewBox="101 415.64 438 0.04" preserveAspectRatio="none"><use href="#c11"/></svg><svg x="101" y="418" width="438" height="3" viewBox="101 419.304 438 0.04" preserveAspectRatio="none"><use href="#c11"/></svg><svg x="101" y="421" width="438" height="4" viewBox="101 422.968 438 0.04" preserveAspectRatio="none"><use href="#c11"/></svg><svg x="101" y="425" width="438" height="4" viewBox="101 426.632 438 0.04" preserveAspectRatio="none"><use href="#c11"/></svg><svg x="101" y="429" width="438" height="3" viewBox="101 430.296 438 0.04" preserveAspectRatio="none"><use href="#c11"/></svg><svg x="101" y="432" width="438" height="4" viewBox="101 433.96 438 0.04" preserveAspectRatio="none"><use href="#c11"/></svg><svg x="101" y="436" width="438" height="3" viewBox="101 437.624 438 0.04" preserveAspectRatio="none"><use href="#c11"/></svg><svg x="101" y="439" width="438" height="4" viewBox="101 441.288 438 0.04" preserveAspectRatio="none"><use href="#c11"/></svg><svg x="101" y="443" width="438" height="4" viewBox="101 444.952 438 0.04" preserveAspectRatio="none"><use href="#c11"/></svg><svg x="101" y="447" width="438" height="3" viewBox="101 448.616 438 0.04" preserveAspectRatio="none"><use href="#c11"/></svg><svg x="101" y="450" width="438" height="4" viewBox="101 452.28 438 0.04" preserveAspectRatio="none"><use href="#c11"/></svg><svg x="101" y="454" width="438" height="3" viewBox="101 455.944 438 0.04" preserveAspectRatio="none"><use href="#c11"/></svg><svg x="101" y="457" width="438" height="4" viewBox="101 459.608 438 0.04" preserveAspectRatio="none"><use href="#c11"/></svg><svg x="101" y="461" width="438" height="4" viewBox="101 463.272 438 0.04" preserveAspectRatio="none"><use href="#c11"/></svg><svg x="101" y="465" width="438" height="4" viewBox="101 466.936 438 0.04" preserveAspectRatio="none"><use href="#c11"/></svg><svg x="101" y="469" width="438" height="3" viewBox="101 470.6 438 0.04" preserveAspectRatio="none"><use href="#c11"/></svg><svg x="101" y="472" width="438" height="5" viewBox="101 474.264 438 0.04" preserveAspectRatio="none"><use href="#c11"/></svg><use href="#s11"/></g><g clip-path="url(#ce1)"><g filter="url(#vm1)"><svg x="101" y="292" width="438" height="5" viewBox="101 294.728 438 0.04" preserveAspectRatio="none"><use href="#c10"/></svg><svg x="101" y="297" width="438" height="3" viewBox="101 298.392 438 0.04" preserveAspectRatio="none"><use href="#c10"/></svg><svg x="101" y="300" width="438" height="4" viewBox="101 302.056 438 0.04" preserveAspectRatio="none"><use href="#c10"/></svg><svg x="101" y="304" width="438" height="4" viewBox="101 305.72 438 0.04" preserveAspectRatio="none"><use href="#c10"/></svg><svg x="101" y="308" width="438" height="3" viewBox="101 309.384 438 0.04" preserveAspectRatio="none"><use href="#c10"/></svg><svg x="101" y="311" width="438" height="4" viewBox="101 313.048 438 0.04" preserveAspectRatio="none"><use href="#c10"/></svg><svg x="101" y="315" width="438" height="4" viewBox="101 316.712 438 0.04" preserveAspectRatio="none"><use href="#c10"/></svg><svg x="101" y="319" width="438" height="3" viewBox="101 320.376 438 0.04" preserveAspectRatio="none"><use href="#c10"/></svg><svg x="101" y="322" width="438" height="4" viewBox="101 324.04 438 0.04" preserveAspectRatio="none"><use href="#c10"/></svg><svg x="101" y="326" width="438" height="3" viewBox="101 327.704 438 0.04" preserveAspectRatio="none"><use href="#c10"/></svg><svg x="101" y="329" width="438" height="4" viewBox="101 331.368 438 0.04" preserveAspectRatio="none"><use href="#c10"/></svg><svg x="101" y="333" width="438" height="4" viewBox="101 335.032 438 0.04" preserveAspectRatio="none"><use href="#c10"/></svg><svg x="101" y="337" width="438" height="3" viewBox="101 338.696 438 0.04" preserveAspectRatio="none"><use href="#c10"/></svg><svg x="101" y="340" width="438" height="4" viewBox="101 342.36 438 0.04" preserveAspectRatio="none"><use href="#c10"/></svg><svg x="101" y="344" width="438" height="4" viewBox="101 346.024 438 0.04" preserveAspectRatio="none"><use href="#c10"/></svg><svg x="101" y="348" width="438" height="3" viewBox="101 349.688 438 0.04" preserveAspectRatio="none"><use href="#c10"/></svg><svg x="101" y="351" width="438" height="4" viewBox="101 353.352 438 0.04" preserveAspectRatio="none"><use href="#c10"/></svg><svg x="101" y="355" width="438" height="4" viewBox="101 357.016 438 0.04" preserveAspectRatio="none"><use href="#c10"/></svg><svg x="101" y="359" width="438" height="4" viewBox="101 360.68 438 0.04" preserveAspectRatio="none"><use href="#c10"/></svg><svg x="101" y="363" width="438" height="3" viewBox="101 364.344 438 0.04" preserveAspectRatio="none"><use href="#c10"/></svg><svg x="101" y="366" width="438" height="4" viewBox="101 368.008 438 0.04" preserveAspectRatio="none"><use href="#c10"/></svg><svg x="101" y="370" width="438" height="4" viewBox="101 371.672 438 0.04" preserveAspectRatio="none"><use href="#c10"/></svg><svg x="101" y="374" width="438" height="3" viewBox="101 375.336 438 0.04" preserveAspectRatio="none"><use href="#c10"/></svg><svg x="101" y="377" width="438" height="4" viewBox="101 379 438 0.04" preserveAspectRatio="none"><use href="#c10"/></svg><svg x="101" y="381" width="438" height="3" viewBox="101 382.664 438 0.04" preserveAspectRatio="none"><use href="#c10"/></svg><svg x="101" y="384" width="438" height="4" viewBox="101 386.328 438 0.04" preserveAspectRatio="none"><use href="#c10"/></svg><svg x="101" y="388" width="438" height="4" viewBox="101 389.992 438 0.04" preserveAspectRatio="none"><use href="#c10"/></svg><svg x="101" y="392" width="438" height="3" viewBox="101 393.656 438 0.04" preserveAspectRatio="none"><use href="#c10"/></svg><svg x="101" y="395" width="438" height="4" viewBox="101 397.32 438 0.04" preserveAspectRatio="none"><use href="#c10"/></svg><svg x="101" y="399" width="438" height="3" viewBox="101 400.984 438 0.04" preserveAspectRatio="none"><use href="#c10"/></svg><svg x="101" y="402" width="438" height="4" viewBox="101 404.648 438 0.04" preserveAspectRatio="none"><use href="#c10"/></svg><svg x="101" y="406" width="438" height="4" viewBox="101 408.312 438 0.04" preserveAspectRatio="none"><use href="#c10"/></svg><svg x="101" y="410" width="438" height="4" viewBox="101 411.976 438 0.04" preserveAspectRatio="none"><use href="#c10"/></svg><svg x="101" y="414" width="438" height="4" viewBox="101 415.64 438 0.04" preserveAspectRatio="none"><use href="#c10"/></svg><svg x="101" y="418" width="438" height="3" viewBox="101 419.304 438 0.04" preserveAspectRatio="none"><use href="#c10"/></svg><svg x="101" y="421" width="438" height="4" viewBox="101 422.968 438 0.04" preserveAspectRatio="none"><use href="#c10"/></svg><svg x="101" y="425" width="438" height="4" viewBox="101 426.632 438 0.04" preserveAspectRatio="none"><use href="#c10"/></svg><svg x="101" y="429" width="438" height="3" viewBox="101 430.296 438 0.04" preserveAspectRatio="none"><use href="#c10"/></svg><svg x="101" y="432" width="438" height="4" viewBox="101 433.96 438 0.04" preserveAspectRatio="none"><use href="#c10"/></svg><svg x="101" y="436" width="438" height="3" viewBox="101 437.624 438 0.04" preserveAspectRatio="none"><use href="#c10"/></svg><svg x="101" y="439" width="438" height="4" viewBox="101 441.288 438 0.04" preserveAspectRatio="none"><use href="#c10"/></svg><svg x="101" y="443" width="438" height="4" viewBox="101 444.952 438 0.04" preserveAspectRatio="none"><use href="#c10"/></svg><svg x="101" y="447" width="438" height="3" viewBox="101 448.616 438 0.04" preserveAspectRatio="none"><use href="#c10"/></svg><svg x="101" y="450" width="438" height="4" viewBox="101 452.28 438 0.04" preserveAspectRatio="none"><use href="#c10"/></svg><svg x="101" y="454" width="438" height="3" viewBox="101 455.944 438 0.04" preserveAspectRatio="none"><use href="#c10"/></svg><svg x="101" y="457" width="438" height="4" viewBox="101 459.608 438 0.04" preserveAspectRatio="none"><use href="#c10"/></svg><svg x="101" y="461" width="438" height="4" viewBox="101 463.272 438 0.04" preserveAspectRatio="none"><use href="#c10"/></svg><svg x="101" y="465" width="438" height="4" viewBox="101 466.936 438 0.04" preserveAspectRatio="none"><use href="#c10"/></svg><svg x="101" y="469" width="438" height="3" viewBox="101 470.6 438 0.04" preserveAspectRatio="none"><use href="#c10"/></svg><svg x="101" y="472" width="438" height="5" viewBox="101 474.264 438 0.04" preserveAspectRatio="none"><use href="#c10"/></svg><use href="#s10"/></g></g></g>
<g clip-path="url(#cr1)"><g filter="url(#nf1)"><g filter="url(#vm1)"><svg x="101" y="292" width="438" height="3" viewBox="101 292.896 438 0.04" preserveAspectRatio="none"><use href="#c11"/></svg><svg x="101" y="295" width="438" height="4" viewBox="101 296.56 438 0.04" preserveAspectRatio="none"><use href="#c11"/></svg><svg x="101" y="299" width="438" height="3" viewBox="101 300.224 438 0.04" preserveAspectRatio="none"><use href="#c11"/></svg><svg x="101" y="302" width="438" height="4" viewBox="101 303.888 438 0.04" preserveAspectRatio="none"><use href="#c11"/></svg><svg x="101" y="306" width="438" height="4" viewBox="101 307.552 438 0.04" preserveAspectRatio="none"><use href="#c11"/></svg><svg x="101" y="310" width="438" height="3" viewBox="101 311.216 438 0.04" preserveAspectRatio="none"><use href="#c11"/></svg><svg x="101" y="313" width="438" height="4" viewBox="101 314.88 438 0.04" preserveAspectRatio="none"><use href="#c11"/></svg><svg x="101" y="317" width="438" height="3" viewBox="101 318.544 438 0.04" preserveAspectRatio="none"><use href="#c11"/></svg><svg x="101" y="320" width="438" height="4" viewBox="101 322.208 438 0.04" preserveAspectRatio="none"><use href="#c11"/></svg><svg x="101" y="324" width="438" height="4" viewBox="101 325.872 438 0.04" preserveAspectRatio="none"><use href="#c11"/></svg><svg x="101" y="328" width="438" height="3" viewBox="101 329.536 438 0.04" preserveAspectRatio="none"><use href="#c11"/></svg><svg x="101" y="331" width="438" height="4" viewBox="101 333.2 438 0.04" preserveAspectRatio="none"><use href="#c11"/></svg><svg x="101" y="335" width="438" height="3" viewBox="101 336.864 438 0.04" preserveAspectRatio="none"><use href="#c11"/></svg><svg x="101" y="338" width="438" height="4" viewBox="101 340.528 438 0.04" preserveAspectRatio="none"><use href="#c11"/></svg><svg x="101" y="342" width="438" height="4" viewBox="101 344.192 438 0.04" preserveAspectRatio="none"><use href="#c11"/></svg><svg x="101" y="346" width="438" height="4" viewBox="101 347.856 438 0.04" preserveAspectRatio="none"><use href="#c11"/></svg><svg x="101" y="350" width="438" height="3" viewBox="101 351.52 438 0.04" preserveAspectRatio="none"><use href="#c11"/></svg><svg x="101" y="353" width="438" height="4" viewBox="101 355.184 438 0.04" preserveAspectRatio="none"><use href="#c11"/></svg><svg x="101" y="357" width="438" height="4" viewBox="101 358.848 438 0.04" preserveAspectRatio="none"><use href="#c11"/></svg><svg x="101" y="361" width="438" height="4" viewBox="101 362.512 438 0.04" preserveAspectRatio="none"><use href="#c11"/></svg><svg x="101" y="365" width="438" height="3" viewBox="101 366.176 438 0.04" preserveAspectRatio="none"><use href="#c11"/></svg><svg x="101" y="368" width="438" height="4" viewBox="101 369.84 438 0.04" preserveAspectRatio="none"><use href="#c11"/></svg><svg x="101" y="372" width="438" height="3" viewBox="101 373.504 438 0.04" preserveAspectRatio="none"><use href="#c11"/></svg><svg x="101" y="375" width="438" height="4" viewBox="101 377.168 438 0.04" preserveAspectRatio="none"><use href="#c11"/></svg><svg x="101" y="379" width="438" height="4" viewBox="101 380.832 438 0.04" preserveAspectRatio="none"><use href="#c11"/></svg><svg x="101" y="383" width="438" height="3" viewBox="101 384.496 438 0.04" preserveAspectRatio="none"><use href="#c11"/></svg><svg x="101" y="386" width="438" height="4" viewBox="101 388.16 438 0.04" preserveAspectRatio="none"><use href="#c11"/></svg><svg x="101" y="390" width="438" height="3" viewBox="101 391.824 438 0.04" preserveAspectRatio="none"><use href="#c11"/></svg><svg x="101" y="393" width="438" height="4" viewBox="101 395.488 438 0.04" preserveAspectRatio="none"><use href="#c11"/></svg><svg x="101" y="397" width="438" height="4" viewBox="101 399.152 438 0.04" preserveAspectRatio="none"><use href="#c11"/></svg><svg x="101" y="401" width="438" height="3" viewBox="101 402.816 438 0.04" preserveAspectRatio="none"><use href="#c11"/></svg><svg x="101" y="404" width="438" height="4" viewBox="101 406.48 438 0.04" preserveAspectRatio="none"><use href="#c11"/></svg><svg x="101" y="408" width="438" height="4" viewBox="101 410.144 438 0.04" preserveAspectRatio="none"><use href="#c11"/></svg><svg x="101" y="412" width="438" height="4" viewBox="101 413.808 438 0.04" preserveAspectRatio="none"><use href="#c11"/></svg><svg x="101" y="416" width="438" height="3" viewBox="101 417.472 438 0.04" preserveAspectRatio="none"><use href="#c11"/></svg><svg x="101" y="419" width="438" height="4" viewBox="101 421.136 438 0.04" preserveAspectRatio="none"><use href="#c11"/></svg><svg x="101" y="423" width="438" height="4" viewBox="101 424.8 438 0.04" preserveAspectRatio="none"><use href="#c11"/></svg><svg x="101" y="427" width="438" height="3" viewBox="101 428.464 438 0.04" preserveAspectRatio="none"><use href="#c11"/></svg><svg x="101" y="430" width="438" height="4" viewBox="101 432.128 438 0.04" preserveAspectRatio="none"><use href="#c11"/></svg><svg x="101" y="434" width="438" height="4" viewBox="101 435.792 438 0.04" preserveAspectRatio="none"><use href="#c11"/></svg><svg x="101" y="438" width="438" height="3" viewBox="101 439.456 438 0.04" preserveAspectRatio="none"><use href="#c11"/></svg><svg x="101" y="441" width="438" height="4" viewBox="101 443.12 438 0.04" preserveAspectRatio="none"><use href="#c11"/></svg><svg x="101" y="445" width="438" height="3" viewBox="101 446.784 438 0.04" preserveAspectRatio="none"><use href="#c11"/></svg><svg x="101" y="448" width="438" height="4" viewBox="101 450.448 438 0.04" preserveAspectRatio="none"><use href="#c11"/></svg><svg x="101" y="452" width="438" height="4" viewBox="101 454.112 438 0.04" preserveAspectRatio="none"><use href="#c11"/></svg><svg x="101" y="456" width="438" height="3" viewBox="101 457.776 438 0.04" preserveAspectRatio="none"><use href="#c11"/></svg><svg x="101" y="459" width="438" height="4" viewBox="101 461.44 438 0.04" preserveAspectRatio="none"><use href="#c11"/></svg><svg x="101" y="463" width="438" height="4" viewBox="101 465.104 438 0.04" preserveAspectRatio="none"><use href="#c11"/></svg><svg x="101" y="467" width="438" height="3" viewBox="101 468.768 438 0.04" preserveAspectRatio="none"><use href="#c11"/></svg><svg x="101" y="470" width="438" height="7" viewBox="101 472.432 438 0.04" preserveAspectRatio="none"><use href="#c11"/></svg><use href="#s11"/></g><g clip-path="url(#ce1)"><g filter="url(#vm1)"><svg x="101" y="292" width="438" height="3" viewBox="101 292.896 438 0.04" preserveAspectRatio="none"><use href="#c10"/></svg><svg x="101" y="295" width="438" height="4" viewBox="101 296.56 438 0.04" preserveAspectRatio="none"><use href="#c10"/></svg><svg x="101" y="299" width="438" height="3" viewBox="101 300.224 438 0.04" preserveAspectRatio="none"><use href="#c10"/></svg><svg x="101" y="302" width="438" height="4" viewBox="101 303.888 438 0.04" preserveAspectRatio="none"><use href="#c10"/></svg><svg x="101" y="306" width="438" height="4" viewBox="101 307.552 438 0.04" preserveAspectRatio="none"><use href="#c10"/></svg><svg x="101" y="310" width="438" height="3" viewBox="101 311.216 438 0.04" preserveAspectRatio="none"><use href="#c10"/></svg><svg x="101" y="313" width="438" height="4" viewBox="101 314.88 438 0.04" preserveAspectRatio="none"><use href="#c10"/></svg><svg x="101" y="317" width="438" height="3" viewBox="101 318.544 438 0.04" preserveAspectRatio="none"><use href="#c10"/></svg><svg x="101" y="320" width="438" height="4" viewBox="101 322.208 438 0.04" preserveAspectRatio="none"><use href="#c10"/></svg><svg x="101" y="324" width="438" height="4" viewBox="101 325.872 438 0.04" preserveAspectRatio="none"><use href="#c10"/></svg><svg x="101" y="328" width="438" height="3" viewBox="101 329.536 438 0.04" preserveAspectRatio="none"><use href="#c10"/></svg><svg x="101" y="331" width="438" height="4" viewBox="101 333.2 438 0.04" preserveAspectRatio="none"><use href="#c10"/></svg><svg x="101" y="335" width="438" height="3" viewBox="101 336.864 438 0.04" preserveAspectRatio="none"><use href="#c10"/></svg><svg x="101" y="338" width="438" height="4" viewBox="101 340.528 438 0.04" preserveAspectRatio="none"><use href="#c10"/></svg><svg x="101" y="342" width="438" height="4" viewBox="101 344.192 438 0.04" preserveAspectRatio="none"><use href="#c10"/></svg><svg x="101" y="346" width="438" height="4" viewBox="101 347.856 438 0.04" preserveAspectRatio="none"><use href="#c10"/></svg><svg x="101" y="350" width="438" height="3" viewBox="101 351.52 438 0.04" preserveAspectRatio="none"><use href="#c10"/></svg><svg x="101" y="353" width="438" height="4" viewBox="101 355.184 438 0.04" preserveAspectRatio="none"><use href="#c10"/></svg><svg x="101" y="357" width="438" height="4" viewBox="101 358.848 438 0.04" preserveAspectRatio="none"><use href="#c10"/></svg><svg x="101" y="361" width="438" height="4" viewBox="101 362.512 438 0.04" preserveAspectRatio="none"><use href="#c10"/></svg><svg x="101" y="365" width="438" height="3" viewBox="101 366.176 438 0.04" preserveAspectRatio="none"><use href="#c10"/></svg><svg x="101" y="368" width="438" height="4" viewBox="101 369.84 438 0.04" preserveAspectRatio="none"><use href="#c10"/></svg><svg x="101" y="372" width="438" height="3" viewBox="101 373.504 438 0.04" preserveAspectRatio="none"><use href="#c10"/></svg><svg x="101" y="375" width="438" height="4" viewBox="101 377.168 438 0.04" preserveAspectRatio="none"><use href="#c10"/></svg><svg x="101" y="379" width="438" height="4" viewBox="101 380.832 438 0.04" preserveAspectRatio="none"><use href="#c10"/></svg><svg x="101" y="383" width="438" height="3" viewBox="101 384.496 438 0.04" preserveAspectRatio="none"><use href="#c10"/></svg><svg x="101" y="386" width="438" height="4" viewBox="101 388.16 438 0.04" preserveAspectRatio="none"><use href="#c10"/></svg><svg x="101" y="390" width="438" height="3" viewBox="101 391.824 438 0.04" preserveAspectRatio="none"><use href="#c10"/></svg><svg x="101" y="393" width="438" height="4" viewBox="101 395.488 438 0.04" preserveAspectRatio="none"><use href="#c10"/></svg><svg x="101" y="397" width="438" height="4" viewBox="101 399.152 438 0.04" preserveAspectRatio="none"><use href="#c10"/></svg><svg x="101" y="401" width="438" height="3" viewBox="101 402.816 438 0.04" preserveAspectRatio="none"><use href="#c10"/></svg><svg x="101" y="404" width="438" height="4" viewBox="101 406.48 438 0.04" preserveAspectRatio="none"><use href="#c10"/></svg><svg x="101" y="408" width="438" height="4" viewBox="101 410.144 438 0.04" preserveAspectRatio="none"><use href="#c10"/></svg><svg x="101" y="412" width="438" height="4" viewBox="101 413.808 438 0.04" preserveAspectRatio="none"><use href="#c10"/></svg><svg x="101" y="416" width="438" height="3" viewBox="101 417.472 438 0.04" preserveAspectRatio="none"><use href="#c10"/></svg><svg x="101" y="419" width="438" height="4" viewBox="101 421.136 438 0.04" preserveAspectRatio="none"><use href="#c10"/></svg><svg x="101" y="423" width="438" height="4" viewBox="101 424.8 438 0.04" preserveAspectRatio="none"><use href="#c10"/></svg><svg x="101" y="427" width="438" height="3" viewBox="101 428.464 438 0.04" preserveAspectRatio="none"><use href="#c10"/></svg><svg x="101" y="430" width="438" height="4" viewBox="101 432.128 438 0.04" preserveAspectRatio="none"><use href="#c10"/></svg><svg x="101" y="434" width="438" height="4" viewBox="101 435.792 438 0.04" preserveAspectRatio="none"><use href="#c10"/></svg><svg x="101" y="438" width="438" height="3" viewBox="101 439.456 438 0.04" preserveAspectRatio="none"><use href="#c10"/></svg><svg x="101" y="441" width="438" height="4" viewBox="101 443.12 438 0.04" preserveAspectRatio="none"><use href="#c10"/></svg><svg x="101" y="445" width="438" height="3" viewBox="101 446.784 438 0.04" preserveAspectRatio="none"><use href="#c10"/></svg><svg x="101" y="448" width="438" height="4" viewBox="101 450.448 438 0.04" preserveAspectRatio="none"><use href="#c10"/></svg><svg x="101" y="452" width="438" height="4" viewBox="101 454.112 438 0.04" preserveAspectRatio="none"><use href="#c10"/></svg><svg x="101" y="456" width="438" height="3" viewBox="101 457.776 438 0.04" preserveAspectRatio="none"><use href="#c10"/></svg><svg x="101" y="459" width="438" height="4" viewBox="101 461.44 438 0.04" preserveAspectRatio="none"><use href="#c10"/></svg><svg x="101" y="463" width="438" height="4" viewBox="101 465.104 438 0.04" preserveAspectRatio="none"><use href="#c10"/></svg><svg x="101" y="467" width="438" height="3" viewBox="101 468.768 438 0.04" preserveAspectRatio="none"><use href="#c10"/></svg><svg x="101" y="470" width="438" height="7" viewBox="101 472.432 438 0.04" preserveAspectRatio="none"><use href="#c10"/></svg><use href="#s10"/></g></g></g></g>
</g></g>
<g clip-path="url(#cp2)"><g filter="url(#bl2)"><g><g filter="url(#vm2)"><svg x="101" y="546" width="223" height="4" viewBox="101 548.237 223 0.04" preserveAspectRatio="none"><use href="#c21"/></svg><svg x="101" y="550" width="223" height="4" viewBox="101 551.913 223 0.04" preserveAspectRatio="none"><use href="#c21"/></svg><svg x="101" y="554" width="223" height="3" viewBox="101 555.589 223 0.04" preserveAspectRatio="none"><use href="#c21"/></svg><svg x="101" y="557" width="223" height="4" viewBox="101 559.265 223 0.04" preserveAspectRatio="none"><use href="#c21"/></svg><svg x="101" y="561" width="223" height="4" viewBox="101 562.941 223 0.04" preserveAspectRatio="none"><use href="#c21"/></svg><svg x="101" y="565" width="223" height="3" viewBox="101 566.617 223 0.04" preserveAspectRatio="none"><use href="#c21"/></svg><svg x="101" y="568" width="223" height="4" viewBox="101 570.293 223 0.04" preserveAspectRatio="none"><use href="#c21"/></svg><svg x="101" y="572" width="223" height="4" viewBox="101 573.969 223 0.04" preserveAspectRatio="none"><use href="#c21"/></svg><svg x="101" y="576" width="223" height="4" viewBox="101 577.645 223 0.04" preserveAspectRatio="none"><use href="#c21"/></svg><svg x="101" y="580" width="223" height="3" viewBox="101 581.321 223 0.04" preserveAspectRatio="none"><use href="#c21"/></svg><svg x="101" y="583" width="223" height="4" viewBox="101 584.997 223 0.04" preserveAspectRatio="none"><use href="#c21"/></svg><svg x="101" y="587" width="223" height="4" viewBox="101 588.673 223 0.04" preserveAspectRatio="none"><use href="#c21"/></svg><svg x="101" y="591" width="223" height="3" viewBox="101 592.349 223 0.04" preserveAspectRatio="none"><use href="#c21"/></svg><svg x="101" y="594" width="223" height="4" viewBox="101 596.025 223 0.04" preserveAspectRatio="none"><use href="#c21"/></svg><svg x="101" y="598" width="223" height="3" viewBox="101 599.701 223 0.04" preserveAspectRatio="none"><use href="#c21"/></svg><svg x="101" y="601" width="223" height="4" viewBox="101 603.377 223 0.04" preserveAspectRatio="none"><use href="#c21"/></svg><svg x="101" y="605" width="223" height="4" viewBox="101 607.053 223 0.04" preserveAspectRatio="none"><use href="#c21"/></svg><svg x="101" y="609" width="223" height="3" viewBox="101 610.729 223 0.04" preserveAspectRatio="none"><use href="#c21"/></svg><svg x="101" y="612" width="223" height="4" viewBox="101 614.405 223 0.04" preserveAspectRatio="none"><use href="#c21"/></svg><svg x="101" y="616" width="223" height="4" viewBox="101 618.081 223 0.04" preserveAspectRatio="none"><use href="#c21"/></svg><svg x="101" y="620" width="223" height="4" viewBox="101 621.757 223 0.04" preserveAspectRatio="none"><use href="#c21"/></svg><svg x="101" y="624" width="223" height="3" viewBox="101 625.433 223 0.04" preserveAspectRatio="none"><use href="#c21"/></svg><svg x="101" y="627" width="223" height="4" viewBox="101 629.109 223 0.04" preserveAspectRatio="none"><use href="#c21"/></svg><svg x="101" y="631" width="223" height="4" viewBox="101 632.785 223 0.04" preserveAspectRatio="none"><use href="#c21"/></svg><svg x="101" y="635" width="223" height="3" viewBox="101 636.461 223 0.04" preserveAspectRatio="none"><use href="#c21"/></svg><svg x="101" y="638" width="223" height="4" viewBox="101 640.137 223 0.04" preserveAspectRatio="none"><use href="#c21"/></svg><svg x="101" y="642" width="223" height="4" viewBox="101 643.813 223 0.04" preserveAspectRatio="none"><use href="#c21"/></svg><svg x="101" y="646" width="223" height="3" viewBox="101 647.489 223 0.04" preserveAspectRatio="none"><use href="#c21"/></svg><svg x="101" y="649" width="223" height="4" viewBox="101 651.165 223 0.04" preserveAspectRatio="none"><use href="#c21"/></svg><svg x="101" y="653" width="223" height="3" viewBox="101 654.841 223 0.04" preserveAspectRatio="none"><use href="#c21"/></svg><svg x="101" y="656" width="223" height="4" viewBox="101 658.517 223 0.04" preserveAspectRatio="none"><use href="#c21"/></svg><svg x="101" y="660" width="223" height="4" viewBox="101 662.193 223 0.04" preserveAspectRatio="none"><use href="#c21"/></svg><svg x="101" y="664" width="223" height="4" viewBox="101 665.869 223 0.04" preserveAspectRatio="none"><use href="#c21"/></svg><svg x="101" y="668" width="223" height="3" viewBox="101 669.545 223 0.04" preserveAspectRatio="none"><use href="#c21"/></svg><svg x="101" y="671" width="223" height="4" viewBox="101 673.221 223 0.04" preserveAspectRatio="none"><use href="#c21"/></svg><svg x="101" y="675" width="223" height="4" viewBox="101 676.897 223 0.04" preserveAspectRatio="none"><use href="#c21"/></svg><svg x="101" y="679" width="223" height="4" viewBox="101 680.573 223 0.04" preserveAspectRatio="none"><use href="#c21"/></svg><svg x="101" y="683" width="223" height="3" viewBox="101 684.249 223 0.04" preserveAspectRatio="none"><use href="#c21"/></svg><svg x="101" y="686" width="223" height="4" viewBox="101 687.925 223 0.04" preserveAspectRatio="none"><use href="#c21"/></svg><svg x="101" y="690" width="223" height="3" viewBox="101 691.601 223 0.04" preserveAspectRatio="none"><use href="#c21"/></svg><svg x="101" y="693" width="223" height="4" viewBox="101 695.277 223 0.04" preserveAspectRatio="none"><use href="#c21"/></svg><svg x="101" y="697" width="223" height="4" viewBox="101 698.953 223 0.04" preserveAspectRatio="none"><use href="#c21"/></svg><svg x="101" y="701" width="223" height="3" viewBox="101 702.629 223 0.04" preserveAspectRatio="none"><use href="#c21"/></svg><svg x="101" y="704" width="223" height="4" viewBox="101 706.305 223 0.04" preserveAspectRatio="none"><use href="#c21"/></svg><svg x="101" y="708" width="223" height="3" viewBox="101 709.981 223 0.04" preserveAspectRatio="none"><use href="#c21"/></svg><svg x="101" y="711" width="223" height="4" viewBox="101 713.657 223 0.04" preserveAspectRatio="none"><use href="#c21"/></svg><svg x="101" y="715" width="223" height="4" viewBox="101 717.333 223 0.04" preserveAspectRatio="none"><use href="#c21"/></svg><svg x="101" y="719" width="223" height="4" viewBox="101 721.009 223 0.04" preserveAspectRatio="none"><use href="#c21"/></svg><svg x="101" y="723" width="223" height="4" viewBox="101 724.685 223 0.04" preserveAspectRatio="none"><use href="#c21"/></svg><svg x="101" y="727" width="223" height="4" viewBox="101 728.361 223 0.04" preserveAspectRatio="none"><use href="#c21"/></svg><use href="#s21"/></g><g clip-path="url(#ce2)"><g filter="url(#vm2)"><svg x="101" y="546" width="223" height="4" viewBox="101 548.237 223 0.04" preserveAspectRatio="none"><use href="#c20"/></svg><svg x="101" y="550" width="223" height="4" viewBox="101 551.913 223 0.04" preserveAspectRatio="none"><use href="#c20"/></svg><svg x="101" y="554" width="223" height="3" viewBox="101 555.589 223 0.04" preserveAspectRatio="none"><use href="#c20"/></svg><svg x="101" y="557" width="223" height="4" viewBox="101 559.265 223 0.04" preserveAspectRatio="none"><use href="#c20"/></svg><svg x="101" y="561" width="223" height="4" viewBox="101 562.941 223 0.04" preserveAspectRatio="none"><use href="#c20"/></svg><svg x="101" y="565" width="223" height="3" viewBox="101 566.617 223 0.04" preserveAspectRatio="none"><use href="#c20"/></svg><svg x="101" y="568" width="223" height="4" viewBox="101 570.293 223 0.04" preserveAspectRatio="none"><use href="#c20"/></svg><svg x="101" y="572" width="223" height="4" viewBox="101 573.969 223 0.04" preserveAspectRatio="none"><use href="#c20"/></svg><svg x="101" y="576" width="223" height="4" viewBox="101 577.645 223 0.04" preserveAspectRatio="none"><use href="#c20"/></svg><svg x="101" y="580" width="223" height="3" viewBox="101 581.321 223 0.04" preserveAspectRatio="none"><use href="#c20"/></svg><svg x="101" y="583" width="223" height="4" viewBox="101 584.997 223 0.04" preserveAspectRatio="none"><use href="#c20"/></svg><svg x="101" y="587" width="223" height="4" viewBox="101 588.673 223 0.04" preserveAspectRatio="none"><use href="#c20"/></svg><svg x="101" y="591" width="223" height="3" viewBox="101 592.349 223 0.04" preserveAspectRatio="none"><use href="#c20"/></svg><svg x="101" y="594" width="223" height="4" viewBox="101 596.025 223 0.04" preserveAspectRatio="none"><use href="#c20"/></svg><svg x="101" y="598" width="223" height="3" viewBox="101 599.701 223 0.04" preserveAspectRatio="none"><use href="#c20"/></svg><svg x="101" y="601" width="223" height="4" viewBox="101 603.377 223 0.04" preserveAspectRatio="none"><use href="#c20"/></svg><svg x="101" y="605" width="223" height="4" viewBox="101 607.053 223 0.04" preserveAspectRatio="none"><use href="#c20"/></svg><svg x="101" y="609" width="223" height="3" viewBox="101 610.729 223 0.04" preserveAspectRatio="none"><use href="#c20"/></svg><svg x="101" y="612" width="223" height="4" viewBox="101 614.405 223 0.04" preserveAspectRatio="none"><use href="#c20"/></svg><svg x="101" y="616" width="223" height="4" viewBox="101 618.081 223 0.04" preserveAspectRatio="none"><use href="#c20"/></svg><svg x="101" y="620" width="223" height="4" viewBox="101 621.757 223 0.04" preserveAspectRatio="none"><use href="#c20"/></svg><svg x="101" y="624" width="223" height="3" viewBox="101 625.433 223 0.04" preserveAspectRatio="none"><use href="#c20"/></svg><svg x="101" y="627" width="223" height="4" viewBox="101 629.109 223 0.04" preserveAspectRatio="none"><use href="#c20"/></svg><svg x="101" y="631" width="223" height="4" viewBox="101 632.785 223 0.04" preserveAspectRatio="none"><use href="#c20"/></svg><svg x="101" y="635" width="223" height="3" viewBox="101 636.461 223 0.04" preserveAspectRatio="none"><use href="#c20"/></svg><svg x="101" y="638" width="223" height="4" viewBox="101 640.137 223 0.04" preserveAspectRatio="none"><use href="#c20"/></svg><svg x="101" y="642" width="223" height="4" viewBox="101 643.813 223 0.04" preserveAspectRatio="none"><use href="#c20"/></svg><svg x="101" y="646" width="223" height="3" viewBox="101 647.489 223 0.04" preserveAspectRatio="none"><use href="#c20"/></svg><svg x="101" y="649" width="223" height="4" viewBox="101 651.165 223 0.04" preserveAspectRatio="none"><use href="#c20"/></svg><svg x="101" y="653" width="223" height="3" viewBox="101 654.841 223 0.04" preserveAspectRatio="none"><use href="#c20"/></svg><svg x="101" y="656" width="223" height="4" viewBox="101 658.517 223 0.04" preserveAspectRatio="none"><use href="#c20"/></svg><svg x="101" y="660" width="223" height="4" viewBox="101 662.193 223 0.04" preserveAspectRatio="none"><use href="#c20"/></svg><svg x="101" y="664" width="223" height="4" viewBox="101 665.869 223 0.04" preserveAspectRatio="none"><use href="#c20"/></svg><svg x="101" y="668" width="223" height="3" viewBox="101 669.545 223 0.04" preserveAspectRatio="none"><use href="#c20"/></svg><svg x="101" y="671" width="223" height="4" viewBox="101 673.221 223 0.04" preserveAspectRatio="none"><use href="#c20"/></svg><svg x="101" y="675" width="223" height="4" viewBox="101 676.897 223 0.04" preserveAspectRatio="none"><use href="#c20"/></svg><svg x="101" y="679" width="223" height="4" viewBox="101 680.573 223 0.04" preserveAspectRatio="none"><use href="#c20"/></svg><svg x="101" y="683" width="223" height="3" viewBox="101 684.249 223 0.04" preserveAspectRatio="none"><use href="#c20"/></svg><svg x="101" y="686" width="223" height="4" viewBox="101 687.925 223 0.04" preserveAspectRatio="none"><use href="#c20"/></svg><svg x="101" y="690" width="223" height="3" viewBox="101 691.601 223 0.04" preserveAspectRatio="none"><use href="#c20"/></svg><svg x="101" y="693" width="223" height="4" viewBox="101 695.277 223 0.04" preserveAspectRatio="none"><use href="#c20"/></svg><svg x="101" y="697" width="223" height="4" viewBox="101 698.953 223 0.04" preserveAspectRatio="none"><use href="#c20"/></svg><svg x="101" y="701" width="223" height="3" viewBox="101 702.629 223 0.04" preserveAspectRatio="none"><use href="#c20"/></svg><svg x="101" y="704" width="223" height="4" viewBox="101 706.305 223 0.04" preserveAspectRatio="none"><use href="#c20"/></svg><svg x="101" y="708" width="223" height="3" viewBox="101 709.981 223 0.04" preserveAspectRatio="none"><use href="#c20"/></svg><svg x="101" y="711" width="223" height="4" viewBox="101 713.657 223 0.04" preserveAspectRatio="none"><use href="#c20"/></svg><svg x="101" y="715" width="223" height="4" viewBox="101 717.333 223 0.04" preserveAspectRatio="none"><use href="#c20"/></svg><svg x="101" y="719" width="223" height="4" viewBox="101 721.009 223 0.04" preserveAspectRatio="none"><use href="#c20"/></svg><svg x="101" y="723" width="223" height="4" viewBox="101 724.685 223 0.04" preserveAspectRatio="none"><use href="#c20"/></svg><svg x="101" y="727" width="223" height="4" viewBox="101 728.361 223 0.04" preserveAspectRatio="none"><use href="#c20"/></svg><use href="#s20"/></g></g></g>
<g clip-path="url(#cr2)"><g filter="url(#nf2)"><g filter="url(#vm2)"><svg x="101" y="546" width="223" height="2" viewBox="101 546.399 223 0.04" preserveAspectRatio="none"><use href="#c21"/></svg><svg x="101" y="548" width="223" height="4" viewBox="101 550.075 223 0.04" preserveAspectRatio="none"><use href="#c21"/></svg><svg x="101" y="552" width="223" height="3" viewBox="101 553.751 223 0.04" preserveAspectRatio="none"><use href="#c21"/></svg><svg x="101" y="555" width="223" height="4" viewBox="101 557.427 223 0.04" preserveAspectRatio="none"><use href="#c21"/></svg><svg x="101" y="559" width="223" height="4" viewBox="101 561.103 223 0.04" preserveAspectRatio="none"><use href="#c21"/></svg><svg x="101" y="563" width="223" height="3" viewBox="101 564.779 223 0.04" preserveAspectRatio="none"><use href="#c21"/></svg><svg x="101" y="566" width="223" height="4" viewBox="101 568.455 223 0.04" preserveAspectRatio="none"><use href="#c21"/></svg><svg x="101" y="570" width="223" height="4" viewBox="101 572.131 223 0.04" preserveAspectRatio="none"><use href="#c21"/></svg><svg x="101" y="574" width="223" height="4" viewBox="101 575.807 223 0.04" preserveAspectRatio="none"><use href="#c21"/></svg><svg x="101" y="578" width="223" height="4" viewBox="101 579.483 223 0.04" preserveAspectRatio="none"><use href="#c21"/></svg><svg x="101" y="582" width="223" height="3" viewBox="101 583.159 223 0.04" preserveAspectRatio="none"><use href="#c21"/></svg><svg x="101" y="585" width="223" height="4" viewBox="101 586.835 223 0.04" preserveAspectRatio="none"><use href="#c21"/></svg><svg x="101" y="589" width="223" height="3" viewBox="101 590.511 223 0.04" preserveAspectRatio="none"><use href="#c21"/></svg><svg x="101" y="592" width="223" height="4" viewBox="101 594.187 223 0.04" preserveAspectRatio="none"><use href="#c21"/></svg><svg x="101" y="596" width="223" height="4" viewBox="101 597.863 223 0.04" preserveAspectRatio="none"><use href="#c21"/></svg><svg x="101" y="600" width="223" height="3" viewBox="101 601.539 223 0.04" preserveAspectRatio="none"><use href="#c21"/></svg><svg x="101" y="603" width="223" height="4" viewBox="101 605.215 223 0.04" preserveAspectRatio="none"><use href="#c21"/></svg><svg x="101" y="607" width="223" height="3" viewBox="101 608.891 223 0.04" preserveAspectRatio="none"><use href="#c21"/></svg><svg x="101" y="610" width="223" height="4" viewBox="101 612.567 223 0.04" preserveAspectRatio="none"><use href="#c21"/></svg><svg x="101" y="614" width="223" height="4" viewBox="101 616.243 223 0.04" preserveAspectRatio="none"><use href="#c21"/></svg><svg x="101" y="618" width="223" height="4" viewBox="101 619.919 223 0.04" preserveAspectRatio="none"><use href="#c21"/></svg><svg x="101" y="622" width="223" height="4" viewBox="101 623.595 223 0.04" preserveAspectRatio="none"><use href="#c21"/></svg><svg x="101" y="626" width="223" height="3" viewBox="101 627.271 223 0.04" preserveAspectRatio="none"><use href="#c21"/></svg><svg x="101" y="629" width="223" height="4" viewBox="101 630.947 223 0.04" preserveAspectRatio="none"><use href="#c21"/></svg><svg x="101" y="633" width="223" height="4" viewBox="101 634.623 223 0.04" preserveAspectRatio="none"><use href="#c21"/></svg><svg x="101" y="637" width="223" height="3" viewBox="101 638.299 223 0.04" preserveAspectRatio="none"><use href="#c21"/></svg><svg x="101" y="640" width="223" height="4" viewBox="101 641.975 223 0.04" preserveAspectRatio="none"><use href="#c21"/></svg><svg x="101" y="644" width="223" height="3" viewBox="101 645.651 223 0.04" preserveAspectRatio="none"><use href="#c21"/></svg><svg x="101" y="647" width="223" height="4" viewBox="101 649.327 223 0.04" preserveAspectRatio="none"><use href="#c21"/></svg><svg x="101" y="651" width="223" height="4" viewBox="101 653.003 223 0.04" preserveAspectRatio="none"><use href="#c21"/></svg><svg x="101" y="655" width="223" height="3" viewBox="101 656.679 223 0.04" preserveAspectRatio="none"><use href="#c21"/></svg><svg x="101" y="658" width="223" height="4" viewBox="101 660.355 223 0.04" preserveAspectRatio="none"><use href="#c21"/></svg><svg x="101" y="662" width="223" height="4" viewBox="101 664.031 223 0.04" preserveAspectRatio="none"><use href="#c21"/></svg><svg x="101" y="666" width="223" height="3" viewBox="101 667.707 223 0.04" preserveAspectRatio="none"><use href="#c21"/></svg><svg x="101" y="669" width="223" height="4" viewBox="101 671.383 223 0.04" preserveAspectRatio="none"><use href="#c21"/></svg><svg x="101" y="673" width="223" height="4" viewBox="101 675.059 223 0.04" preserveAspectRatio="none"><use href="#c21"/></svg><svg x="101" y="677" width="223" height="4" viewBox="101 678.735 223 0.04" preserveAspectRatio="none"><use href="#c21"/></svg><svg x="101" y="681" width="223" height="3" viewBox="101 682.411 223 0.04" preserveAspectRatio="none"><use href="#c21"/></svg><svg x="101" y="684" width="223" height="4" viewBox="101 686.087 223 0.04" preserveAspectRatio="none"><use href="#c21"/></svg><svg x="101" y="688" width="223" height="4" viewBox="101 689.763 223 0.04" preserveAspectRatio="none"><use href="#c21"/></svg><svg x="101" y="692" width="223" height="3" viewBox="101 693.439 223 0.04" preserveAspectRatio="none"><use href="#c21"/></svg><svg x="101" y="695" width="223" height="4" viewBox="101 697.115 223 0.04" preserveAspectRatio="none"><use href="#c21"/></svg><svg x="101" y="699" width="223" height="3" viewBox="101 700.791 223 0.04" preserveAspectRatio="none"><use href="#c21"/></svg><svg x="101" y="702" width="223" height="4" viewBox="101 704.467 223 0.04" preserveAspectRatio="none"><use href="#c21"/></svg><svg x="101" y="706" width="223" height="4" viewBox="101 708.143 223 0.04" preserveAspectRatio="none"><use href="#c21"/></svg><svg x="101" y="710" width="223" height="3" viewBox="101 711.819 223 0.04" preserveAspectRatio="none"><use href="#c21"/></svg><svg x="101" y="713" width="223" height="4" viewBox="101 715.495 223 0.04" preserveAspectRatio="none"><use href="#c21"/></svg><svg x="101" y="717" width="223" height="4" viewBox="101 719.171 223 0.04" preserveAspectRatio="none"><use href="#c21"/></svg><svg x="101" y="721" width="223" height="4" viewBox="101 722.847 223 0.04" preserveAspectRatio="none"><use href="#c21"/></svg><svg x="101" y="725" width="223" height="6" viewBox="101 726.523 223 0.04" preserveAspectRatio="none"><use href="#c21"/></svg><use href="#s21"/></g><g clip-path="url(#ce2)"><g filter="url(#vm2)"><svg x="101" y="546" width="223" height="2" viewBox="101 546.399 223 0.04" preserveAspectRatio="none"><use href="#c20"/></svg><svg x="101" y="548" width="223" height="4" viewBox="101 550.075 223 0.04" preserveAspectRatio="none"><use href="#c20"/></svg><svg x="101" y="552" width="223" height="3" viewBox="101 553.751 223 0.04" preserveAspectRatio="none"><use href="#c20"/></svg><svg x="101" y="555" width="223" height="4" viewBox="101 557.427 223 0.04" preserveAspectRatio="none"><use href="#c20"/></svg><svg x="101" y="559" width="223" height="4" viewBox="101 561.103 223 0.04" preserveAspectRatio="none"><use href="#c20"/></svg><svg x="101" y="563" width="223" height="3" viewBox="101 564.779 223 0.04" preserveAspectRatio="none"><use href="#c20"/></svg><svg x="101" y="566" width="223" height="4" viewBox="101 568.455 223 0.04" preserveAspectRatio="none"><use href="#c20"/></svg><svg x="101" y="570" width="223" height="4" viewBox="101 572.131 223 0.04" preserveAspectRatio="none"><use href="#c20"/></svg><svg x="101" y="574" width="223" height="4" viewBox="101 575.807 223 0.04" preserveAspectRatio="none"><use href="#c20"/></svg><svg x="101" y="578" width="223" height="4" viewBox="101 579.483 223 0.04" preserveAspectRatio="none"><use href="#c20"/></svg><svg x="101" y="582" width="223" height="3" viewBox="101 583.159 223 0.04" preserveAspectRatio="none"><use href="#c20"/></svg><svg x="101" y="585" width="223" height="4" viewBox="101 586.835 223 0.04" preserveAspectRatio="none"><use href="#c20"/></svg><svg x="101" y="589" width="223" height="3" viewBox="101 590.511 223 0.04" preserveAspectRatio="none"><use href="#c20"/></svg><svg x="101" y="592" width="223" height="4" viewBox="101 594.187 223 0.04" preserveAspectRatio="none"><use href="#c20"/></svg><svg x="101" y="596" width="223" height="4" viewBox="101 597.863 223 0.04" preserveAspectRatio="none"><use href="#c20"/></svg><svg x="101" y="600" width="223" height="3" viewBox="101 601.539 223 0.04" preserveAspectRatio="none"><use href="#c20"/></svg><svg x="101" y="603" width="223" height="4" viewBox="101 605.215 223 0.04" preserveAspectRatio="none"><use href="#c20"/></svg><svg x="101" y="607" width="223" height="3" viewBox="101 608.891 223 0.04" preserveAspectRatio="none"><use href="#c20"/></svg><svg x="101" y="610" width="223" height="4" viewBox="101 612.567 223 0.04" preserveAspectRatio="none"><use href="#c20"/></svg><svg x="101" y="614" width="223" height="4" viewBox="101 616.243 223 0.04" preserveAspectRatio="none"><use href="#c20"/></svg><svg x="101" y="618" width="223" height="4" viewBox="101 619.919 223 0.04" preserveAspectRatio="none"><use href="#c20"/></svg><svg x="101" y="622" width="223" height="4" viewBox="101 623.595 223 0.04" preserveAspectRatio="none"><use href="#c20"/></svg><svg x="101" y="626" width="223" height="3" viewBox="101 627.271 223 0.04" preserveAspectRatio="none"><use href="#c20"/></svg><svg x="101" y="629" width="223" height="4" viewBox="101 630.947 223 0.04" preserveAspectRatio="none"><use href="#c20"/></svg><svg x="101" y="633" width="223" height="4" viewBox="101 634.623 223 0.04" preserveAspectRatio="none"><use href="#c20"/></svg><svg x="101" y="637" width="223" height="3" viewBox="101 638.299 223 0.04" preserveAspectRatio="none"><use href="#c20"/></svg><svg x="101" y="640" width="223" height="4" viewBox="101 641.975 223 0.04" preserveAspectRatio="none"><use href="#c20"/></svg><svg x="101" y="644" width="223" height="3" viewBox="101 645.651 223 0.04" preserveAspectRatio="none"><use href="#c20"/></svg><svg x="101" y="647" width="223" height="4" viewBox="101 649.327 223 0.04" preserveAspectRatio="none"><use href="#c20"/></svg><svg x="101" y="651" width="223" height="4" viewBox="101 653.003 223 0.04" preserveAspectRatio="none"><use href="#c20"/></svg><svg x="101" y="655" width="223" height="3" viewBox="101 656.679 223 0.04" preserveAspectRatio="none"><use href="#c20"/></svg><svg x="101" y="658" width="223" height="4" viewBox="101 660.355 223 0.04" preserveAspectRatio="none"><use href="#c20"/></svg><svg x="101" y="662" width="223" height="4" viewBox="101 664.031 223 0.04" preserveAspectRatio="none"><use href="#c20"/></svg><svg x="101" y="666" width="223" height="3" viewBox="101 667.707 223 0.04" preserveAspectRatio="none"><use href="#c20"/></svg><svg x="101" y="669" width="223" height="4" viewBox="101 671.383 223 0.04" preserveAspectRatio="none"><use href="#c20"/></svg><svg x="101" y="673" width="223" height="4" viewBox="101 675.059 223 0.04" preserveAspectRatio="none"><use href="#c20"/></svg><svg x="101" y="677" width="223" height="4" viewBox="101 678.735 223 0.04" preserveAspectRatio="none"><use href="#c20"/></svg><svg x="101" y="681" width="223" height="3" viewBox="101 682.411 223 0.04" preserveAspectRatio="none"><use href="#c20"/></svg><svg x="101" y="684" width="223" height="4" viewBox="101 686.087 223 0.04" preserveAspectRatio="none"><use href="#c20"/></svg><svg x="101" y="688" width="223" height="4" viewBox="101 689.763 223 0.04" preserveAspectRatio="none"><use href="#c20"/></svg><svg x="101" y="692" width="223" height="3" viewBox="101 693.439 223 0.04" preserveAspectRatio="none"><use href="#c20"/></svg><svg x="101" y="695" width="223" height="4" viewBox="101 697.115 223 0.04" preserveAspectRatio="none"><use href="#c20"/></svg><svg x="101" y="699" width="223" height="3" viewBox="101 700.791 223 0.04" preserveAspectRatio="none"><use href="#c20"/></svg><svg x="101" y="702" width="223" height="4" viewBox="101 704.467 223 0.04" preserveAspectRatio="none"><use href="#c20"/></svg><svg x="101" y="706" width="223" height="4" viewBox="101 708.143 223 0.04" preserveAspectRatio="none"><use href="#c20"/></svg><svg x="101" y="710" width="223" height="3" viewBox="101 711.819 223 0.04" preserveAspectRatio="none"><use href="#c20"/></svg><svg x="101" y="713" width="223" height="4" viewBox="101 715.495 223 0.04" preserveAspectRatio="none"><use href="#c20"/></svg><svg x="101" y="717" width="223" height="4" viewBox="101 719.171 223 0.04" preserveAspectRatio="none"><use href="#c20"/></svg><svg x="101" y="721" width="223" height="4" viewBox="101 722.847 223 0.04" preserveAspectRatio="none"><use href="#c20"/></svg><svg x="101" y="725" width="223" height="6" viewBox="101 726.523 223 0.04" preserveAspectRatio="none"><use href="#c20"/></svg><use href="#s20"/></g></g></g></g>
</g></g>
<g filter="url(#soft)">
<text class="tk" letter-spacing="-.8" text-anchor="middle" transform="translate(94.22 38.2) scale(1 1.04) rotate(.05)">0</text><text class="tk" letter-spacing="-.8" text-anchor="middle" transform="translate(278.36 38.2) scale(1 1.04) rotate(.05)">100</text><text class="tk" letter-spacing="-.8" text-anchor="middle" transform="translate(462.5 38.2) scale(1 1.04) rotate(.05)">200</text><text class="tk" letter-spacing="-.8" text-anchor="middle" transform="translate(646.64 38.2) scale(1 1.04) rotate(.05)">300</text><text class="tk" letter-spacing="-.8" text-anchor="middle" transform="translate(830.78 38.2) scale(1 1.04) rotate(.05)">400</text><text class="tk" letter-spacing="-.8" text-anchor="middle" transform="translate(1014.92 38.2) scale(1 1.04) rotate(.05)">500</text><text class="tk" letter-spacing="-.5" text-anchor="end" transform="translate(84.6 55.71) scale(1 1.04) rotate(.05)">0</text><text class="tk" letter-spacing="-.5" text-anchor="end" transform="translate(84.6 92.09) scale(1 1.04) rotate(.05)">20</text><text class="tk" letter-spacing="-.5" text-anchor="end" transform="translate(84.6 128.47) scale(1 1.04) rotate(.05)">40</text><text class="tk" letter-spacing="-.5" text-anchor="end" transform="translate(84.6 164.85) scale(1 1.04) rotate(.05)">60</text><text class="tk" letter-spacing="-.5" text-anchor="end" transform="translate(84.6 201.23) scale(1 1.04) rotate(.05)">80</text><text class="tk" letter-spacing="-.8" text-anchor="middle" transform="translate(103.01 282.5) scale(1 1.04) rotate(.05)">0</text><text class="tk" letter-spacing="-.8" text-anchor="middle" transform="translate(285.91 282.5) scale(1 1.04) rotate(.05)">100</text><text class="tk" letter-spacing="-.8" text-anchor="middle" transform="translate(468.8 282.5) scale(1 1.04) rotate(.05)">200</text><text class="tk" letter-spacing="-.8" text-anchor="middle" transform="translate(651.69 282.5) scale(1 1.04) rotate(.05)">300</text><text class="tk" letter-spacing="-.8" text-anchor="middle" transform="translate(834.58 282.5) scale(1 1.04) rotate(.05)">400</text><text class="tk" letter-spacing="-.8" text-anchor="middle" transform="translate(1017.47 282.5) scale(1 1.04) rotate(.05)">500</text><text class="tk" letter-spacing="-.5" text-anchor="end" transform="translate(92.5 299.11) scale(1 1.04) rotate(.05)">0</text><text class="tk" letter-spacing="-.5" text-anchor="end" transform="translate(92.5 335.43) scale(1 1.04) rotate(.05)">20</text><text class="tk" letter-spacing="-.5" text-anchor="end" transform="translate(92.5 371.75) scale(1 1.04) rotate(.05)">40</text><text class="tk" letter-spacing="-.5" text-anchor="end" transform="translate(92.5 408.07) scale(1 1.04) rotate(.05)">60</text><text class="tk" letter-spacing="-.5" text-anchor="end" transform="translate(92.5 444.39) scale(1 1.04) rotate(.05)">80</text><text class="tk" letter-spacing="-.8" text-anchor="middle" transform="translate(102.92 535) scale(1 1.04) rotate(.05)">0</text><text class="tk" letter-spacing="-.8" text-anchor="middle" transform="translate(286.08 535) scale(1 1.04) rotate(.05)">100</text><text class="tk" letter-spacing="-.8" text-anchor="middle" transform="translate(469.24 535) scale(1 1.04) rotate(.05)">200</text><text class="tk" letter-spacing="-.8" text-anchor="middle" transform="translate(652.41 535) scale(1 1.04) rotate(.05)">300</text><text class="tk" letter-spacing="-.8" text-anchor="middle" transform="translate(835.57 535) scale(1 1.04) rotate(.05)">400</text><text class="tk" letter-spacing="-.8" text-anchor="middle" transform="translate(1018.74 535) scale(1 1.04) rotate(.05)">500</text><text class="tk" letter-spacing="-.5" text-anchor="end" transform="translate(92.4 552.51) scale(1 1.04) rotate(.05)">0</text><text class="tk" letter-spacing="-.5" text-anchor="end" transform="translate(92.4 588.95) scale(1 1.04) rotate(.05)">20</text><text class="tk" letter-spacing="-.5" text-anchor="end" transform="translate(92.4 625.39) scale(1 1.04) rotate(.05)">40</text><text class="tk" letter-spacing="-.5" text-anchor="end" transform="translate(92.4 661.83) scale(1 1.04) rotate(.05)">60</text><text class="tk" letter-spacing="-.5" text-anchor="end" transform="translate(92.4 698.27) scale(1 1.04) rotate(.05)">80</text><rect x="1096.4" y="26.1" width="11.1" height="228.8" fill="url(#cb)"/>
<text class="tk" letter-spacing="-.25" transform="translate(1116.7 31.95) scale(1 1.04) rotate(.05)">1.00</text><text class="tk" letter-spacing="-.25" transform="translate(1116.7 60.55) scale(1 1.04) rotate(.05)">0.75</text><text class="tk" letter-spacing="-.25" transform="translate(1116.7 89.15) scale(1 1.04) rotate(.05)">0.50</text><text class="tk" letter-spacing="-.25" transform="translate(1116.7 117.75) scale(1 1.04) rotate(.05)">0.25</text><text class="tk" letter-spacing="-.25" transform="translate(1116.7 146.35) scale(1 1.04) rotate(.05)">0.00</text><text class="tk" letter-spacing="-.25" transform="translate(1116.7 174.95) scale(1 1.04) rotate(.05)">−0.25</text><text class="tk" letter-spacing="-.25" transform="translate(1116.7 203.55) scale(1 1.04) rotate(.05)">−0.50</text><text class="tk" letter-spacing="-.25" transform="translate(1116.7 232.15) scale(1 1.04) rotate(.05)">−0.75</text><rect x="1097.3" y="270.2" width="11.5" height="229.2" fill="url(#cb)"/>
<text class="tk" letter-spacing="-.25" transform="translate(1118 276.05) scale(1 1.04) rotate(.05)">1.00</text><text class="tk" letter-spacing="-.25" transform="translate(1118 304.7) scale(1 1.04) rotate(.05)">0.75</text><text class="tk" letter-spacing="-.25" transform="translate(1118 333.35) scale(1 1.04) rotate(.05)">0.50</text><text class="tk" letter-spacing="-.25" transform="translate(1118 362) scale(1 1.04) rotate(.05)">0.25</text><text class="tk" letter-spacing="-.25" transform="translate(1118 390.65) scale(1 1.04) rotate(.05)">0.00</text><text class="tk" letter-spacing="-.25" transform="translate(1118 419.3) scale(1 1.04) rotate(.05)">−0.25</text><text class="tk" letter-spacing="-.25" transform="translate(1118 447.95) scale(1 1.04) rotate(.05)">−0.50</text><text class="tk" letter-spacing="-.25" transform="translate(1118 476.6) scale(1 1.04) rotate(.05)">−0.75</text><rect x="1098.3" y="523.1" width="11.5" height="229.8" fill="url(#cb)"/>
<text class="tk" letter-spacing="-.25" transform="translate(1119 528.95) scale(1 1.04) rotate(.05)">1.00</text><text class="tk" letter-spacing="-.25" transform="translate(1119 557.68) scale(1 1.04) rotate(.05)">0.75</text><text class="tk" letter-spacing="-.25" transform="translate(1119 586.4) scale(1 1.04) rotate(.05)">0.50</text><text class="tk" letter-spacing="-.25" transform="translate(1119 615.12) scale(1 1.04) rotate(.05)">0.25</text><text class="tk" letter-spacing="-.25" transform="translate(1119 643.85) scale(1 1.04) rotate(.05)">0.00</text><text class="tk" letter-spacing="-.25" transform="translate(1119 672.58) scale(1 1.04) rotate(.05)">−0.25</text><text class="tk" letter-spacing="-.25" transform="translate(1119 701.3) scale(1 1.04) rotate(.05)">−0.50</text><text class="tk" letter-spacing="-.25" transform="translate(1119 730.02) scale(1 1.04) rotate(.05)">−0.75</text></g>
<g fill="none" stroke="#262626" stroke-width="1.0">
<rect x="94.4" y="49.3" width="942.8" height="181.9" fill="none"/>
<path d="M95.32 49.3v-4.6M95.32 231.2v4.6M279.46 49.3v-4.6M279.46 231.2v4.6M463.6 49.3v-4.6M463.6 231.2v4.6M647.74 49.3v-4.6M647.74 231.2v4.6M831.88 49.3v-4.6M831.88 231.2v4.6M1016.02 49.3v-4.6M1016.02 231.2v4.6M94.4 50.21h-4.6M94.4 86.59h-4.6M94.4 122.97h-4.6M94.4 159.35h-4.6M94.4 195.73h-4.6"/>
<rect x="102.3" y="293.6" width="936.4" height="181.6" fill="none"/>
<path d="M103.21 293.6v-4.6M103.21 475.2v4.6M286.11 293.6v-4.6M286.11 475.2v4.6M469 293.6v-4.6M469 475.2v4.6M651.89 293.6v-4.6M651.89 475.2v4.6M834.78 293.6v-4.6M834.78 475.2v4.6M1017.67 293.6v-4.6M1017.67 475.2v4.6M102.3 294.51h-4.6M102.3 330.83h-4.6M102.3 367.15h-4.6M102.3 403.47h-4.6M102.3 439.79h-4.6"/>
<rect x="102.2" y="547.1" width="937.8" height="182.2" fill="none"/>
<path d="M103.12 547.1v-4.6M103.12 729.3v4.6M286.28 547.1v-4.6M286.28 729.3v4.6M469.44 547.1v-4.6M469.44 729.3v4.6M652.61 547.1v-4.6M652.61 729.3v4.6M835.77 547.1v-4.6M835.77 729.3v4.6M1018.94 547.1v-4.6M1018.94 729.3v4.6M102.2 548.01h-4.6M102.2 584.45h-4.6M102.2 620.89h-4.6M102.2 657.33h-4.6M102.2 693.77h-4.6"/>
<rect x="1096.4" y="26.1" width="11.1" height="228.8" stroke-width="0.9"/>
<path d="M1107.5 26.1h4.8M1107.5 54.7h4.8M1107.5 83.3h4.8M1107.5 111.9h4.8M1107.5 140.5h4.8M1107.5 169.1h4.8M1107.5 197.7h4.8M1107.5 226.3h4.8"/>
<rect x="1097.3" y="270.2" width="11.5" height="229.2" stroke-width="0.9"/>
<path d="M1108.8 270.2h4.8M1108.8 298.85h4.8M1108.8 327.5h4.8M1108.8 356.15h4.8M1108.8 384.8h4.8M1108.8 413.45h4.8M1108.8 442.1h4.8M1108.8 470.75h4.8"/>
<rect x="1098.3" y="523.1" width="11.5" height="229.8" stroke-width="0.9"/>
<path d="M1109.8 523.1h4.8M1109.8 551.83h4.8M1109.8 580.55h4.8M1109.8 609.27h4.8M1109.8 638h4.8M1109.8 666.73h4.8M1109.8 695.45h4.8M1109.8 724.17h4.8"/>
</g>
<text class="nl" dx="-.6 1.2 1.5" transform="translate(1261.4 161.9) scale(1 1.04)">N=1</text>
<text class="nl" dx="0 .4 .5 0 0" transform="translate(1263.3 385.4) scale(1 1.04)">N=100</text>
<text class="nl" dx="-1.1 1.1 1.7 -.6 -.5 -.5 -1.3" transform="translate(1261.4 640.2) scale(1 1.04)">N=10000</text>
<g class="mt"><text font-size="30" transform="translate(557.8 799.6) scale(0.66 1.13)">[</text><text font-size="27" transform="translate(564.5 797.5) scale(1 1)">2</text><text font-size="27" font-style="italic" transform="translate(577.5 797.5) scale(1.3 1)">π</text><text font-size="27" transform="translate(596 797.5) scale(1 1)">,</text><text font-size="27" transform="translate(608 797.5) scale(1 1)">2</text><text font-size="27" font-style="italic" transform="translate(621.2 797.5) scale(1.3 1)">π</text><text font-size="23.4" transform="translate(644.1 798) scale(1 1)">∗</text><text font-size="27.5" font-style="italic" transform="translate(666.9 797.5) scale(1.27 1)">N</text><text font-size="30" transform="translate(691.3 799.6) scale(0.66 1.13)">]</text></g>
</svg>
</body></html>
